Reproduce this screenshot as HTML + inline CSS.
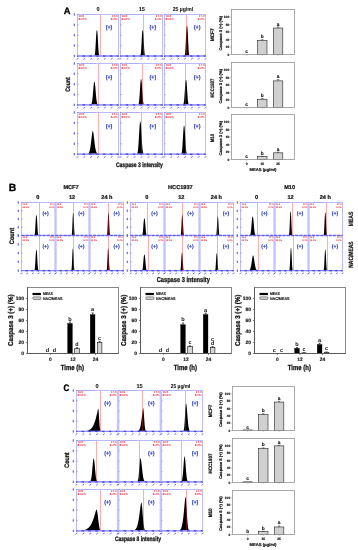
<!DOCTYPE html>
<html><head><meta charset="utf-8"><title>Figure</title>
<style>html,body{margin:0;padding:0;background:#fff;}body{width:358px;height:550px;overflow:hidden;}svg{display:block;}text{font-family:"Liberation Sans",Arial,sans-serif;text-rendering:geometricPrecision;}</style>
</head><body>
<svg width="358" height="550" viewBox="0 0 358 550" font-family="Liberation Sans, Arial, sans-serif">
<rect x="0.00" y="0.00" width="358.00" height="550.00" fill="#fff" stroke="none" stroke-width="1"/>
<text x="67.00" y="14.20" font-size="9.3" text-anchor="middle" font-weight="bold" fill="#000" stroke="#000" stroke-width="0.3">A</text>
<rect x="77.50" y="14.50" width="41.00" height="41.50" fill="#fff" stroke="none" stroke-width="1"/>
<path d="M93.96,56.00 L93.96,55.98 L94.04,55.96 L94.11,55.94 L94.18,55.92 L94.26,55.88 L94.33,55.83 L94.40,55.75 L94.48,55.66 L94.55,55.53 L94.62,55.36 L94.70,55.14 L94.77,54.87 L94.84,54.53 L94.92,54.11 L94.99,53.61 L95.06,53.02 L95.14,52.32 L95.21,51.53 L95.28,50.62 L95.36,49.61 L95.43,48.50 L95.50,47.30 L95.58,46.01 L95.65,44.67 L95.72,43.28 L95.80,41.87 L95.87,40.45 L95.95,39.06 L96.02,37.72 L96.09,36.44 L96.17,35.26 L96.24,34.19 L96.31,33.23 L96.39,32.41 L96.46,31.72 L96.53,31.18 L96.61,30.76 L96.68,30.48 L96.75,30.30 L96.83,30.22 L96.90,30.20 L96.90,30.20 L96.97,30.22 L97.05,30.30 L97.12,30.48 L97.19,30.76 L97.27,31.18 L97.34,31.72 L97.41,32.41 L97.49,33.23 L97.56,34.19 L97.63,35.26 L97.71,36.44 L97.78,37.72 L97.85,39.06 L97.93,40.45 L98.00,41.87 L98.08,43.28 L98.15,44.67 L98.22,46.01 L98.30,47.30 L98.37,48.50 L98.44,49.61 L98.52,50.62 L98.59,51.53 L98.66,52.32 L98.74,53.02 L98.81,53.61 L98.88,54.11 L98.96,54.53 L99.03,54.87 L99.10,55.14 L99.18,55.36 L99.25,55.53 L99.32,55.66 L99.40,55.75 L99.47,55.83 L99.54,55.88 L99.62,55.92 L99.69,55.94 L99.76,55.96 L99.84,55.98 L99.84,56.00 Z" fill="#000"/>
<line x1="100.50" y1="14.50" x2="100.50" y2="56.00" stroke="#ff2020" stroke-width="0.9" opacity="0.42"/>
<rect x="77.50" y="14.50" width="41.00" height="41.50" fill="none" stroke="#b4b4ff" stroke-width="0.9"/>
<line x1="77.50" y1="56.00" x2="118.50" y2="56.00" stroke="#8c8cff" stroke-width="1.3"/>
<line x1="77.50" y1="56.00" x2="78.10" y2="56.00" stroke="#4444ec" stroke-width="1.3"/>
<line x1="82.53" y1="56.00" x2="84.93" y2="56.00" stroke="#4444ec" stroke-width="1.3"/>
<line x1="89.37" y1="56.00" x2="91.77" y2="56.00" stroke="#4444ec" stroke-width="1.3"/>
<line x1="96.20" y1="56.00" x2="98.60" y2="56.00" stroke="#4444ec" stroke-width="1.3"/>
<line x1="103.03" y1="56.00" x2="105.43" y2="56.00" stroke="#4444ec" stroke-width="1.3"/>
<line x1="109.87" y1="56.00" x2="112.27" y2="56.00" stroke="#4444ec" stroke-width="1.3"/>
<line x1="116.70" y1="56.00" x2="118.50" y2="56.00" stroke="#4444ec" stroke-width="1.3"/>
<line x1="81.60" y1="14.50" x2="95.95" y2="14.50" stroke="#8080c0" stroke-width="0.5" opacity="0.5"/>
<line x1="77.50" y1="14.50" x2="78.50" y2="14.50" stroke="#4848f2" stroke-width="0.6"/>
<rect x="73.70" y="13.30" width="1.30" height="2.40" fill="#5c5cf6" stroke="none" stroke-width="1" opacity="0.85"/>
<line x1="77.50" y1="24.88" x2="78.50" y2="24.88" stroke="#4848f2" stroke-width="0.6"/>
<rect x="73.70" y="23.68" width="1.30" height="2.40" fill="#5c5cf6" stroke="none" stroke-width="1" opacity="0.85"/>
<line x1="77.50" y1="35.25" x2="78.50" y2="35.25" stroke="#4848f2" stroke-width="0.6"/>
<rect x="73.70" y="34.05" width="1.30" height="2.40" fill="#5c5cf6" stroke="none" stroke-width="1" opacity="0.85"/>
<line x1="77.50" y1="45.62" x2="78.50" y2="45.62" stroke="#4848f2" stroke-width="0.6"/>
<rect x="73.70" y="44.42" width="1.30" height="2.40" fill="#5c5cf6" stroke="none" stroke-width="1" opacity="0.85"/>
<line x1="77.50" y1="56.00" x2="78.50" y2="56.00" stroke="#4848f2" stroke-width="0.6"/>
<rect x="73.70" y="54.80" width="1.30" height="2.40" fill="#5c5cf6" stroke="none" stroke-width="1" opacity="0.85"/>
<line x1="77.50" y1="56.00" x2="77.50" y2="57.00" stroke="#4848f2" stroke-width="0.5"/>
<line x1="76.60" y1="59.40" x2="78.40" y2="58.20" stroke="#5c5cf6" stroke-width="0.9"/>
<line x1="84.33" y1="56.00" x2="84.33" y2="57.00" stroke="#4848f2" stroke-width="0.5"/>
<line x1="83.43" y1="59.40" x2="85.23" y2="58.20" stroke="#5c5cf6" stroke-width="0.9"/>
<line x1="91.17" y1="56.00" x2="91.17" y2="57.00" stroke="#4848f2" stroke-width="0.5"/>
<line x1="90.27" y1="59.40" x2="92.07" y2="58.20" stroke="#5c5cf6" stroke-width="0.9"/>
<line x1="98.00" y1="56.00" x2="98.00" y2="57.00" stroke="#4848f2" stroke-width="0.5"/>
<line x1="97.10" y1="59.40" x2="98.90" y2="58.20" stroke="#5c5cf6" stroke-width="0.9"/>
<line x1="104.83" y1="56.00" x2="104.83" y2="57.00" stroke="#4848f2" stroke-width="0.5"/>
<line x1="103.93" y1="59.40" x2="105.73" y2="58.20" stroke="#5c5cf6" stroke-width="0.9"/>
<line x1="111.67" y1="56.00" x2="111.67" y2="57.00" stroke="#4848f2" stroke-width="0.5"/>
<line x1="110.77" y1="59.40" x2="112.57" y2="58.20" stroke="#5c5cf6" stroke-width="0.9"/>
<line x1="118.50" y1="56.00" x2="118.50" y2="57.00" stroke="#4848f2" stroke-width="0.5"/>
<line x1="117.60" y1="59.40" x2="119.40" y2="58.20" stroke="#5c5cf6" stroke-width="0.9"/>
<text x="78.40" y="17.30" font-size="3.00" text-anchor="start" font-weight="bold" fill="#ee2a36" text-rendering="geometricPrecision">13.5</text>
<text x="78.40" y="19.80" font-size="3.00" text-anchor="start" font-weight="bold" fill="#ee2a36" text-rendering="geometricPrecision">84.0%</text>
<text x="117.70" y="17.30" font-size="3.00" text-anchor="end" font-weight="bold" fill="#ee2a36" text-rendering="geometricPrecision">17.0</text>
<text x="117.70" y="19.80" font-size="3.00" text-anchor="end" font-weight="bold" fill="#ee2a36" text-rendering="geometricPrecision">8.2%</text>
<text x="109.00" y="28.70" font-size="5.4" text-anchor="middle" font-weight="bold" fill="#2a3ec8" stroke="#2a3ec8" stroke-width="0.15">(+)</text>
<rect x="120.50" y="14.50" width="42.00" height="41.50" fill="#fff" stroke="none" stroke-width="1"/>
<path d="M139.76,56.00 L139.76,55.98 L139.84,55.96 L139.91,55.94 L139.98,55.92 L140.06,55.88 L140.13,55.83 L140.20,55.75 L140.28,55.66 L140.35,55.53 L140.42,55.36 L140.50,55.14 L140.57,54.87 L140.64,54.53 L140.72,54.11 L140.79,53.61 L140.86,53.02 L140.94,52.32 L141.01,51.53 L141.08,50.62 L141.16,49.61 L141.23,48.50 L141.30,47.30 L141.38,46.01 L141.45,44.67 L141.52,43.28 L141.60,41.87 L141.67,40.45 L141.75,39.06 L141.82,37.72 L141.89,36.44 L141.97,35.26 L142.04,34.19 L142.11,33.23 L142.19,32.41 L142.26,31.72 L142.33,31.18 L142.41,30.76 L142.48,30.48 L142.55,30.30 L142.63,30.22 L142.70,30.20 L142.70,30.20 L142.77,30.22 L142.85,30.30 L142.92,30.48 L142.99,30.76 L143.07,31.18 L143.14,31.72 L143.21,32.41 L143.29,33.23 L143.36,34.19 L143.43,35.26 L143.51,36.44 L143.58,37.72 L143.65,39.06 L143.73,40.45 L143.80,41.87 L143.88,43.28 L143.95,44.67 L144.02,46.01 L144.10,47.30 L144.17,48.50 L144.24,49.61 L144.32,50.62 L144.39,51.53 L144.46,52.32 L144.54,53.02 L144.61,53.61 L144.68,54.11 L144.76,54.53 L144.83,54.87 L144.90,55.14 L144.98,55.36 L145.05,55.53 L145.12,55.66 L145.20,55.75 L145.27,55.83 L145.34,55.88 L145.42,55.92 L145.49,55.94 L145.56,55.96 L145.64,55.98 L145.64,56.00 Z" fill="#000"/>
<line x1="143.50" y1="14.50" x2="143.50" y2="56.00" stroke="#ff2020" stroke-width="0.9" opacity="0.42"/>
<rect x="120.50" y="14.50" width="42.00" height="41.50" fill="none" stroke="#b4b4ff" stroke-width="0.9"/>
<line x1="120.50" y1="56.00" x2="162.50" y2="56.00" stroke="#8c8cff" stroke-width="1.3"/>
<line x1="120.50" y1="56.00" x2="121.10" y2="56.00" stroke="#4444ec" stroke-width="1.3"/>
<line x1="125.70" y1="56.00" x2="128.10" y2="56.00" stroke="#4444ec" stroke-width="1.3"/>
<line x1="132.70" y1="56.00" x2="135.10" y2="56.00" stroke="#4444ec" stroke-width="1.3"/>
<line x1="139.70" y1="56.00" x2="142.10" y2="56.00" stroke="#4444ec" stroke-width="1.3"/>
<line x1="146.70" y1="56.00" x2="149.10" y2="56.00" stroke="#4444ec" stroke-width="1.3"/>
<line x1="153.70" y1="56.00" x2="156.10" y2="56.00" stroke="#4444ec" stroke-width="1.3"/>
<line x1="160.70" y1="56.00" x2="162.50" y2="56.00" stroke="#4444ec" stroke-width="1.3"/>
<line x1="124.70" y1="14.50" x2="139.40" y2="14.50" stroke="#8080c0" stroke-width="0.5" opacity="0.5"/>
<line x1="120.50" y1="14.50" x2="121.50" y2="14.50" stroke="#4848f2" stroke-width="0.6"/>
<line x1="120.50" y1="24.88" x2="121.50" y2="24.88" stroke="#4848f2" stroke-width="0.6"/>
<line x1="120.50" y1="35.25" x2="121.50" y2="35.25" stroke="#4848f2" stroke-width="0.6"/>
<line x1="120.50" y1="45.62" x2="121.50" y2="45.62" stroke="#4848f2" stroke-width="0.6"/>
<line x1="120.50" y1="56.00" x2="121.50" y2="56.00" stroke="#4848f2" stroke-width="0.6"/>
<line x1="120.50" y1="56.00" x2="120.50" y2="57.00" stroke="#4848f2" stroke-width="0.5"/>
<line x1="119.60" y1="59.40" x2="121.40" y2="58.20" stroke="#5c5cf6" stroke-width="0.9"/>
<line x1="127.50" y1="56.00" x2="127.50" y2="57.00" stroke="#4848f2" stroke-width="0.5"/>
<line x1="126.60" y1="59.40" x2="128.40" y2="58.20" stroke="#5c5cf6" stroke-width="0.9"/>
<line x1="134.50" y1="56.00" x2="134.50" y2="57.00" stroke="#4848f2" stroke-width="0.5"/>
<line x1="133.60" y1="59.40" x2="135.40" y2="58.20" stroke="#5c5cf6" stroke-width="0.9"/>
<line x1="141.50" y1="56.00" x2="141.50" y2="57.00" stroke="#4848f2" stroke-width="0.5"/>
<line x1="140.60" y1="59.40" x2="142.40" y2="58.20" stroke="#5c5cf6" stroke-width="0.9"/>
<line x1="148.50" y1="56.00" x2="148.50" y2="57.00" stroke="#4848f2" stroke-width="0.5"/>
<line x1="147.60" y1="59.40" x2="149.40" y2="58.20" stroke="#5c5cf6" stroke-width="0.9"/>
<line x1="155.50" y1="56.00" x2="155.50" y2="57.00" stroke="#4848f2" stroke-width="0.5"/>
<line x1="154.60" y1="59.40" x2="156.40" y2="58.20" stroke="#5c5cf6" stroke-width="0.9"/>
<line x1="162.50" y1="56.00" x2="162.50" y2="57.00" stroke="#4848f2" stroke-width="0.5"/>
<line x1="161.60" y1="59.40" x2="163.40" y2="58.20" stroke="#5c5cf6" stroke-width="0.9"/>
<text x="121.40" y="17.30" font-size="3.00" text-anchor="start" font-weight="bold" fill="#ee2a36" text-rendering="geometricPrecision">13.5</text>
<text x="121.40" y="19.80" font-size="3.00" text-anchor="start" font-weight="bold" fill="#ee2a36" text-rendering="geometricPrecision">84.0%</text>
<text x="161.70" y="17.30" font-size="3.00" text-anchor="end" font-weight="bold" fill="#ee2a36" text-rendering="geometricPrecision">17.0</text>
<text x="161.70" y="19.80" font-size="3.00" text-anchor="end" font-weight="bold" fill="#ee2a36" text-rendering="geometricPrecision">8.2%</text>
<text x="152.90" y="28.70" font-size="5.4" text-anchor="middle" font-weight="bold" fill="#2a3ec8" stroke="#2a3ec8" stroke-width="0.15">(+)</text>
<rect x="164.50" y="14.50" width="41.00" height="41.50" fill="#fff" stroke="none" stroke-width="1"/>
<path d="M184.06,56.00 L184.06,55.97 L184.14,55.96 L184.21,55.94 L184.28,55.90 L184.36,55.86 L184.43,55.80 L184.50,55.71 L184.58,55.60 L184.65,55.45 L184.72,55.25 L184.80,55.00 L184.87,54.68 L184.94,54.28 L185.02,53.80 L185.09,53.21 L185.16,52.52 L185.24,51.71 L185.31,50.78 L185.38,49.72 L185.46,48.54 L185.53,47.25 L185.60,45.85 L185.68,44.35 L185.75,42.78 L185.82,41.16 L185.90,39.51 L185.97,37.86 L186.05,36.24 L186.12,34.67 L186.19,33.19 L186.27,31.80 L186.34,30.55 L186.41,29.44 L186.49,28.48 L186.56,27.68 L186.63,27.04 L186.71,26.56 L186.78,26.22 L186.85,26.02 L186.93,25.92 L187.00,25.90 L187.00,25.90 L187.07,25.92 L187.15,26.02 L187.22,26.22 L187.29,26.56 L187.37,27.04 L187.44,27.68 L187.51,28.48 L187.59,29.44 L187.66,30.55 L187.73,31.80 L187.81,33.19 L187.88,34.67 L187.95,36.24 L188.03,37.86 L188.10,39.51 L188.18,41.16 L188.25,42.78 L188.32,44.35 L188.40,45.85 L188.47,47.25 L188.54,48.54 L188.62,49.72 L188.69,50.78 L188.76,51.71 L188.84,52.52 L188.91,53.21 L188.98,53.80 L189.06,54.28 L189.13,54.68 L189.20,55.00 L189.28,55.25 L189.35,55.45 L189.42,55.60 L189.50,55.71 L189.57,55.80 L189.64,55.86 L189.72,55.90 L189.79,55.94 L189.86,55.96 L189.94,55.97 L189.94,56.00 Z" fill="#000"/>
<line x1="186.50" y1="14.50" x2="186.50" y2="56.00" stroke="#ff2020" stroke-width="0.9" opacity="0.42"/>
<rect x="164.50" y="14.50" width="41.00" height="41.50" fill="none" stroke="#b4b4ff" stroke-width="0.9"/>
<line x1="164.50" y1="56.00" x2="205.50" y2="56.00" stroke="#8c8cff" stroke-width="1.3"/>
<line x1="164.50" y1="56.00" x2="165.10" y2="56.00" stroke="#4444ec" stroke-width="1.3"/>
<line x1="169.53" y1="56.00" x2="171.93" y2="56.00" stroke="#4444ec" stroke-width="1.3"/>
<line x1="176.37" y1="56.00" x2="178.77" y2="56.00" stroke="#4444ec" stroke-width="1.3"/>
<line x1="183.20" y1="56.00" x2="185.60" y2="56.00" stroke="#4444ec" stroke-width="1.3"/>
<line x1="190.03" y1="56.00" x2="192.43" y2="56.00" stroke="#4444ec" stroke-width="1.3"/>
<line x1="196.87" y1="56.00" x2="199.27" y2="56.00" stroke="#4444ec" stroke-width="1.3"/>
<line x1="203.70" y1="56.00" x2="205.50" y2="56.00" stroke="#4444ec" stroke-width="1.3"/>
<line x1="168.60" y1="14.50" x2="182.95" y2="14.50" stroke="#8080c0" stroke-width="0.5" opacity="0.5"/>
<line x1="164.50" y1="14.50" x2="165.50" y2="14.50" stroke="#4848f2" stroke-width="0.6"/>
<line x1="164.50" y1="24.88" x2="165.50" y2="24.88" stroke="#4848f2" stroke-width="0.6"/>
<line x1="164.50" y1="35.25" x2="165.50" y2="35.25" stroke="#4848f2" stroke-width="0.6"/>
<line x1="164.50" y1="45.62" x2="165.50" y2="45.62" stroke="#4848f2" stroke-width="0.6"/>
<line x1="164.50" y1="56.00" x2="165.50" y2="56.00" stroke="#4848f2" stroke-width="0.6"/>
<line x1="164.50" y1="56.00" x2="164.50" y2="57.00" stroke="#4848f2" stroke-width="0.5"/>
<line x1="163.60" y1="59.40" x2="165.40" y2="58.20" stroke="#5c5cf6" stroke-width="0.9"/>
<line x1="171.33" y1="56.00" x2="171.33" y2="57.00" stroke="#4848f2" stroke-width="0.5"/>
<line x1="170.43" y1="59.40" x2="172.23" y2="58.20" stroke="#5c5cf6" stroke-width="0.9"/>
<line x1="178.17" y1="56.00" x2="178.17" y2="57.00" stroke="#4848f2" stroke-width="0.5"/>
<line x1="177.27" y1="59.40" x2="179.07" y2="58.20" stroke="#5c5cf6" stroke-width="0.9"/>
<line x1="185.00" y1="56.00" x2="185.00" y2="57.00" stroke="#4848f2" stroke-width="0.5"/>
<line x1="184.10" y1="59.40" x2="185.90" y2="58.20" stroke="#5c5cf6" stroke-width="0.9"/>
<line x1="191.83" y1="56.00" x2="191.83" y2="57.00" stroke="#4848f2" stroke-width="0.5"/>
<line x1="190.93" y1="59.40" x2="192.73" y2="58.20" stroke="#5c5cf6" stroke-width="0.9"/>
<line x1="198.67" y1="56.00" x2="198.67" y2="57.00" stroke="#4848f2" stroke-width="0.5"/>
<line x1="197.77" y1="59.40" x2="199.57" y2="58.20" stroke="#5c5cf6" stroke-width="0.9"/>
<line x1="205.50" y1="56.00" x2="205.50" y2="57.00" stroke="#4848f2" stroke-width="0.5"/>
<line x1="204.60" y1="59.40" x2="206.40" y2="58.20" stroke="#5c5cf6" stroke-width="0.9"/>
<text x="165.40" y="17.30" font-size="3.00" text-anchor="start" font-weight="bold" fill="#ee2a36" text-rendering="geometricPrecision">13.5</text>
<text x="165.40" y="19.80" font-size="3.00" text-anchor="start" font-weight="bold" fill="#ee2a36" text-rendering="geometricPrecision">84.0%</text>
<text x="204.70" y="17.30" font-size="3.00" text-anchor="end" font-weight="bold" fill="#ee2a36" text-rendering="geometricPrecision">17.0</text>
<text x="204.70" y="19.80" font-size="3.00" text-anchor="end" font-weight="bold" fill="#ee2a36" text-rendering="geometricPrecision">8.2%</text>
<text x="197.10" y="28.70" font-size="5.4" text-anchor="middle" font-weight="bold" fill="#2a3ec8" stroke="#2a3ec8" stroke-width="0.15">(+)</text>
<rect x="77.50" y="63.50" width="41.00" height="41.40" fill="#fff" stroke="none" stroke-width="1"/>
<path d="M90.22,104.90 L90.22,104.86 L90.32,104.85 L90.42,104.83 L90.53,104.80 L90.63,104.76 L90.74,104.71 L90.84,104.65 L90.95,104.57 L91.05,104.48 L91.16,104.35 L91.26,104.20 L91.37,104.00 L91.47,103.77 L91.58,103.49 L91.68,103.16 L91.78,102.76 L91.89,102.30 L91.99,101.77 L92.10,101.15 L92.20,100.46 L92.31,99.69 L92.41,98.83 L92.52,97.89 L92.62,96.88 L92.73,95.80 L92.83,94.65 L92.94,93.46 L93.04,92.24 L93.14,90.99 L93.25,89.76 L93.35,88.54 L93.46,87.37 L93.56,86.26 L93.67,85.24 L93.77,84.32 L93.88,83.52 L93.98,82.86 L94.09,82.34 L94.19,81.98 L94.30,81.76 L94.40,81.70 L94.40,81.70 L94.50,81.76 L94.61,81.98 L94.71,82.34 L94.82,82.86 L94.92,83.52 L95.03,84.32 L95.13,85.24 L95.24,86.26 L95.34,87.37 L95.45,88.54 L95.55,89.76 L95.66,90.99 L95.76,92.24 L95.86,93.46 L95.97,94.65 L96.07,95.80 L96.18,96.88 L96.28,97.89 L96.39,98.83 L96.49,99.69 L96.60,100.46 L96.70,101.15 L96.81,101.77 L96.91,102.30 L97.02,102.76 L97.12,103.16 L97.22,103.49 L97.33,103.77 L97.43,104.00 L97.54,104.20 L97.64,104.35 L97.75,104.48 L97.85,104.57 L97.96,104.65 L98.06,104.71 L98.17,104.76 L98.27,104.80 L98.38,104.83 L98.48,104.85 L98.58,104.86 L98.58,104.90 Z" fill="#000"/>
<line x1="98.50" y1="63.50" x2="98.50" y2="104.90" stroke="#ff2020" stroke-width="0.9" opacity="0.42"/>
<rect x="77.50" y="63.50" width="41.00" height="41.40" fill="none" stroke="#b4b4ff" stroke-width="0.9"/>
<line x1="77.50" y1="104.90" x2="118.50" y2="104.90" stroke="#8c8cff" stroke-width="1.3"/>
<line x1="77.50" y1="104.90" x2="78.10" y2="104.90" stroke="#4444ec" stroke-width="1.3"/>
<line x1="82.53" y1="104.90" x2="84.93" y2="104.90" stroke="#4444ec" stroke-width="1.3"/>
<line x1="89.37" y1="104.90" x2="91.77" y2="104.90" stroke="#4444ec" stroke-width="1.3"/>
<line x1="96.20" y1="104.90" x2="98.60" y2="104.90" stroke="#4444ec" stroke-width="1.3"/>
<line x1="103.03" y1="104.90" x2="105.43" y2="104.90" stroke="#4444ec" stroke-width="1.3"/>
<line x1="109.87" y1="104.90" x2="112.27" y2="104.90" stroke="#4444ec" stroke-width="1.3"/>
<line x1="116.70" y1="104.90" x2="118.50" y2="104.90" stroke="#4444ec" stroke-width="1.3"/>
<line x1="81.60" y1="63.50" x2="95.95" y2="63.50" stroke="#8080c0" stroke-width="0.5" opacity="0.5"/>
<line x1="77.50" y1="63.50" x2="78.50" y2="63.50" stroke="#4848f2" stroke-width="0.6"/>
<rect x="73.70" y="62.30" width="1.30" height="2.40" fill="#5c5cf6" stroke="none" stroke-width="1" opacity="0.85"/>
<line x1="77.50" y1="73.85" x2="78.50" y2="73.85" stroke="#4848f2" stroke-width="0.6"/>
<rect x="73.70" y="72.65" width="1.30" height="2.40" fill="#5c5cf6" stroke="none" stroke-width="1" opacity="0.85"/>
<line x1="77.50" y1="84.20" x2="78.50" y2="84.20" stroke="#4848f2" stroke-width="0.6"/>
<rect x="73.70" y="83.00" width="1.30" height="2.40" fill="#5c5cf6" stroke="none" stroke-width="1" opacity="0.85"/>
<line x1="77.50" y1="94.55" x2="78.50" y2="94.55" stroke="#4848f2" stroke-width="0.6"/>
<rect x="73.70" y="93.35" width="1.30" height="2.40" fill="#5c5cf6" stroke="none" stroke-width="1" opacity="0.85"/>
<line x1="77.50" y1="104.90" x2="78.50" y2="104.90" stroke="#4848f2" stroke-width="0.6"/>
<rect x="73.70" y="103.70" width="1.30" height="2.40" fill="#5c5cf6" stroke="none" stroke-width="1" opacity="0.85"/>
<line x1="77.50" y1="104.90" x2="77.50" y2="105.90" stroke="#4848f2" stroke-width="0.5"/>
<line x1="76.60" y1="108.30" x2="78.40" y2="107.10" stroke="#5c5cf6" stroke-width="0.9"/>
<line x1="84.33" y1="104.90" x2="84.33" y2="105.90" stroke="#4848f2" stroke-width="0.5"/>
<line x1="83.43" y1="108.30" x2="85.23" y2="107.10" stroke="#5c5cf6" stroke-width="0.9"/>
<line x1="91.17" y1="104.90" x2="91.17" y2="105.90" stroke="#4848f2" stroke-width="0.5"/>
<line x1="90.27" y1="108.30" x2="92.07" y2="107.10" stroke="#5c5cf6" stroke-width="0.9"/>
<line x1="98.00" y1="104.90" x2="98.00" y2="105.90" stroke="#4848f2" stroke-width="0.5"/>
<line x1="97.10" y1="108.30" x2="98.90" y2="107.10" stroke="#5c5cf6" stroke-width="0.9"/>
<line x1="104.83" y1="104.90" x2="104.83" y2="105.90" stroke="#4848f2" stroke-width="0.5"/>
<line x1="103.93" y1="108.30" x2="105.73" y2="107.10" stroke="#5c5cf6" stroke-width="0.9"/>
<line x1="111.67" y1="104.90" x2="111.67" y2="105.90" stroke="#4848f2" stroke-width="0.5"/>
<line x1="110.77" y1="108.30" x2="112.57" y2="107.10" stroke="#5c5cf6" stroke-width="0.9"/>
<line x1="118.50" y1="104.90" x2="118.50" y2="105.90" stroke="#4848f2" stroke-width="0.5"/>
<line x1="117.60" y1="108.30" x2="119.40" y2="107.10" stroke="#5c5cf6" stroke-width="0.9"/>
<text x="78.40" y="66.30" font-size="3.00" text-anchor="start" font-weight="bold" fill="#ee2a36" text-rendering="geometricPrecision">13.5</text>
<text x="78.40" y="68.80" font-size="3.00" text-anchor="start" font-weight="bold" fill="#ee2a36" text-rendering="geometricPrecision">84.0%</text>
<text x="117.70" y="66.30" font-size="3.00" text-anchor="end" font-weight="bold" fill="#ee2a36" text-rendering="geometricPrecision">17.0</text>
<text x="117.70" y="68.80" font-size="3.00" text-anchor="end" font-weight="bold" fill="#ee2a36" text-rendering="geometricPrecision">8.2%</text>
<text x="109.00" y="79.30" font-size="5.4" text-anchor="middle" font-weight="bold" fill="#2a3ec8" stroke="#2a3ec8" stroke-width="0.15">(+)</text>
<rect x="120.50" y="63.50" width="42.00" height="41.40" fill="#fff" stroke="none" stroke-width="1"/>
<path d="M137.67,104.90 L137.67,104.87 L137.76,104.85 L137.84,104.83 L137.93,104.81 L138.01,104.77 L138.10,104.71 L138.19,104.64 L138.27,104.55 L138.36,104.43 L138.44,104.27 L138.53,104.08 L138.61,103.83 L138.70,103.53 L138.79,103.16 L138.87,102.72 L138.96,102.20 L139.04,101.59 L139.13,100.88 L139.21,100.07 L139.30,99.17 L139.39,98.17 L139.47,97.08 L139.56,95.89 L139.64,94.64 L139.73,93.32 L139.81,91.96 L139.90,90.57 L139.99,89.18 L140.07,87.81 L140.16,86.49 L140.24,85.22 L140.33,84.05 L140.41,82.98 L140.50,82.03 L140.59,81.21 L140.67,80.53 L140.76,80.00 L140.84,79.61 L140.93,79.36 L141.01,79.23 L141.10,79.20 L141.10,79.20 L141.19,79.23 L141.27,79.36 L141.36,79.61 L141.44,80.00 L141.53,80.53 L141.61,81.21 L141.70,82.03 L141.79,82.98 L141.87,84.05 L141.96,85.22 L142.04,86.49 L142.13,87.81 L142.21,89.18 L142.30,90.57 L142.39,91.96 L142.47,93.32 L142.56,94.64 L142.64,95.89 L142.73,97.08 L142.81,98.17 L142.90,99.17 L142.99,100.07 L143.07,100.88 L143.16,101.59 L143.24,102.20 L143.33,102.72 L143.41,103.16 L143.50,103.53 L143.59,103.83 L143.67,104.08 L143.76,104.27 L143.84,104.43 L143.93,104.55 L144.01,104.64 L144.10,104.71 L144.19,104.77 L144.27,104.81 L144.36,104.83 L144.44,104.85 L144.53,104.87 L144.53,104.90 Z" fill="#000"/>
<line x1="142.50" y1="63.50" x2="142.50" y2="104.90" stroke="#ff2020" stroke-width="0.9" opacity="0.42"/>
<rect x="120.50" y="63.50" width="42.00" height="41.40" fill="none" stroke="#b4b4ff" stroke-width="0.9"/>
<line x1="120.50" y1="104.90" x2="162.50" y2="104.90" stroke="#8c8cff" stroke-width="1.3"/>
<line x1="120.50" y1="104.90" x2="121.10" y2="104.90" stroke="#4444ec" stroke-width="1.3"/>
<line x1="125.70" y1="104.90" x2="128.10" y2="104.90" stroke="#4444ec" stroke-width="1.3"/>
<line x1="132.70" y1="104.90" x2="135.10" y2="104.90" stroke="#4444ec" stroke-width="1.3"/>
<line x1="139.70" y1="104.90" x2="142.10" y2="104.90" stroke="#4444ec" stroke-width="1.3"/>
<line x1="146.70" y1="104.90" x2="149.10" y2="104.90" stroke="#4444ec" stroke-width="1.3"/>
<line x1="153.70" y1="104.90" x2="156.10" y2="104.90" stroke="#4444ec" stroke-width="1.3"/>
<line x1="160.70" y1="104.90" x2="162.50" y2="104.90" stroke="#4444ec" stroke-width="1.3"/>
<line x1="124.70" y1="63.50" x2="139.40" y2="63.50" stroke="#8080c0" stroke-width="0.5" opacity="0.5"/>
<line x1="120.50" y1="63.50" x2="121.50" y2="63.50" stroke="#4848f2" stroke-width="0.6"/>
<line x1="120.50" y1="73.85" x2="121.50" y2="73.85" stroke="#4848f2" stroke-width="0.6"/>
<line x1="120.50" y1="84.20" x2="121.50" y2="84.20" stroke="#4848f2" stroke-width="0.6"/>
<line x1="120.50" y1="94.55" x2="121.50" y2="94.55" stroke="#4848f2" stroke-width="0.6"/>
<line x1="120.50" y1="104.90" x2="121.50" y2="104.90" stroke="#4848f2" stroke-width="0.6"/>
<line x1="120.50" y1="104.90" x2="120.50" y2="105.90" stroke="#4848f2" stroke-width="0.5"/>
<line x1="119.60" y1="108.30" x2="121.40" y2="107.10" stroke="#5c5cf6" stroke-width="0.9"/>
<line x1="127.50" y1="104.90" x2="127.50" y2="105.90" stroke="#4848f2" stroke-width="0.5"/>
<line x1="126.60" y1="108.30" x2="128.40" y2="107.10" stroke="#5c5cf6" stroke-width="0.9"/>
<line x1="134.50" y1="104.90" x2="134.50" y2="105.90" stroke="#4848f2" stroke-width="0.5"/>
<line x1="133.60" y1="108.30" x2="135.40" y2="107.10" stroke="#5c5cf6" stroke-width="0.9"/>
<line x1="141.50" y1="104.90" x2="141.50" y2="105.90" stroke="#4848f2" stroke-width="0.5"/>
<line x1="140.60" y1="108.30" x2="142.40" y2="107.10" stroke="#5c5cf6" stroke-width="0.9"/>
<line x1="148.50" y1="104.90" x2="148.50" y2="105.90" stroke="#4848f2" stroke-width="0.5"/>
<line x1="147.60" y1="108.30" x2="149.40" y2="107.10" stroke="#5c5cf6" stroke-width="0.9"/>
<line x1="155.50" y1="104.90" x2="155.50" y2="105.90" stroke="#4848f2" stroke-width="0.5"/>
<line x1="154.60" y1="108.30" x2="156.40" y2="107.10" stroke="#5c5cf6" stroke-width="0.9"/>
<line x1="162.50" y1="104.90" x2="162.50" y2="105.90" stroke="#4848f2" stroke-width="0.5"/>
<line x1="161.60" y1="108.30" x2="163.40" y2="107.10" stroke="#5c5cf6" stroke-width="0.9"/>
<text x="121.40" y="66.30" font-size="3.00" text-anchor="start" font-weight="bold" fill="#ee2a36" text-rendering="geometricPrecision">13.5</text>
<text x="121.40" y="68.80" font-size="3.00" text-anchor="start" font-weight="bold" fill="#ee2a36" text-rendering="geometricPrecision">84.0%</text>
<text x="161.70" y="66.30" font-size="3.00" text-anchor="end" font-weight="bold" fill="#ee2a36" text-rendering="geometricPrecision">17.0</text>
<text x="161.70" y="68.80" font-size="3.00" text-anchor="end" font-weight="bold" fill="#ee2a36" text-rendering="geometricPrecision">8.2%</text>
<text x="152.90" y="79.30" font-size="5.4" text-anchor="middle" font-weight="bold" fill="#2a3ec8" stroke="#2a3ec8" stroke-width="0.15">(+)</text>
<rect x="164.50" y="63.50" width="41.00" height="41.40" fill="#fff" stroke="none" stroke-width="1"/>
<path d="M182.57,104.90 L182.57,104.87 L182.66,104.86 L182.74,104.84 L182.83,104.81 L182.91,104.77 L183.00,104.72 L183.09,104.65 L183.17,104.56 L183.26,104.44 L183.34,104.29 L183.43,104.10 L183.51,103.86 L183.60,103.56 L183.69,103.20 L183.77,102.77 L183.86,102.26 L183.94,101.66 L184.03,100.97 L184.11,100.19 L184.20,99.31 L184.29,98.33 L184.37,97.26 L184.46,96.10 L184.54,94.88 L184.63,93.59 L184.71,92.26 L184.80,90.91 L184.89,89.55 L184.97,88.21 L185.06,86.92 L185.14,85.68 L185.23,84.53 L185.31,83.49 L185.40,82.56 L185.49,81.76 L185.57,81.10 L185.66,80.58 L185.74,80.20 L185.83,79.96 L185.91,79.83 L186.00,79.80 L186.00,79.80 L186.09,79.83 L186.17,79.96 L186.26,80.20 L186.34,80.58 L186.43,81.10 L186.51,81.76 L186.60,82.56 L186.69,83.49 L186.77,84.53 L186.86,85.68 L186.94,86.92 L187.03,88.21 L187.11,89.55 L187.20,90.91 L187.29,92.26 L187.37,93.59 L187.46,94.88 L187.54,96.10 L187.63,97.26 L187.71,98.33 L187.80,99.31 L187.89,100.19 L187.97,100.97 L188.06,101.66 L188.14,102.26 L188.23,102.77 L188.31,103.20 L188.40,103.56 L188.49,103.86 L188.57,104.10 L188.66,104.29 L188.74,104.44 L188.83,104.56 L188.91,104.65 L189.00,104.72 L189.09,104.77 L189.17,104.81 L189.26,104.84 L189.34,104.86 L189.43,104.87 L189.43,104.90 Z" fill="#000"/>
<line x1="185.50" y1="63.50" x2="185.50" y2="104.90" stroke="#ff2020" stroke-width="0.9" opacity="0.42"/>
<rect x="164.50" y="63.50" width="41.00" height="41.40" fill="none" stroke="#b4b4ff" stroke-width="0.9"/>
<line x1="164.50" y1="104.90" x2="205.50" y2="104.90" stroke="#8c8cff" stroke-width="1.3"/>
<line x1="164.50" y1="104.90" x2="165.10" y2="104.90" stroke="#4444ec" stroke-width="1.3"/>
<line x1="169.53" y1="104.90" x2="171.93" y2="104.90" stroke="#4444ec" stroke-width="1.3"/>
<line x1="176.37" y1="104.90" x2="178.77" y2="104.90" stroke="#4444ec" stroke-width="1.3"/>
<line x1="183.20" y1="104.90" x2="185.60" y2="104.90" stroke="#4444ec" stroke-width="1.3"/>
<line x1="190.03" y1="104.90" x2="192.43" y2="104.90" stroke="#4444ec" stroke-width="1.3"/>
<line x1="196.87" y1="104.90" x2="199.27" y2="104.90" stroke="#4444ec" stroke-width="1.3"/>
<line x1="203.70" y1="104.90" x2="205.50" y2="104.90" stroke="#4444ec" stroke-width="1.3"/>
<line x1="168.60" y1="63.50" x2="182.95" y2="63.50" stroke="#8080c0" stroke-width="0.5" opacity="0.5"/>
<line x1="164.50" y1="63.50" x2="165.50" y2="63.50" stroke="#4848f2" stroke-width="0.6"/>
<line x1="164.50" y1="73.85" x2="165.50" y2="73.85" stroke="#4848f2" stroke-width="0.6"/>
<line x1="164.50" y1="84.20" x2="165.50" y2="84.20" stroke="#4848f2" stroke-width="0.6"/>
<line x1="164.50" y1="94.55" x2="165.50" y2="94.55" stroke="#4848f2" stroke-width="0.6"/>
<line x1="164.50" y1="104.90" x2="165.50" y2="104.90" stroke="#4848f2" stroke-width="0.6"/>
<line x1="164.50" y1="104.90" x2="164.50" y2="105.90" stroke="#4848f2" stroke-width="0.5"/>
<line x1="163.60" y1="108.30" x2="165.40" y2="107.10" stroke="#5c5cf6" stroke-width="0.9"/>
<line x1="171.33" y1="104.90" x2="171.33" y2="105.90" stroke="#4848f2" stroke-width="0.5"/>
<line x1="170.43" y1="108.30" x2="172.23" y2="107.10" stroke="#5c5cf6" stroke-width="0.9"/>
<line x1="178.17" y1="104.90" x2="178.17" y2="105.90" stroke="#4848f2" stroke-width="0.5"/>
<line x1="177.27" y1="108.30" x2="179.07" y2="107.10" stroke="#5c5cf6" stroke-width="0.9"/>
<line x1="185.00" y1="104.90" x2="185.00" y2="105.90" stroke="#4848f2" stroke-width="0.5"/>
<line x1="184.10" y1="108.30" x2="185.90" y2="107.10" stroke="#5c5cf6" stroke-width="0.9"/>
<line x1="191.83" y1="104.90" x2="191.83" y2="105.90" stroke="#4848f2" stroke-width="0.5"/>
<line x1="190.93" y1="108.30" x2="192.73" y2="107.10" stroke="#5c5cf6" stroke-width="0.9"/>
<line x1="198.67" y1="104.90" x2="198.67" y2="105.90" stroke="#4848f2" stroke-width="0.5"/>
<line x1="197.77" y1="108.30" x2="199.57" y2="107.10" stroke="#5c5cf6" stroke-width="0.9"/>
<line x1="205.50" y1="104.90" x2="205.50" y2="105.90" stroke="#4848f2" stroke-width="0.5"/>
<line x1="204.60" y1="108.30" x2="206.40" y2="107.10" stroke="#5c5cf6" stroke-width="0.9"/>
<text x="165.40" y="66.30" font-size="3.00" text-anchor="start" font-weight="bold" fill="#ee2a36" text-rendering="geometricPrecision">13.5</text>
<text x="165.40" y="68.80" font-size="3.00" text-anchor="start" font-weight="bold" fill="#ee2a36" text-rendering="geometricPrecision">84.0%</text>
<text x="204.70" y="66.30" font-size="3.00" text-anchor="end" font-weight="bold" fill="#ee2a36" text-rendering="geometricPrecision">17.0</text>
<text x="204.70" y="68.80" font-size="3.00" text-anchor="end" font-weight="bold" fill="#ee2a36" text-rendering="geometricPrecision">8.2%</text>
<text x="197.10" y="79.30" font-size="5.4" text-anchor="middle" font-weight="bold" fill="#2a3ec8" stroke="#2a3ec8" stroke-width="0.15">(+)</text>
<rect x="77.50" y="112.50" width="41.00" height="41.70" fill="#fff" stroke="none" stroke-width="1"/>
<path d="M86.84,154.20 L86.84,154.14 L86.99,154.12 L87.14,154.09 L87.29,154.06 L87.43,154.03 L87.58,153.98 L87.73,153.92 L87.88,153.86 L88.03,153.77 L88.18,153.67 L88.33,153.54 L88.48,153.39 L88.63,153.21 L88.78,153.00 L88.92,152.74 L89.07,152.45 L89.22,152.11 L89.37,151.71 L89.52,151.25 L89.67,150.73 L89.82,150.15 L89.97,149.49 L90.12,148.75 L90.27,147.94 L90.42,147.05 L90.56,146.08 L90.71,145.03 L90.86,143.92 L91.01,142.75 L91.16,141.52 L91.31,140.26 L91.46,138.98 L91.61,137.70 L91.76,136.44 L91.91,135.22 L92.05,134.08 L92.20,133.04 L92.35,132.15 L92.50,131.42 L92.65,130.92 L92.80,130.70 L92.80,130.70 L92.95,130.92 L93.10,131.42 L93.25,132.15 L93.40,133.04 L93.55,134.08 L93.69,135.22 L93.84,136.44 L93.99,137.70 L94.14,138.98 L94.29,140.26 L94.44,141.52 L94.59,142.75 L94.74,143.92 L94.89,145.03 L95.04,146.08 L95.18,147.05 L95.33,147.94 L95.48,148.75 L95.63,149.49 L95.78,150.15 L95.93,150.73 L96.08,151.25 L96.23,151.71 L96.38,152.11 L96.53,152.45 L96.68,152.74 L96.82,153.00 L96.97,153.21 L97.12,153.39 L97.27,153.54 L97.42,153.67 L97.57,153.77 L97.72,153.86 L97.87,153.92 L98.02,153.98 L98.17,154.03 L98.31,154.06 L98.46,154.09 L98.61,154.12 L98.76,154.14 L98.76,154.20 Z" fill="#000"/>
<line x1="98.50" y1="112.50" x2="98.50" y2="154.20" stroke="#ff2020" stroke-width="0.9" opacity="0.42"/>
<rect x="77.50" y="112.50" width="41.00" height="41.70" fill="none" stroke="#b4b4ff" stroke-width="0.9"/>
<line x1="77.50" y1="154.20" x2="118.50" y2="154.20" stroke="#8c8cff" stroke-width="1.3"/>
<line x1="77.50" y1="154.20" x2="78.10" y2="154.20" stroke="#4444ec" stroke-width="1.3"/>
<line x1="82.53" y1="154.20" x2="84.93" y2="154.20" stroke="#4444ec" stroke-width="1.3"/>
<line x1="89.37" y1="154.20" x2="91.77" y2="154.20" stroke="#4444ec" stroke-width="1.3"/>
<line x1="96.20" y1="154.20" x2="98.60" y2="154.20" stroke="#4444ec" stroke-width="1.3"/>
<line x1="103.03" y1="154.20" x2="105.43" y2="154.20" stroke="#4444ec" stroke-width="1.3"/>
<line x1="109.87" y1="154.20" x2="112.27" y2="154.20" stroke="#4444ec" stroke-width="1.3"/>
<line x1="116.70" y1="154.20" x2="118.50" y2="154.20" stroke="#4444ec" stroke-width="1.3"/>
<line x1="81.60" y1="112.50" x2="95.95" y2="112.50" stroke="#8080c0" stroke-width="0.5" opacity="0.5"/>
<line x1="77.50" y1="112.50" x2="78.50" y2="112.50" stroke="#4848f2" stroke-width="0.6"/>
<rect x="73.70" y="111.30" width="1.30" height="2.40" fill="#5c5cf6" stroke="none" stroke-width="1" opacity="0.85"/>
<line x1="77.50" y1="122.92" x2="78.50" y2="122.92" stroke="#4848f2" stroke-width="0.6"/>
<rect x="73.70" y="121.72" width="1.30" height="2.40" fill="#5c5cf6" stroke="none" stroke-width="1" opacity="0.85"/>
<line x1="77.50" y1="133.35" x2="78.50" y2="133.35" stroke="#4848f2" stroke-width="0.6"/>
<rect x="73.70" y="132.15" width="1.30" height="2.40" fill="#5c5cf6" stroke="none" stroke-width="1" opacity="0.85"/>
<line x1="77.50" y1="143.77" x2="78.50" y2="143.77" stroke="#4848f2" stroke-width="0.6"/>
<rect x="73.70" y="142.57" width="1.30" height="2.40" fill="#5c5cf6" stroke="none" stroke-width="1" opacity="0.85"/>
<line x1="77.50" y1="154.20" x2="78.50" y2="154.20" stroke="#4848f2" stroke-width="0.6"/>
<rect x="73.70" y="153.00" width="1.30" height="2.40" fill="#5c5cf6" stroke="none" stroke-width="1" opacity="0.85"/>
<line x1="77.50" y1="154.20" x2="77.50" y2="155.20" stroke="#4848f2" stroke-width="0.5"/>
<line x1="76.60" y1="157.60" x2="78.40" y2="156.40" stroke="#5c5cf6" stroke-width="0.9"/>
<line x1="84.33" y1="154.20" x2="84.33" y2="155.20" stroke="#4848f2" stroke-width="0.5"/>
<line x1="83.43" y1="157.60" x2="85.23" y2="156.40" stroke="#5c5cf6" stroke-width="0.9"/>
<line x1="91.17" y1="154.20" x2="91.17" y2="155.20" stroke="#4848f2" stroke-width="0.5"/>
<line x1="90.27" y1="157.60" x2="92.07" y2="156.40" stroke="#5c5cf6" stroke-width="0.9"/>
<line x1="98.00" y1="154.20" x2="98.00" y2="155.20" stroke="#4848f2" stroke-width="0.5"/>
<line x1="97.10" y1="157.60" x2="98.90" y2="156.40" stroke="#5c5cf6" stroke-width="0.9"/>
<line x1="104.83" y1="154.20" x2="104.83" y2="155.20" stroke="#4848f2" stroke-width="0.5"/>
<line x1="103.93" y1="157.60" x2="105.73" y2="156.40" stroke="#5c5cf6" stroke-width="0.9"/>
<line x1="111.67" y1="154.20" x2="111.67" y2="155.20" stroke="#4848f2" stroke-width="0.5"/>
<line x1="110.77" y1="157.60" x2="112.57" y2="156.40" stroke="#5c5cf6" stroke-width="0.9"/>
<line x1="118.50" y1="154.20" x2="118.50" y2="155.20" stroke="#4848f2" stroke-width="0.5"/>
<line x1="117.60" y1="157.60" x2="119.40" y2="156.40" stroke="#5c5cf6" stroke-width="0.9"/>
<text x="78.40" y="115.30" font-size="3.00" text-anchor="start" font-weight="bold" fill="#ee2a36" text-rendering="geometricPrecision">13.5</text>
<text x="78.40" y="117.80" font-size="3.00" text-anchor="start" font-weight="bold" fill="#ee2a36" text-rendering="geometricPrecision">84.0%</text>
<text x="117.70" y="115.30" font-size="3.00" text-anchor="end" font-weight="bold" fill="#ee2a36" text-rendering="geometricPrecision">17.0</text>
<text x="117.70" y="117.80" font-size="3.00" text-anchor="end" font-weight="bold" fill="#ee2a36" text-rendering="geometricPrecision">8.2%</text>
<text x="109.00" y="128.30" font-size="5.4" text-anchor="middle" font-weight="bold" fill="#2a3ec8" stroke="#2a3ec8" stroke-width="0.15">(+)</text>
<rect x="120.50" y="112.50" width="42.00" height="41.70" fill="#fff" stroke="none" stroke-width="1"/>
<path d="M136.32,154.20 L136.32,154.15 L136.42,154.13 L136.52,154.10 L136.62,154.06 L136.72,154.01 L136.82,153.94 L136.91,153.86 L137.01,153.74 L137.11,153.60 L137.21,153.42 L137.31,153.19 L137.41,152.91 L137.51,152.57 L137.61,152.15 L137.71,151.66 L137.81,151.07 L137.91,150.39 L138.01,149.60 L138.11,148.69 L138.21,147.67 L138.31,146.53 L138.41,145.27 L138.51,143.90 L138.61,142.42 L138.71,140.85 L138.81,139.20 L138.91,137.49 L139.01,135.74 L139.11,133.98 L139.20,132.24 L139.30,130.54 L139.40,128.92 L139.50,127.40 L139.60,126.01 L139.70,124.78 L139.80,123.72 L139.90,122.86 L140.00,122.19 L140.10,121.73 L140.20,121.48 L140.30,121.40 L140.30,121.40 L140.40,121.48 L140.50,121.73 L140.60,122.19 L140.70,122.86 L140.80,123.72 L140.90,124.78 L141.00,126.01 L141.10,127.40 L141.20,128.92 L141.30,130.54 L141.40,132.24 L141.49,133.98 L141.59,135.74 L141.69,137.49 L141.79,139.20 L141.89,140.85 L141.99,142.42 L142.09,143.90 L142.19,145.27 L142.29,146.53 L142.39,147.67 L142.49,148.69 L142.59,149.60 L142.69,150.39 L142.79,151.07 L142.89,151.66 L142.99,152.15 L143.09,152.57 L143.19,152.91 L143.29,153.19 L143.39,153.42 L143.49,153.60 L143.59,153.74 L143.69,153.86 L143.78,153.94 L143.88,154.01 L143.98,154.06 L144.08,154.10 L144.18,154.13 L144.28,154.15 L144.28,154.20 Z" fill="#000"/>
<line x1="141.50" y1="112.50" x2="141.50" y2="154.20" stroke="#ff2020" stroke-width="0.9" opacity="0.42"/>
<rect x="120.50" y="112.50" width="42.00" height="41.70" fill="none" stroke="#b4b4ff" stroke-width="0.9"/>
<line x1="120.50" y1="154.20" x2="162.50" y2="154.20" stroke="#8c8cff" stroke-width="1.3"/>
<line x1="120.50" y1="154.20" x2="121.10" y2="154.20" stroke="#4444ec" stroke-width="1.3"/>
<line x1="125.70" y1="154.20" x2="128.10" y2="154.20" stroke="#4444ec" stroke-width="1.3"/>
<line x1="132.70" y1="154.20" x2="135.10" y2="154.20" stroke="#4444ec" stroke-width="1.3"/>
<line x1="139.70" y1="154.20" x2="142.10" y2="154.20" stroke="#4444ec" stroke-width="1.3"/>
<line x1="146.70" y1="154.20" x2="149.10" y2="154.20" stroke="#4444ec" stroke-width="1.3"/>
<line x1="153.70" y1="154.20" x2="156.10" y2="154.20" stroke="#4444ec" stroke-width="1.3"/>
<line x1="160.70" y1="154.20" x2="162.50" y2="154.20" stroke="#4444ec" stroke-width="1.3"/>
<line x1="124.70" y1="112.50" x2="139.40" y2="112.50" stroke="#8080c0" stroke-width="0.5" opacity="0.5"/>
<line x1="120.50" y1="112.50" x2="121.50" y2="112.50" stroke="#4848f2" stroke-width="0.6"/>
<line x1="120.50" y1="122.92" x2="121.50" y2="122.92" stroke="#4848f2" stroke-width="0.6"/>
<line x1="120.50" y1="133.35" x2="121.50" y2="133.35" stroke="#4848f2" stroke-width="0.6"/>
<line x1="120.50" y1="143.77" x2="121.50" y2="143.77" stroke="#4848f2" stroke-width="0.6"/>
<line x1="120.50" y1="154.20" x2="121.50" y2="154.20" stroke="#4848f2" stroke-width="0.6"/>
<line x1="120.50" y1="154.20" x2="120.50" y2="155.20" stroke="#4848f2" stroke-width="0.5"/>
<line x1="119.60" y1="157.60" x2="121.40" y2="156.40" stroke="#5c5cf6" stroke-width="0.9"/>
<line x1="127.50" y1="154.20" x2="127.50" y2="155.20" stroke="#4848f2" stroke-width="0.5"/>
<line x1="126.60" y1="157.60" x2="128.40" y2="156.40" stroke="#5c5cf6" stroke-width="0.9"/>
<line x1="134.50" y1="154.20" x2="134.50" y2="155.20" stroke="#4848f2" stroke-width="0.5"/>
<line x1="133.60" y1="157.60" x2="135.40" y2="156.40" stroke="#5c5cf6" stroke-width="0.9"/>
<line x1="141.50" y1="154.20" x2="141.50" y2="155.20" stroke="#4848f2" stroke-width="0.5"/>
<line x1="140.60" y1="157.60" x2="142.40" y2="156.40" stroke="#5c5cf6" stroke-width="0.9"/>
<line x1="148.50" y1="154.20" x2="148.50" y2="155.20" stroke="#4848f2" stroke-width="0.5"/>
<line x1="147.60" y1="157.60" x2="149.40" y2="156.40" stroke="#5c5cf6" stroke-width="0.9"/>
<line x1="155.50" y1="154.20" x2="155.50" y2="155.20" stroke="#4848f2" stroke-width="0.5"/>
<line x1="154.60" y1="157.60" x2="156.40" y2="156.40" stroke="#5c5cf6" stroke-width="0.9"/>
<line x1="162.50" y1="154.20" x2="162.50" y2="155.20" stroke="#4848f2" stroke-width="0.5"/>
<line x1="161.60" y1="157.60" x2="163.40" y2="156.40" stroke="#5c5cf6" stroke-width="0.9"/>
<text x="121.40" y="115.30" font-size="3.00" text-anchor="start" font-weight="bold" fill="#ee2a36" text-rendering="geometricPrecision">13.5</text>
<text x="121.40" y="117.80" font-size="3.00" text-anchor="start" font-weight="bold" fill="#ee2a36" text-rendering="geometricPrecision">84.0%</text>
<text x="161.70" y="115.30" font-size="3.00" text-anchor="end" font-weight="bold" fill="#ee2a36" text-rendering="geometricPrecision">17.0</text>
<text x="161.70" y="117.80" font-size="3.00" text-anchor="end" font-weight="bold" fill="#ee2a36" text-rendering="geometricPrecision">8.2%</text>
<text x="152.90" y="128.30" font-size="5.4" text-anchor="middle" font-weight="bold" fill="#2a3ec8" stroke="#2a3ec8" stroke-width="0.15">(+)</text>
<rect x="164.50" y="112.50" width="41.00" height="41.70" fill="#fff" stroke="none" stroke-width="1"/>
<path d="M180.67,154.20 L180.67,154.17 L180.76,154.15 L180.84,154.13 L180.93,154.09 L181.01,154.05 L181.10,153.99 L181.19,153.91 L181.27,153.81 L181.36,153.67 L181.44,153.50 L181.53,153.28 L181.61,153.01 L181.70,152.67 L181.79,152.26 L181.87,151.77 L181.96,151.18 L182.04,150.50 L182.13,149.71 L182.21,148.81 L182.30,147.80 L182.39,146.68 L182.47,145.46 L182.56,144.14 L182.64,142.74 L182.73,141.27 L182.81,139.75 L182.90,138.20 L182.99,136.65 L183.07,135.12 L183.16,133.64 L183.24,132.23 L183.33,130.91 L183.41,129.72 L183.50,128.66 L183.59,127.74 L183.67,126.99 L183.76,126.39 L183.84,125.96 L183.93,125.68 L184.01,125.54 L184.10,125.50 L184.10,125.50 L184.19,125.54 L184.27,125.68 L184.36,125.96 L184.44,126.39 L184.53,126.99 L184.61,127.74 L184.70,128.66 L184.79,129.72 L184.87,130.91 L184.96,132.23 L185.04,133.64 L185.13,135.12 L185.21,136.65 L185.30,138.20 L185.39,139.75 L185.47,141.27 L185.56,142.74 L185.64,144.14 L185.73,145.46 L185.81,146.68 L185.90,147.80 L185.99,148.81 L186.07,149.71 L186.16,150.50 L186.24,151.18 L186.33,151.77 L186.41,152.26 L186.50,152.67 L186.59,153.01 L186.67,153.28 L186.76,153.50 L186.84,153.67 L186.93,153.81 L187.01,153.91 L187.10,153.99 L187.19,154.05 L187.27,154.09 L187.36,154.13 L187.44,154.15 L187.53,154.17 L187.53,154.20 Z" fill="#000"/>
<line x1="185.50" y1="112.50" x2="185.50" y2="154.20" stroke="#ff2020" stroke-width="0.9" opacity="0.42"/>
<rect x="164.50" y="112.50" width="41.00" height="41.70" fill="none" stroke="#b4b4ff" stroke-width="0.9"/>
<line x1="164.50" y1="154.20" x2="205.50" y2="154.20" stroke="#8c8cff" stroke-width="1.3"/>
<line x1="164.50" y1="154.20" x2="165.10" y2="154.20" stroke="#4444ec" stroke-width="1.3"/>
<line x1="169.53" y1="154.20" x2="171.93" y2="154.20" stroke="#4444ec" stroke-width="1.3"/>
<line x1="176.37" y1="154.20" x2="178.77" y2="154.20" stroke="#4444ec" stroke-width="1.3"/>
<line x1="183.20" y1="154.20" x2="185.60" y2="154.20" stroke="#4444ec" stroke-width="1.3"/>
<line x1="190.03" y1="154.20" x2="192.43" y2="154.20" stroke="#4444ec" stroke-width="1.3"/>
<line x1="196.87" y1="154.20" x2="199.27" y2="154.20" stroke="#4444ec" stroke-width="1.3"/>
<line x1="203.70" y1="154.20" x2="205.50" y2="154.20" stroke="#4444ec" stroke-width="1.3"/>
<line x1="168.60" y1="112.50" x2="182.95" y2="112.50" stroke="#8080c0" stroke-width="0.5" opacity="0.5"/>
<line x1="164.50" y1="112.50" x2="165.50" y2="112.50" stroke="#4848f2" stroke-width="0.6"/>
<line x1="164.50" y1="122.92" x2="165.50" y2="122.92" stroke="#4848f2" stroke-width="0.6"/>
<line x1="164.50" y1="133.35" x2="165.50" y2="133.35" stroke="#4848f2" stroke-width="0.6"/>
<line x1="164.50" y1="143.77" x2="165.50" y2="143.77" stroke="#4848f2" stroke-width="0.6"/>
<line x1="164.50" y1="154.20" x2="165.50" y2="154.20" stroke="#4848f2" stroke-width="0.6"/>
<line x1="164.50" y1="154.20" x2="164.50" y2="155.20" stroke="#4848f2" stroke-width="0.5"/>
<line x1="163.60" y1="157.60" x2="165.40" y2="156.40" stroke="#5c5cf6" stroke-width="0.9"/>
<line x1="171.33" y1="154.20" x2="171.33" y2="155.20" stroke="#4848f2" stroke-width="0.5"/>
<line x1="170.43" y1="157.60" x2="172.23" y2="156.40" stroke="#5c5cf6" stroke-width="0.9"/>
<line x1="178.17" y1="154.20" x2="178.17" y2="155.20" stroke="#4848f2" stroke-width="0.5"/>
<line x1="177.27" y1="157.60" x2="179.07" y2="156.40" stroke="#5c5cf6" stroke-width="0.9"/>
<line x1="185.00" y1="154.20" x2="185.00" y2="155.20" stroke="#4848f2" stroke-width="0.5"/>
<line x1="184.10" y1="157.60" x2="185.90" y2="156.40" stroke="#5c5cf6" stroke-width="0.9"/>
<line x1="191.83" y1="154.20" x2="191.83" y2="155.20" stroke="#4848f2" stroke-width="0.5"/>
<line x1="190.93" y1="157.60" x2="192.73" y2="156.40" stroke="#5c5cf6" stroke-width="0.9"/>
<line x1="198.67" y1="154.20" x2="198.67" y2="155.20" stroke="#4848f2" stroke-width="0.5"/>
<line x1="197.77" y1="157.60" x2="199.57" y2="156.40" stroke="#5c5cf6" stroke-width="0.9"/>
<line x1="205.50" y1="154.20" x2="205.50" y2="155.20" stroke="#4848f2" stroke-width="0.5"/>
<line x1="204.60" y1="157.60" x2="206.40" y2="156.40" stroke="#5c5cf6" stroke-width="0.9"/>
<text x="165.40" y="115.30" font-size="3.00" text-anchor="start" font-weight="bold" fill="#ee2a36" text-rendering="geometricPrecision">13.5</text>
<text x="165.40" y="117.80" font-size="3.00" text-anchor="start" font-weight="bold" fill="#ee2a36" text-rendering="geometricPrecision">84.0%</text>
<text x="204.70" y="115.30" font-size="3.00" text-anchor="end" font-weight="bold" fill="#ee2a36" text-rendering="geometricPrecision">17.0</text>
<text x="204.70" y="117.80" font-size="3.00" text-anchor="end" font-weight="bold" fill="#ee2a36" text-rendering="geometricPrecision">8.2%</text>
<text x="197.10" y="128.30" font-size="5.4" text-anchor="middle" font-weight="bold" fill="#2a3ec8" stroke="#2a3ec8" stroke-width="0.15">(+)</text>
<text x="98.00" y="11.00" font-size="5.6" text-anchor="middle" font-weight="bold" fill="#111" stroke="#111" stroke-width="0.08">0</text>
<text x="141.80" y="11.00" font-size="5.6" text-anchor="middle" font-weight="bold" fill="#111" stroke="#111" stroke-width="0.08">15</text>
<text x="183.00" y="11.00" font-size="5.6" text-anchor="middle" font-weight="bold" fill="#111" stroke="#111" stroke-width="0.08" textLength="20.40" lengthAdjust="spacingAndGlyphs">25 µg/ml</text>
<text x="69.70" y="84.60" font-size="6.6" text-anchor="middle" font-weight="bold" fill="#111" stroke="#111" stroke-width="0.28" textLength="14.40" lengthAdjust="spacingAndGlyphs" transform="rotate(-90 69.70 84.60)">Count</text>
<text x="139.40" y="166.70" font-size="6.6" text-anchor="middle" font-weight="bold" fill="#111" stroke="#111" stroke-width="0.28" textLength="46.90" lengthAdjust="spacingAndGlyphs">Caspase 3 intensity</text>
<text x="214.20" y="34.80" font-size="5.1" text-anchor="middle" font-weight="bold" fill="#111" stroke="#111" stroke-width="0.22" textLength="12.90" lengthAdjust="spacingAndGlyphs" transform="rotate(-90 214.20 34.80)">MCF7</text>
<text x="214.20" y="88.10" font-size="5.1" text-anchor="middle" font-weight="bold" fill="#111" stroke="#111" stroke-width="0.22" textLength="19.00" lengthAdjust="spacingAndGlyphs" transform="rotate(-90 214.20 88.10)">HCC1937</text>
<text x="214.20" y="138.00" font-size="5.1" text-anchor="middle" font-weight="bold" fill="#111" stroke="#111" stroke-width="0.22" textLength="8.50" lengthAdjust="spacingAndGlyphs" transform="rotate(-90 214.20 138.00)">M10</text>
<text x="246.70" y="53.10" font-size="4.8" text-anchor="middle" font-weight="bold" fill="#111" stroke="#111" stroke-width="0.1">c</text>
<rect x="257.60" y="40.62" width="9.40" height="13.88" fill="#d0d0d0" stroke="#222" stroke-width="0.6"/>
<line x1="262.30" y1="40.62" x2="262.30" y2="39.69" stroke="#222" stroke-width="0.5"/>
<line x1="261.10" y1="39.69" x2="263.50" y2="39.69" stroke="#222" stroke-width="0.5"/>
<text x="262.30" y="38.29" font-size="4.8" text-anchor="middle" font-weight="bold" fill="#111" stroke="#111" stroke-width="0.1">b</text>
<rect x="273.40" y="28.03" width="9.40" height="26.47" fill="#d0d0d0" stroke="#222" stroke-width="0.6"/>
<line x1="278.10" y1="28.03" x2="278.10" y2="26.90" stroke="#222" stroke-width="0.5"/>
<line x1="276.90" y1="26.90" x2="279.30" y2="26.90" stroke="#222" stroke-width="0.5"/>
<text x="278.10" y="25.50" font-size="4.8" text-anchor="middle" font-weight="bold" fill="#111" stroke="#111" stroke-width="0.1">a</text>
<rect x="231.50" y="9.50" width="63.00" height="45.00" fill="none" stroke="#959595" stroke-width="0.8"/>
<line x1="230.30" y1="54.50" x2="231.50" y2="54.50" stroke="#959595" stroke-width="0.6"/>
<text x="229.30" y="55.70" font-size="3.3" text-anchor="end" font-weight="bold" fill="#111" stroke="#111" stroke-width="0.14">0</text>
<line x1="230.30" y1="47.00" x2="231.50" y2="47.00" stroke="#959595" stroke-width="0.6"/>
<text x="229.30" y="48.20" font-size="3.3" text-anchor="end" font-weight="bold" fill="#111" stroke="#111" stroke-width="0.14">20</text>
<line x1="230.30" y1="39.50" x2="231.50" y2="39.50" stroke="#959595" stroke-width="0.6"/>
<text x="229.30" y="40.70" font-size="3.3" text-anchor="end" font-weight="bold" fill="#111" stroke="#111" stroke-width="0.14">40</text>
<line x1="230.30" y1="32.00" x2="231.50" y2="32.00" stroke="#959595" stroke-width="0.6"/>
<text x="229.30" y="33.20" font-size="3.3" text-anchor="end" font-weight="bold" fill="#111" stroke="#111" stroke-width="0.14">60</text>
<line x1="230.30" y1="24.50" x2="231.50" y2="24.50" stroke="#959595" stroke-width="0.6"/>
<text x="229.30" y="25.70" font-size="3.3" text-anchor="end" font-weight="bold" fill="#111" stroke="#111" stroke-width="0.14">80</text>
<line x1="230.30" y1="17.00" x2="231.50" y2="17.00" stroke="#959595" stroke-width="0.6"/>
<text x="229.30" y="18.20" font-size="3.3" text-anchor="end" font-weight="bold" fill="#111" stroke="#111" stroke-width="0.14">100</text>
<line x1="246.70" y1="54.50" x2="246.70" y2="55.70" stroke="#959595" stroke-width="0.6"/>
<line x1="262.30" y1="54.50" x2="262.30" y2="55.70" stroke="#959595" stroke-width="0.6"/>
<line x1="278.10" y1="54.50" x2="278.10" y2="55.70" stroke="#959595" stroke-width="0.6"/>
<text x="222.00" y="33.20" font-size="3.9" text-anchor="middle" font-weight="bold" fill="#111" stroke="#111" stroke-width="0.2" textLength="34.50" lengthAdjust="spacingAndGlyphs" transform="rotate(-90 222.00 33.20)">Caspase 3 (+) (%)</text>
<text x="246.70" y="106.10" font-size="4.8" text-anchor="middle" font-weight="bold" fill="#111" stroke="#111" stroke-width="0.1">c</text>
<rect x="257.60" y="99.25" width="9.40" height="8.25" fill="#d0d0d0" stroke="#222" stroke-width="0.6"/>
<line x1="262.30" y1="99.25" x2="262.30" y2="98.50" stroke="#222" stroke-width="0.5"/>
<line x1="261.10" y1="98.50" x2="263.50" y2="98.50" stroke="#222" stroke-width="0.5"/>
<text x="262.30" y="97.10" font-size="4.8" text-anchor="middle" font-weight="bold" fill="#111" stroke="#111" stroke-width="0.1">b</text>
<rect x="273.40" y="80.88" width="9.40" height="26.62" fill="#d0d0d0" stroke="#222" stroke-width="0.6"/>
<line x1="278.10" y1="80.88" x2="278.10" y2="79.38" stroke="#222" stroke-width="0.5"/>
<line x1="276.90" y1="79.38" x2="279.30" y2="79.38" stroke="#222" stroke-width="0.5"/>
<text x="278.10" y="77.97" font-size="4.8" text-anchor="middle" font-weight="bold" fill="#111" stroke="#111" stroke-width="0.1">a</text>
<rect x="231.50" y="62.50" width="63.00" height="45.00" fill="none" stroke="#959595" stroke-width="0.8"/>
<line x1="230.30" y1="107.50" x2="231.50" y2="107.50" stroke="#959595" stroke-width="0.6"/>
<text x="229.30" y="108.70" font-size="3.3" text-anchor="end" font-weight="bold" fill="#111" stroke="#111" stroke-width="0.14">0</text>
<line x1="230.30" y1="100.00" x2="231.50" y2="100.00" stroke="#959595" stroke-width="0.6"/>
<text x="229.30" y="101.20" font-size="3.3" text-anchor="end" font-weight="bold" fill="#111" stroke="#111" stroke-width="0.14">20</text>
<line x1="230.30" y1="92.50" x2="231.50" y2="92.50" stroke="#959595" stroke-width="0.6"/>
<text x="229.30" y="93.70" font-size="3.3" text-anchor="end" font-weight="bold" fill="#111" stroke="#111" stroke-width="0.14">40</text>
<line x1="230.30" y1="85.00" x2="231.50" y2="85.00" stroke="#959595" stroke-width="0.6"/>
<text x="229.30" y="86.20" font-size="3.3" text-anchor="end" font-weight="bold" fill="#111" stroke="#111" stroke-width="0.14">60</text>
<line x1="230.30" y1="77.50" x2="231.50" y2="77.50" stroke="#959595" stroke-width="0.6"/>
<text x="229.30" y="78.70" font-size="3.3" text-anchor="end" font-weight="bold" fill="#111" stroke="#111" stroke-width="0.14">80</text>
<line x1="230.30" y1="70.00" x2="231.50" y2="70.00" stroke="#959595" stroke-width="0.6"/>
<text x="229.30" y="71.20" font-size="3.3" text-anchor="end" font-weight="bold" fill="#111" stroke="#111" stroke-width="0.14">100</text>
<line x1="246.70" y1="107.50" x2="246.70" y2="108.70" stroke="#959595" stroke-width="0.6"/>
<line x1="262.30" y1="107.50" x2="262.30" y2="108.70" stroke="#959595" stroke-width="0.6"/>
<line x1="278.10" y1="107.50" x2="278.10" y2="108.70" stroke="#959595" stroke-width="0.6"/>
<text x="222.00" y="86.20" font-size="3.9" text-anchor="middle" font-weight="bold" fill="#111" stroke="#111" stroke-width="0.2" textLength="34.50" lengthAdjust="spacingAndGlyphs" transform="rotate(-90 222.00 86.20)">Caspase 3 (+) (%)</text>
<text x="246.70" y="158.10" font-size="4.8" text-anchor="middle" font-weight="bold" fill="#111" stroke="#111" stroke-width="0.1">c</text>
<rect x="257.60" y="156.65" width="9.40" height="2.85" fill="#d0d0d0" stroke="#222" stroke-width="0.6"/>
<line x1="262.30" y1="156.65" x2="262.30" y2="156.28" stroke="#222" stroke-width="0.5"/>
<line x1="261.10" y1="156.28" x2="263.50" y2="156.28" stroke="#222" stroke-width="0.5"/>
<text x="262.30" y="154.88" font-size="4.8" text-anchor="middle" font-weight="bold" fill="#111" stroke="#111" stroke-width="0.1">b</text>
<rect x="273.40" y="152.82" width="9.40" height="6.68" fill="#d0d0d0" stroke="#222" stroke-width="0.6"/>
<line x1="278.10" y1="152.82" x2="278.10" y2="152.07" stroke="#222" stroke-width="0.5"/>
<line x1="276.90" y1="152.07" x2="279.30" y2="152.07" stroke="#222" stroke-width="0.5"/>
<text x="278.10" y="150.67" font-size="4.8" text-anchor="middle" font-weight="bold" fill="#111" stroke="#111" stroke-width="0.1">a</text>
<rect x="231.50" y="114.50" width="63.00" height="45.00" fill="none" stroke="#959595" stroke-width="0.8"/>
<line x1="230.30" y1="159.50" x2="231.50" y2="159.50" stroke="#959595" stroke-width="0.6"/>
<text x="229.30" y="160.70" font-size="3.3" text-anchor="end" font-weight="bold" fill="#111" stroke="#111" stroke-width="0.14">0</text>
<line x1="230.30" y1="152.00" x2="231.50" y2="152.00" stroke="#959595" stroke-width="0.6"/>
<text x="229.30" y="153.20" font-size="3.3" text-anchor="end" font-weight="bold" fill="#111" stroke="#111" stroke-width="0.14">20</text>
<line x1="230.30" y1="144.50" x2="231.50" y2="144.50" stroke="#959595" stroke-width="0.6"/>
<text x="229.30" y="145.70" font-size="3.3" text-anchor="end" font-weight="bold" fill="#111" stroke="#111" stroke-width="0.14">40</text>
<line x1="230.30" y1="137.00" x2="231.50" y2="137.00" stroke="#959595" stroke-width="0.6"/>
<text x="229.30" y="138.20" font-size="3.3" text-anchor="end" font-weight="bold" fill="#111" stroke="#111" stroke-width="0.14">60</text>
<line x1="230.30" y1="129.50" x2="231.50" y2="129.50" stroke="#959595" stroke-width="0.6"/>
<text x="229.30" y="130.70" font-size="3.3" text-anchor="end" font-weight="bold" fill="#111" stroke="#111" stroke-width="0.14">80</text>
<line x1="230.30" y1="122.00" x2="231.50" y2="122.00" stroke="#959595" stroke-width="0.6"/>
<text x="229.30" y="123.20" font-size="3.3" text-anchor="end" font-weight="bold" fill="#111" stroke="#111" stroke-width="0.14">100</text>
<line x1="246.70" y1="159.50" x2="246.70" y2="160.70" stroke="#959595" stroke-width="0.6"/>
<line x1="262.30" y1="159.50" x2="262.30" y2="160.70" stroke="#959595" stroke-width="0.6"/>
<line x1="278.10" y1="159.50" x2="278.10" y2="160.70" stroke="#959595" stroke-width="0.6"/>
<text x="246.70" y="164.50" font-size="3.4" text-anchor="middle" font-weight="bold" fill="#111" stroke="#111" stroke-width="0.15">0</text>
<text x="262.30" y="164.50" font-size="3.4" text-anchor="middle" font-weight="bold" fill="#111" stroke="#111" stroke-width="0.15">15</text>
<text x="278.10" y="164.50" font-size="3.4" text-anchor="middle" font-weight="bold" fill="#111" stroke="#111" stroke-width="0.15">25</text>
<text x="222.00" y="138.20" font-size="3.9" text-anchor="middle" font-weight="bold" fill="#111" stroke="#111" stroke-width="0.2" textLength="34.50" lengthAdjust="spacingAndGlyphs" transform="rotate(-90 222.00 138.20)">Caspase 3 (+) (%)</text>
<text x="263.00" y="171.20" font-size="4.2" text-anchor="middle" font-weight="bold" fill="#111" stroke="#111" stroke-width="0.18" textLength="27.00" lengthAdjust="spacingAndGlyphs">MEAS (µg/ml)</text>
<text x="12.40" y="191.30" font-size="10.4" text-anchor="middle" font-weight="bold" fill="#000" stroke="#000" stroke-width="0.3">B</text>
<rect x="21.50" y="202.50" width="34.00" height="33.10" fill="#fff" stroke="none" stroke-width="1"/>
<path d="M33.93,235.60 L33.93,235.58 L33.99,235.57 L34.06,235.56 L34.12,235.53 L34.18,235.50 L34.24,235.46 L34.30,235.40 L34.36,235.33 L34.43,235.22 L34.49,235.09 L34.55,234.92 L34.61,234.70 L34.67,234.43 L34.73,234.10 L34.80,233.70 L34.86,233.23 L34.92,232.68 L34.98,232.04 L35.04,231.32 L35.10,230.52 L35.17,229.64 L35.23,228.68 L35.29,227.67 L35.35,226.60 L35.41,225.49 L35.47,224.37 L35.54,223.25 L35.60,222.14 L35.66,221.07 L35.72,220.06 L35.78,219.12 L35.84,218.27 L35.91,217.51 L35.97,216.86 L36.03,216.31 L36.09,215.88 L36.15,215.55 L36.21,215.32 L36.28,215.18 L36.34,215.11 L36.40,215.10 L36.40,215.10 L36.46,215.11 L36.52,215.18 L36.59,215.32 L36.65,215.55 L36.71,215.88 L36.77,216.31 L36.83,216.86 L36.89,217.51 L36.96,218.27 L37.02,219.12 L37.08,220.06 L37.14,221.07 L37.20,222.14 L37.26,223.25 L37.33,224.37 L37.39,225.49 L37.45,226.60 L37.51,227.67 L37.57,228.68 L37.63,229.64 L37.70,230.52 L37.76,231.32 L37.82,232.04 L37.88,232.68 L37.94,233.23 L38.00,233.70 L38.07,234.10 L38.13,234.43 L38.19,234.70 L38.25,234.92 L38.31,235.09 L38.37,235.22 L38.44,235.33 L38.50,235.40 L38.56,235.46 L38.62,235.50 L38.68,235.53 L38.74,235.56 L38.81,235.57 L38.87,235.58 L38.87,235.60 Z" fill="#000"/>
<line x1="39.50" y1="202.50" x2="39.50" y2="235.60" stroke="#ff2020" stroke-width="0.9" opacity="0.42"/>
<rect x="21.50" y="202.50" width="34.00" height="33.10" fill="none" stroke="#b4b4ff" stroke-width="0.9"/>
<line x1="21.50" y1="235.60" x2="55.50" y2="235.60" stroke="#8c8cff" stroke-width="1.3"/>
<line x1="21.50" y1="235.60" x2="22.10" y2="235.60" stroke="#4444ec" stroke-width="1.3"/>
<line x1="25.37" y1="235.60" x2="27.77" y2="235.60" stroke="#4444ec" stroke-width="1.3"/>
<line x1="31.03" y1="235.60" x2="33.43" y2="235.60" stroke="#4444ec" stroke-width="1.3"/>
<line x1="36.70" y1="235.60" x2="39.10" y2="235.60" stroke="#4444ec" stroke-width="1.3"/>
<line x1="42.37" y1="235.60" x2="44.77" y2="235.60" stroke="#4444ec" stroke-width="1.3"/>
<line x1="48.03" y1="235.60" x2="50.43" y2="235.60" stroke="#4444ec" stroke-width="1.3"/>
<line x1="53.70" y1="235.60" x2="55.50" y2="235.60" stroke="#4444ec" stroke-width="1.3"/>
<line x1="24.90" y1="202.50" x2="36.80" y2="202.50" stroke="#8080c0" stroke-width="0.5" opacity="0.5"/>
<line x1="21.50" y1="202.50" x2="22.50" y2="202.50" stroke="#4848f2" stroke-width="0.6"/>
<rect x="17.70" y="201.30" width="1.30" height="2.40" fill="#5c5cf6" stroke="none" stroke-width="1" opacity="0.85"/>
<line x1="21.50" y1="210.78" x2="22.50" y2="210.78" stroke="#4848f2" stroke-width="0.6"/>
<rect x="17.70" y="209.58" width="1.30" height="2.40" fill="#5c5cf6" stroke="none" stroke-width="1" opacity="0.85"/>
<line x1="21.50" y1="219.05" x2="22.50" y2="219.05" stroke="#4848f2" stroke-width="0.6"/>
<rect x="17.70" y="217.85" width="1.30" height="2.40" fill="#5c5cf6" stroke="none" stroke-width="1" opacity="0.85"/>
<line x1="21.50" y1="227.32" x2="22.50" y2="227.32" stroke="#4848f2" stroke-width="0.6"/>
<rect x="17.70" y="226.12" width="1.30" height="2.40" fill="#5c5cf6" stroke="none" stroke-width="1" opacity="0.85"/>
<line x1="21.50" y1="235.60" x2="22.50" y2="235.60" stroke="#4848f2" stroke-width="0.6"/>
<rect x="17.70" y="234.40" width="1.30" height="2.40" fill="#5c5cf6" stroke="none" stroke-width="1" opacity="0.85"/>
<line x1="21.50" y1="235.60" x2="21.50" y2="236.60" stroke="#4848f2" stroke-width="0.5"/>
<line x1="27.17" y1="235.60" x2="27.17" y2="236.60" stroke="#4848f2" stroke-width="0.5"/>
<line x1="32.83" y1="235.60" x2="32.83" y2="236.60" stroke="#4848f2" stroke-width="0.5"/>
<line x1="38.50" y1="235.60" x2="38.50" y2="236.60" stroke="#4848f2" stroke-width="0.5"/>
<line x1="44.17" y1="235.60" x2="44.17" y2="236.60" stroke="#4848f2" stroke-width="0.5"/>
<line x1="49.83" y1="235.60" x2="49.83" y2="236.60" stroke="#4848f2" stroke-width="0.5"/>
<line x1="55.50" y1="235.60" x2="55.50" y2="236.60" stroke="#4848f2" stroke-width="0.5"/>
<text x="22.40" y="205.30" font-size="2.40" text-anchor="start" font-weight="bold" fill="#ee2a36" text-rendering="geometricPrecision">13.5</text>
<text x="22.40" y="207.80" font-size="2.40" text-anchor="start" font-weight="bold" fill="#ee2a36" text-rendering="geometricPrecision">84.0%</text>
<text x="54.70" y="205.30" font-size="2.40" text-anchor="end" font-weight="bold" fill="#ee2a36" text-rendering="geometricPrecision">17.0</text>
<text x="54.70" y="207.80" font-size="2.40" text-anchor="end" font-weight="bold" fill="#ee2a36" text-rendering="geometricPrecision">8.2%</text>
<text x="45.60" y="215.00" font-size="5.1" text-anchor="middle" font-weight="bold" fill="#2a3ec8" stroke="#2a3ec8" stroke-width="0.15">(+)</text>
<rect x="55.50" y="202.50" width="34.00" height="33.10" fill="#fff" stroke="none" stroke-width="1"/>
<path d="M71.20,235.60 L71.20,235.58 L71.25,235.57 L71.30,235.55 L71.35,235.53 L71.40,235.49 L71.45,235.45 L71.50,235.38 L71.55,235.30 L71.60,235.18 L71.65,235.04 L71.70,234.85 L71.75,234.60 L71.80,234.31 L71.85,233.94 L71.90,233.50 L71.95,232.98 L72.00,232.37 L72.05,231.66 L72.10,230.87 L72.15,229.98 L72.20,229.00 L72.25,227.94 L72.30,226.81 L72.35,225.63 L72.40,224.41 L72.45,223.16 L72.50,221.92 L72.55,220.70 L72.60,219.51 L72.65,218.39 L72.70,217.35 L72.75,216.41 L72.80,215.57 L72.85,214.84 L72.90,214.24 L72.95,213.76 L73.00,213.40 L73.05,213.14 L73.10,212.99 L73.15,212.92 L73.20,212.90 L73.20,212.90 L73.25,212.92 L73.30,212.99 L73.35,213.14 L73.40,213.40 L73.45,213.76 L73.50,214.24 L73.55,214.84 L73.60,215.57 L73.65,216.41 L73.70,217.35 L73.75,218.39 L73.80,219.51 L73.85,220.70 L73.90,221.92 L73.95,223.16 L74.00,224.41 L74.05,225.63 L74.10,226.81 L74.15,227.94 L74.20,229.00 L74.25,229.98 L74.30,230.87 L74.35,231.66 L74.40,232.37 L74.45,232.98 L74.50,233.50 L74.55,233.94 L74.60,234.31 L74.65,234.60 L74.70,234.85 L74.75,235.04 L74.80,235.18 L74.85,235.30 L74.90,235.38 L74.95,235.45 L75.00,235.49 L75.05,235.53 L75.10,235.55 L75.15,235.57 L75.20,235.58 L75.20,235.60 Z" fill="#000"/>
<line x1="73.50" y1="202.50" x2="73.50" y2="235.60" stroke="#ff2020" stroke-width="0.9" opacity="0.42"/>
<rect x="55.50" y="202.50" width="34.00" height="33.10" fill="none" stroke="#b4b4ff" stroke-width="0.9"/>
<line x1="55.50" y1="235.60" x2="89.50" y2="235.60" stroke="#8c8cff" stroke-width="1.3"/>
<line x1="55.50" y1="235.60" x2="56.10" y2="235.60" stroke="#4444ec" stroke-width="1.3"/>
<line x1="59.37" y1="235.60" x2="61.77" y2="235.60" stroke="#4444ec" stroke-width="1.3"/>
<line x1="65.03" y1="235.60" x2="67.43" y2="235.60" stroke="#4444ec" stroke-width="1.3"/>
<line x1="70.70" y1="235.60" x2="73.10" y2="235.60" stroke="#4444ec" stroke-width="1.3"/>
<line x1="76.37" y1="235.60" x2="78.77" y2="235.60" stroke="#4444ec" stroke-width="1.3"/>
<line x1="82.03" y1="235.60" x2="84.43" y2="235.60" stroke="#4444ec" stroke-width="1.3"/>
<line x1="87.70" y1="235.60" x2="89.50" y2="235.60" stroke="#4444ec" stroke-width="1.3"/>
<line x1="58.90" y1="202.50" x2="70.80" y2="202.50" stroke="#8080c0" stroke-width="0.5" opacity="0.5"/>
<line x1="55.50" y1="202.50" x2="56.50" y2="202.50" stroke="#4848f2" stroke-width="0.6"/>
<line x1="55.50" y1="210.78" x2="56.50" y2="210.78" stroke="#4848f2" stroke-width="0.6"/>
<line x1="55.50" y1="219.05" x2="56.50" y2="219.05" stroke="#4848f2" stroke-width="0.6"/>
<line x1="55.50" y1="227.32" x2="56.50" y2="227.32" stroke="#4848f2" stroke-width="0.6"/>
<line x1="55.50" y1="235.60" x2="56.50" y2="235.60" stroke="#4848f2" stroke-width="0.6"/>
<line x1="55.50" y1="235.60" x2="55.50" y2="236.60" stroke="#4848f2" stroke-width="0.5"/>
<line x1="61.17" y1="235.60" x2="61.17" y2="236.60" stroke="#4848f2" stroke-width="0.5"/>
<line x1="66.83" y1="235.60" x2="66.83" y2="236.60" stroke="#4848f2" stroke-width="0.5"/>
<line x1="72.50" y1="235.60" x2="72.50" y2="236.60" stroke="#4848f2" stroke-width="0.5"/>
<line x1="78.17" y1="235.60" x2="78.17" y2="236.60" stroke="#4848f2" stroke-width="0.5"/>
<line x1="83.83" y1="235.60" x2="83.83" y2="236.60" stroke="#4848f2" stroke-width="0.5"/>
<line x1="89.50" y1="235.60" x2="89.50" y2="236.60" stroke="#4848f2" stroke-width="0.5"/>
<text x="56.40" y="205.30" font-size="2.40" text-anchor="start" font-weight="bold" fill="#ee2a36" text-rendering="geometricPrecision">13.5</text>
<text x="56.40" y="207.80" font-size="2.40" text-anchor="start" font-weight="bold" fill="#ee2a36" text-rendering="geometricPrecision">84.0%</text>
<text x="88.70" y="205.30" font-size="2.40" text-anchor="end" font-weight="bold" fill="#ee2a36" text-rendering="geometricPrecision">17.0</text>
<text x="88.70" y="207.80" font-size="2.40" text-anchor="end" font-weight="bold" fill="#ee2a36" text-rendering="geometricPrecision">8.2%</text>
<text x="81.33" y="215.00" font-size="5.1" text-anchor="middle" font-weight="bold" fill="#2a3ec8" stroke="#2a3ec8" stroke-width="0.15">(+)</text>
<rect x="89.50" y="202.50" width="34.00" height="33.10" fill="#fff" stroke="none" stroke-width="1"/>
<path d="M106.50,235.60 L106.50,235.58 L106.55,235.57 L106.60,235.55 L106.65,235.53 L106.70,235.49 L106.75,235.45 L106.80,235.38 L106.85,235.30 L106.90,235.18 L106.95,235.04 L107.00,234.85 L107.05,234.60 L107.10,234.31 L107.15,233.94 L107.20,233.50 L107.25,232.98 L107.30,232.37 L107.35,231.66 L107.40,230.87 L107.45,229.98 L107.50,229.00 L107.55,227.94 L107.60,226.81 L107.65,225.63 L107.70,224.41 L107.75,223.16 L107.80,221.92 L107.85,220.70 L107.90,219.51 L107.95,218.39 L108.00,217.35 L108.05,216.41 L108.10,215.57 L108.15,214.84 L108.20,214.24 L108.25,213.76 L108.30,213.40 L108.35,213.14 L108.40,212.99 L108.45,212.92 L108.50,212.90 L108.50,212.90 L108.55,212.92 L108.60,212.99 L108.65,213.14 L108.70,213.40 L108.75,213.76 L108.80,214.24 L108.85,214.84 L108.90,215.57 L108.95,216.41 L109.00,217.35 L109.05,218.39 L109.10,219.51 L109.15,220.70 L109.20,221.92 L109.25,223.16 L109.30,224.41 L109.35,225.63 L109.40,226.81 L109.45,227.94 L109.50,229.00 L109.55,229.98 L109.60,230.87 L109.65,231.66 L109.70,232.37 L109.75,232.98 L109.80,233.50 L109.85,233.94 L109.90,234.31 L109.95,234.60 L110.00,234.85 L110.05,235.04 L110.10,235.18 L110.15,235.30 L110.20,235.38 L110.25,235.45 L110.30,235.49 L110.35,235.53 L110.40,235.55 L110.45,235.57 L110.50,235.58 L110.50,235.60 Z" fill="#000"/>
<line x1="108.50" y1="202.50" x2="108.50" y2="235.60" stroke="#ff2020" stroke-width="0.9" opacity="0.42"/>
<rect x="89.50" y="202.50" width="34.00" height="33.10" fill="none" stroke="#b4b4ff" stroke-width="0.9"/>
<line x1="89.50" y1="235.60" x2="123.50" y2="235.60" stroke="#8c8cff" stroke-width="1.3"/>
<line x1="89.50" y1="235.60" x2="90.10" y2="235.60" stroke="#4444ec" stroke-width="1.3"/>
<line x1="93.37" y1="235.60" x2="95.77" y2="235.60" stroke="#4444ec" stroke-width="1.3"/>
<line x1="99.03" y1="235.60" x2="101.43" y2="235.60" stroke="#4444ec" stroke-width="1.3"/>
<line x1="104.70" y1="235.60" x2="107.10" y2="235.60" stroke="#4444ec" stroke-width="1.3"/>
<line x1="110.37" y1="235.60" x2="112.77" y2="235.60" stroke="#4444ec" stroke-width="1.3"/>
<line x1="116.03" y1="235.60" x2="118.43" y2="235.60" stroke="#4444ec" stroke-width="1.3"/>
<line x1="121.70" y1="235.60" x2="123.50" y2="235.60" stroke="#4444ec" stroke-width="1.3"/>
<line x1="92.90" y1="202.50" x2="104.80" y2="202.50" stroke="#8080c0" stroke-width="0.5" opacity="0.5"/>
<line x1="89.50" y1="202.50" x2="90.50" y2="202.50" stroke="#4848f2" stroke-width="0.6"/>
<line x1="89.50" y1="210.78" x2="90.50" y2="210.78" stroke="#4848f2" stroke-width="0.6"/>
<line x1="89.50" y1="219.05" x2="90.50" y2="219.05" stroke="#4848f2" stroke-width="0.6"/>
<line x1="89.50" y1="227.32" x2="90.50" y2="227.32" stroke="#4848f2" stroke-width="0.6"/>
<line x1="89.50" y1="235.60" x2="90.50" y2="235.60" stroke="#4848f2" stroke-width="0.6"/>
<line x1="89.50" y1="235.60" x2="89.50" y2="236.60" stroke="#4848f2" stroke-width="0.5"/>
<line x1="95.17" y1="235.60" x2="95.17" y2="236.60" stroke="#4848f2" stroke-width="0.5"/>
<line x1="100.83" y1="235.60" x2="100.83" y2="236.60" stroke="#4848f2" stroke-width="0.5"/>
<line x1="106.50" y1="235.60" x2="106.50" y2="236.60" stroke="#4848f2" stroke-width="0.5"/>
<line x1="112.17" y1="235.60" x2="112.17" y2="236.60" stroke="#4848f2" stroke-width="0.5"/>
<line x1="117.83" y1="235.60" x2="117.83" y2="236.60" stroke="#4848f2" stroke-width="0.5"/>
<line x1="123.50" y1="235.60" x2="123.50" y2="236.60" stroke="#4848f2" stroke-width="0.5"/>
<text x="90.40" y="205.30" font-size="2.40" text-anchor="start" font-weight="bold" fill="#ee2a36" text-rendering="geometricPrecision">13.5</text>
<text x="90.40" y="207.80" font-size="2.40" text-anchor="start" font-weight="bold" fill="#ee2a36" text-rendering="geometricPrecision">84.0%</text>
<text x="122.70" y="205.30" font-size="2.40" text-anchor="end" font-weight="bold" fill="#ee2a36" text-rendering="geometricPrecision">17.0</text>
<text x="122.70" y="207.80" font-size="2.40" text-anchor="end" font-weight="bold" fill="#ee2a36" text-rendering="geometricPrecision">8.2%</text>
<text x="116.57" y="215.00" font-size="5.1" text-anchor="middle" font-weight="bold" fill="#2a3ec8" stroke="#2a3ec8" stroke-width="0.15">(+)</text>
<rect x="21.50" y="235.50" width="34.00" height="35.10" fill="#fff" stroke="none" stroke-width="1"/>
<path d="M33.93,270.60 L33.93,270.58 L33.99,270.57 L34.06,270.56 L34.12,270.53 L34.18,270.50 L34.24,270.46 L34.30,270.40 L34.36,270.32 L34.43,270.22 L34.49,270.08 L34.55,269.91 L34.61,269.69 L34.67,269.41 L34.73,269.08 L34.80,268.68 L34.86,268.20 L34.92,267.64 L34.98,266.99 L35.04,266.26 L35.10,265.45 L35.17,264.55 L35.23,263.58 L35.29,262.55 L35.35,261.46 L35.41,260.34 L35.47,259.20 L35.54,258.06 L35.60,256.94 L35.66,255.86 L35.72,254.83 L35.78,253.88 L35.84,253.01 L35.91,252.24 L35.97,251.58 L36.03,251.03 L36.09,250.59 L36.15,250.25 L36.21,250.02 L36.28,249.88 L36.34,249.81 L36.40,249.80 L36.40,249.80 L36.46,249.81 L36.52,249.88 L36.59,250.02 L36.65,250.25 L36.71,250.59 L36.77,251.03 L36.83,251.58 L36.89,252.24 L36.96,253.01 L37.02,253.88 L37.08,254.83 L37.14,255.86 L37.20,256.94 L37.26,258.06 L37.33,259.20 L37.39,260.34 L37.45,261.46 L37.51,262.55 L37.57,263.58 L37.63,264.55 L37.70,265.45 L37.76,266.26 L37.82,266.99 L37.88,267.64 L37.94,268.20 L38.00,268.68 L38.07,269.08 L38.13,269.41 L38.19,269.69 L38.25,269.91 L38.31,270.08 L38.37,270.22 L38.44,270.32 L38.50,270.40 L38.56,270.46 L38.62,270.50 L38.68,270.53 L38.74,270.56 L38.81,270.57 L38.87,270.58 L38.87,270.60 Z" fill="#000"/>
<line x1="39.50" y1="235.50" x2="39.50" y2="270.60" stroke="#ff2020" stroke-width="0.9" opacity="0.42"/>
<rect x="21.50" y="235.50" width="34.00" height="35.10" fill="none" stroke="#b4b4ff" stroke-width="0.9"/>
<line x1="21.50" y1="270.60" x2="55.50" y2="270.60" stroke="#8c8cff" stroke-width="1.3"/>
<line x1="21.50" y1="270.60" x2="22.10" y2="270.60" stroke="#4444ec" stroke-width="1.3"/>
<line x1="25.37" y1="270.60" x2="27.77" y2="270.60" stroke="#4444ec" stroke-width="1.3"/>
<line x1="31.03" y1="270.60" x2="33.43" y2="270.60" stroke="#4444ec" stroke-width="1.3"/>
<line x1="36.70" y1="270.60" x2="39.10" y2="270.60" stroke="#4444ec" stroke-width="1.3"/>
<line x1="42.37" y1="270.60" x2="44.77" y2="270.60" stroke="#4444ec" stroke-width="1.3"/>
<line x1="48.03" y1="270.60" x2="50.43" y2="270.60" stroke="#4444ec" stroke-width="1.3"/>
<line x1="53.70" y1="270.60" x2="55.50" y2="270.60" stroke="#4444ec" stroke-width="1.3"/>
<line x1="24.90" y1="235.50" x2="36.80" y2="235.50" stroke="#8080c0" stroke-width="0.5" opacity="0.5"/>
<line x1="21.50" y1="235.50" x2="22.50" y2="235.50" stroke="#4848f2" stroke-width="0.6"/>
<rect x="17.70" y="234.30" width="1.30" height="2.40" fill="#5c5cf6" stroke="none" stroke-width="1" opacity="0.85"/>
<line x1="21.50" y1="244.28" x2="22.50" y2="244.28" stroke="#4848f2" stroke-width="0.6"/>
<rect x="17.70" y="243.08" width="1.30" height="2.40" fill="#5c5cf6" stroke="none" stroke-width="1" opacity="0.85"/>
<line x1="21.50" y1="253.05" x2="22.50" y2="253.05" stroke="#4848f2" stroke-width="0.6"/>
<rect x="17.70" y="251.85" width="1.30" height="2.40" fill="#5c5cf6" stroke="none" stroke-width="1" opacity="0.85"/>
<line x1="21.50" y1="261.83" x2="22.50" y2="261.83" stroke="#4848f2" stroke-width="0.6"/>
<rect x="17.70" y="260.63" width="1.30" height="2.40" fill="#5c5cf6" stroke="none" stroke-width="1" opacity="0.85"/>
<line x1="21.50" y1="270.60" x2="22.50" y2="270.60" stroke="#4848f2" stroke-width="0.6"/>
<rect x="17.70" y="269.40" width="1.30" height="2.40" fill="#5c5cf6" stroke="none" stroke-width="1" opacity="0.85"/>
<line x1="21.50" y1="270.60" x2="21.50" y2="271.60" stroke="#4848f2" stroke-width="0.5"/>
<line x1="20.60" y1="274.00" x2="22.40" y2="272.80" stroke="#5c5cf6" stroke-width="0.9"/>
<line x1="27.17" y1="270.60" x2="27.17" y2="271.60" stroke="#4848f2" stroke-width="0.5"/>
<line x1="26.27" y1="274.00" x2="28.07" y2="272.80" stroke="#5c5cf6" stroke-width="0.9"/>
<line x1="32.83" y1="270.60" x2="32.83" y2="271.60" stroke="#4848f2" stroke-width="0.5"/>
<line x1="31.93" y1="274.00" x2="33.73" y2="272.80" stroke="#5c5cf6" stroke-width="0.9"/>
<line x1="38.50" y1="270.60" x2="38.50" y2="271.60" stroke="#4848f2" stroke-width="0.5"/>
<line x1="37.60" y1="274.00" x2="39.40" y2="272.80" stroke="#5c5cf6" stroke-width="0.9"/>
<line x1="44.17" y1="270.60" x2="44.17" y2="271.60" stroke="#4848f2" stroke-width="0.5"/>
<line x1="43.27" y1="274.00" x2="45.07" y2="272.80" stroke="#5c5cf6" stroke-width="0.9"/>
<line x1="49.83" y1="270.60" x2="49.83" y2="271.60" stroke="#4848f2" stroke-width="0.5"/>
<line x1="48.93" y1="274.00" x2="50.73" y2="272.80" stroke="#5c5cf6" stroke-width="0.9"/>
<line x1="55.50" y1="270.60" x2="55.50" y2="271.60" stroke="#4848f2" stroke-width="0.5"/>
<line x1="54.60" y1="274.00" x2="56.40" y2="272.80" stroke="#5c5cf6" stroke-width="0.9"/>
<text x="22.40" y="238.30" font-size="2.40" text-anchor="start" font-weight="bold" fill="#ee2a36" text-rendering="geometricPrecision">13.5</text>
<text x="22.40" y="240.80" font-size="2.40" text-anchor="start" font-weight="bold" fill="#ee2a36" text-rendering="geometricPrecision">84.0%</text>
<text x="54.70" y="238.30" font-size="2.40" text-anchor="end" font-weight="bold" fill="#ee2a36" text-rendering="geometricPrecision">17.0</text>
<text x="54.70" y="240.80" font-size="2.40" text-anchor="end" font-weight="bold" fill="#ee2a36" text-rendering="geometricPrecision">8.2%</text>
<text x="45.60" y="248.20" font-size="5.1" text-anchor="middle" font-weight="bold" fill="#2a3ec8" stroke="#2a3ec8" stroke-width="0.15">(+)</text>
<rect x="55.50" y="235.50" width="34.00" height="35.10" fill="#fff" stroke="none" stroke-width="1"/>
<path d="M70.90,270.60 L70.90,270.58 L70.95,270.57 L71.00,270.55 L71.05,270.53 L71.10,270.50 L71.15,270.45 L71.20,270.39 L71.25,270.31 L71.30,270.20 L71.35,270.05 L71.40,269.87 L71.45,269.64 L71.50,269.35 L71.55,268.99 L71.60,268.56 L71.65,268.06 L71.70,267.47 L71.75,266.78 L71.80,266.01 L71.85,265.15 L71.90,264.20 L71.95,263.18 L72.00,262.09 L72.05,260.94 L72.10,259.75 L72.15,258.55 L72.20,257.34 L72.25,256.16 L72.30,255.01 L72.35,253.92 L72.40,252.92 L72.45,252.00 L72.50,251.19 L72.55,250.48 L72.60,249.90 L72.65,249.43 L72.70,249.08 L72.75,248.84 L72.80,248.69 L72.85,248.62 L72.90,248.60 L72.90,248.60 L72.95,248.62 L73.00,248.69 L73.05,248.84 L73.10,249.08 L73.15,249.43 L73.20,249.90 L73.25,250.48 L73.30,251.19 L73.35,252.00 L73.40,252.92 L73.45,253.92 L73.50,255.01 L73.55,256.16 L73.60,257.34 L73.65,258.55 L73.70,259.75 L73.75,260.94 L73.80,262.09 L73.85,263.18 L73.90,264.20 L73.95,265.15 L74.00,266.01 L74.05,266.78 L74.10,267.47 L74.15,268.06 L74.20,268.56 L74.25,268.99 L74.30,269.35 L74.35,269.64 L74.40,269.87 L74.45,270.05 L74.50,270.20 L74.55,270.31 L74.60,270.39 L74.65,270.45 L74.70,270.50 L74.75,270.53 L74.80,270.55 L74.85,270.57 L74.90,270.58 L74.90,270.60 Z" fill="#000"/>
<line x1="73.50" y1="235.50" x2="73.50" y2="270.60" stroke="#ff2020" stroke-width="0.9" opacity="0.42"/>
<rect x="55.50" y="235.50" width="34.00" height="35.10" fill="none" stroke="#b4b4ff" stroke-width="0.9"/>
<line x1="55.50" y1="270.60" x2="89.50" y2="270.60" stroke="#8c8cff" stroke-width="1.3"/>
<line x1="55.50" y1="270.60" x2="56.10" y2="270.60" stroke="#4444ec" stroke-width="1.3"/>
<line x1="59.37" y1="270.60" x2="61.77" y2="270.60" stroke="#4444ec" stroke-width="1.3"/>
<line x1="65.03" y1="270.60" x2="67.43" y2="270.60" stroke="#4444ec" stroke-width="1.3"/>
<line x1="70.70" y1="270.60" x2="73.10" y2="270.60" stroke="#4444ec" stroke-width="1.3"/>
<line x1="76.37" y1="270.60" x2="78.77" y2="270.60" stroke="#4444ec" stroke-width="1.3"/>
<line x1="82.03" y1="270.60" x2="84.43" y2="270.60" stroke="#4444ec" stroke-width="1.3"/>
<line x1="87.70" y1="270.60" x2="89.50" y2="270.60" stroke="#4444ec" stroke-width="1.3"/>
<line x1="58.90" y1="235.50" x2="70.80" y2="235.50" stroke="#8080c0" stroke-width="0.5" opacity="0.5"/>
<line x1="55.50" y1="235.50" x2="56.50" y2="235.50" stroke="#4848f2" stroke-width="0.6"/>
<line x1="55.50" y1="244.28" x2="56.50" y2="244.28" stroke="#4848f2" stroke-width="0.6"/>
<line x1="55.50" y1="253.05" x2="56.50" y2="253.05" stroke="#4848f2" stroke-width="0.6"/>
<line x1="55.50" y1="261.83" x2="56.50" y2="261.83" stroke="#4848f2" stroke-width="0.6"/>
<line x1="55.50" y1="270.60" x2="56.50" y2="270.60" stroke="#4848f2" stroke-width="0.6"/>
<line x1="55.50" y1="270.60" x2="55.50" y2="271.60" stroke="#4848f2" stroke-width="0.5"/>
<line x1="54.60" y1="274.00" x2="56.40" y2="272.80" stroke="#5c5cf6" stroke-width="0.9"/>
<line x1="61.17" y1="270.60" x2="61.17" y2="271.60" stroke="#4848f2" stroke-width="0.5"/>
<line x1="60.27" y1="274.00" x2="62.07" y2="272.80" stroke="#5c5cf6" stroke-width="0.9"/>
<line x1="66.83" y1="270.60" x2="66.83" y2="271.60" stroke="#4848f2" stroke-width="0.5"/>
<line x1="65.93" y1="274.00" x2="67.73" y2="272.80" stroke="#5c5cf6" stroke-width="0.9"/>
<line x1="72.50" y1="270.60" x2="72.50" y2="271.60" stroke="#4848f2" stroke-width="0.5"/>
<line x1="71.60" y1="274.00" x2="73.40" y2="272.80" stroke="#5c5cf6" stroke-width="0.9"/>
<line x1="78.17" y1="270.60" x2="78.17" y2="271.60" stroke="#4848f2" stroke-width="0.5"/>
<line x1="77.27" y1="274.00" x2="79.07" y2="272.80" stroke="#5c5cf6" stroke-width="0.9"/>
<line x1="83.83" y1="270.60" x2="83.83" y2="271.60" stroke="#4848f2" stroke-width="0.5"/>
<line x1="82.93" y1="274.00" x2="84.73" y2="272.80" stroke="#5c5cf6" stroke-width="0.9"/>
<line x1="89.50" y1="270.60" x2="89.50" y2="271.60" stroke="#4848f2" stroke-width="0.5"/>
<line x1="88.60" y1="274.00" x2="90.40" y2="272.80" stroke="#5c5cf6" stroke-width="0.9"/>
<text x="56.40" y="238.30" font-size="2.40" text-anchor="start" font-weight="bold" fill="#ee2a36" text-rendering="geometricPrecision">13.5</text>
<text x="56.40" y="240.80" font-size="2.40" text-anchor="start" font-weight="bold" fill="#ee2a36" text-rendering="geometricPrecision">84.0%</text>
<text x="88.70" y="238.30" font-size="2.40" text-anchor="end" font-weight="bold" fill="#ee2a36" text-rendering="geometricPrecision">17.0</text>
<text x="88.70" y="240.80" font-size="2.40" text-anchor="end" font-weight="bold" fill="#ee2a36" text-rendering="geometricPrecision">8.2%</text>
<text x="81.33" y="248.20" font-size="5.1" text-anchor="middle" font-weight="bold" fill="#2a3ec8" stroke="#2a3ec8" stroke-width="0.15">(+)</text>
<rect x="89.50" y="235.50" width="34.00" height="35.10" fill="#fff" stroke="none" stroke-width="1"/>
<path d="M106.20,270.60 L106.20,270.58 L106.25,270.57 L106.30,270.55 L106.35,270.53 L106.40,270.50 L106.45,270.45 L106.50,270.39 L106.55,270.31 L106.60,270.20 L106.65,270.05 L106.70,269.87 L106.75,269.64 L106.80,269.35 L106.85,268.99 L106.90,268.56 L106.95,268.06 L107.00,267.47 L107.05,266.78 L107.10,266.01 L107.15,265.15 L107.20,264.20 L107.25,263.18 L107.30,262.09 L107.35,260.94 L107.40,259.75 L107.45,258.55 L107.50,257.34 L107.55,256.16 L107.60,255.01 L107.65,253.92 L107.70,252.92 L107.75,252.00 L107.80,251.19 L107.85,250.48 L107.90,249.90 L107.95,249.43 L108.00,249.08 L108.05,248.84 L108.10,248.69 L108.15,248.62 L108.20,248.60 L108.20,248.60 L108.25,248.62 L108.30,248.69 L108.35,248.84 L108.40,249.08 L108.45,249.43 L108.50,249.90 L108.55,250.48 L108.60,251.19 L108.65,252.00 L108.70,252.92 L108.75,253.92 L108.80,255.01 L108.85,256.16 L108.90,257.34 L108.95,258.55 L109.00,259.75 L109.05,260.94 L109.10,262.09 L109.15,263.18 L109.20,264.20 L109.25,265.15 L109.30,266.01 L109.35,266.78 L109.40,267.47 L109.45,268.06 L109.50,268.56 L109.55,268.99 L109.60,269.35 L109.65,269.64 L109.70,269.87 L109.75,270.05 L109.80,270.20 L109.85,270.31 L109.90,270.39 L109.95,270.45 L110.00,270.50 L110.05,270.53 L110.10,270.55 L110.15,270.57 L110.20,270.58 L110.20,270.60 Z" fill="#000"/>
<line x1="108.50" y1="235.50" x2="108.50" y2="270.60" stroke="#ff2020" stroke-width="0.9" opacity="0.42"/>
<rect x="89.50" y="235.50" width="34.00" height="35.10" fill="none" stroke="#b4b4ff" stroke-width="0.9"/>
<line x1="89.50" y1="270.60" x2="123.50" y2="270.60" stroke="#8c8cff" stroke-width="1.3"/>
<line x1="89.50" y1="270.60" x2="90.10" y2="270.60" stroke="#4444ec" stroke-width="1.3"/>
<line x1="93.37" y1="270.60" x2="95.77" y2="270.60" stroke="#4444ec" stroke-width="1.3"/>
<line x1="99.03" y1="270.60" x2="101.43" y2="270.60" stroke="#4444ec" stroke-width="1.3"/>
<line x1="104.70" y1="270.60" x2="107.10" y2="270.60" stroke="#4444ec" stroke-width="1.3"/>
<line x1="110.37" y1="270.60" x2="112.77" y2="270.60" stroke="#4444ec" stroke-width="1.3"/>
<line x1="116.03" y1="270.60" x2="118.43" y2="270.60" stroke="#4444ec" stroke-width="1.3"/>
<line x1="121.70" y1="270.60" x2="123.50" y2="270.60" stroke="#4444ec" stroke-width="1.3"/>
<line x1="92.90" y1="235.50" x2="104.80" y2="235.50" stroke="#8080c0" stroke-width="0.5" opacity="0.5"/>
<line x1="89.50" y1="235.50" x2="90.50" y2="235.50" stroke="#4848f2" stroke-width="0.6"/>
<line x1="89.50" y1="244.28" x2="90.50" y2="244.28" stroke="#4848f2" stroke-width="0.6"/>
<line x1="89.50" y1="253.05" x2="90.50" y2="253.05" stroke="#4848f2" stroke-width="0.6"/>
<line x1="89.50" y1="261.83" x2="90.50" y2="261.83" stroke="#4848f2" stroke-width="0.6"/>
<line x1="89.50" y1="270.60" x2="90.50" y2="270.60" stroke="#4848f2" stroke-width="0.6"/>
<line x1="89.50" y1="270.60" x2="89.50" y2="271.60" stroke="#4848f2" stroke-width="0.5"/>
<line x1="88.60" y1="274.00" x2="90.40" y2="272.80" stroke="#5c5cf6" stroke-width="0.9"/>
<line x1="95.17" y1="270.60" x2="95.17" y2="271.60" stroke="#4848f2" stroke-width="0.5"/>
<line x1="94.27" y1="274.00" x2="96.07" y2="272.80" stroke="#5c5cf6" stroke-width="0.9"/>
<line x1="100.83" y1="270.60" x2="100.83" y2="271.60" stroke="#4848f2" stroke-width="0.5"/>
<line x1="99.93" y1="274.00" x2="101.73" y2="272.80" stroke="#5c5cf6" stroke-width="0.9"/>
<line x1="106.50" y1="270.60" x2="106.50" y2="271.60" stroke="#4848f2" stroke-width="0.5"/>
<line x1="105.60" y1="274.00" x2="107.40" y2="272.80" stroke="#5c5cf6" stroke-width="0.9"/>
<line x1="112.17" y1="270.60" x2="112.17" y2="271.60" stroke="#4848f2" stroke-width="0.5"/>
<line x1="111.27" y1="274.00" x2="113.07" y2="272.80" stroke="#5c5cf6" stroke-width="0.9"/>
<line x1="117.83" y1="270.60" x2="117.83" y2="271.60" stroke="#4848f2" stroke-width="0.5"/>
<line x1="116.93" y1="274.00" x2="118.73" y2="272.80" stroke="#5c5cf6" stroke-width="0.9"/>
<line x1="123.50" y1="270.60" x2="123.50" y2="271.60" stroke="#4848f2" stroke-width="0.5"/>
<line x1="122.60" y1="274.00" x2="124.40" y2="272.80" stroke="#5c5cf6" stroke-width="0.9"/>
<text x="90.40" y="238.30" font-size="2.40" text-anchor="start" font-weight="bold" fill="#ee2a36" text-rendering="geometricPrecision">13.5</text>
<text x="90.40" y="240.80" font-size="2.40" text-anchor="start" font-weight="bold" fill="#ee2a36" text-rendering="geometricPrecision">84.0%</text>
<text x="122.70" y="238.30" font-size="2.40" text-anchor="end" font-weight="bold" fill="#ee2a36" text-rendering="geometricPrecision">17.0</text>
<text x="122.70" y="240.80" font-size="2.40" text-anchor="end" font-weight="bold" fill="#ee2a36" text-rendering="geometricPrecision">8.2%</text>
<text x="116.57" y="248.20" font-size="5.1" text-anchor="middle" font-weight="bold" fill="#2a3ec8" stroke="#2a3ec8" stroke-width="0.15">(+)</text>
<rect x="54.00" y="202.50" width="3.00" height="68.00" fill="#c8c8ff" stroke="none" stroke-width="1" opacity="0.7"/>
<rect x="88.00" y="202.50" width="3.00" height="68.00" fill="#c8c8ff" stroke="none" stroke-width="1" opacity="0.7"/>
<line x1="21.50" y1="235.60" x2="123.50" y2="235.60" stroke="#6262f4" stroke-width="1.5" stroke-dasharray="3.2 1.0"/>
<text x="71.05" y="188.90" font-size="5.6" text-anchor="middle" font-weight="bold" fill="#111" stroke="#111" stroke-width="0.22">MCF7</text>
<text x="37.82" y="198.60" font-size="5.6" text-anchor="middle" font-weight="bold" fill="#111" stroke="#111" stroke-width="0.22">0</text>
<text x="72.05" y="198.60" font-size="5.6" text-anchor="middle" font-weight="bold" fill="#111" stroke="#111" stroke-width="0.22">12</text>
<text x="106.88" y="198.60" font-size="5.6" text-anchor="middle" font-weight="bold" fill="#111" stroke="#111" stroke-width="0.22">24 h</text>
<rect x="130.50" y="202.50" width="34.00" height="33.10" fill="#fff" stroke="none" stroke-width="1"/>
<path d="M141.58,235.60 L141.58,235.58 L141.65,235.58 L141.72,235.56 L141.79,235.55 L141.86,235.52 L141.93,235.48 L142.00,235.44 L142.07,235.37 L142.14,235.28 L142.21,235.17 L142.28,235.03 L142.36,234.85 L142.43,234.62 L142.50,234.34 L142.57,234.01 L142.64,233.61 L142.71,233.15 L142.78,232.62 L142.85,232.01 L142.92,231.34 L142.99,230.60 L143.06,229.80 L143.13,228.94 L143.20,228.05 L143.27,227.12 L143.34,226.18 L143.41,225.23 L143.48,224.31 L143.55,223.41 L143.62,222.56 L143.69,221.77 L143.77,221.06 L143.84,220.42 L143.91,219.87 L143.98,219.42 L144.05,219.05 L144.12,218.78 L144.19,218.58 L144.26,218.47 L144.33,218.41 L144.40,218.40 L144.40,218.40 L144.47,218.41 L144.54,218.47 L144.61,218.58 L144.68,218.78 L144.75,219.05 L144.82,219.42 L144.89,219.87 L144.96,220.42 L145.03,221.06 L145.11,221.77 L145.18,222.56 L145.25,223.41 L145.32,224.31 L145.39,225.23 L145.46,226.18 L145.53,227.12 L145.60,228.05 L145.67,228.94 L145.74,229.80 L145.81,230.60 L145.88,231.34 L145.95,232.01 L146.02,232.62 L146.09,233.15 L146.16,233.61 L146.23,234.01 L146.30,234.34 L146.37,234.62 L146.44,234.85 L146.52,235.03 L146.59,235.17 L146.66,235.28 L146.73,235.37 L146.80,235.44 L146.87,235.48 L146.94,235.52 L147.01,235.55 L147.08,235.56 L147.15,235.58 L147.22,235.58 L147.22,235.60 Z" fill="#000"/>
<line x1="147.50" y1="202.50" x2="147.50" y2="235.60" stroke="#ff2020" stroke-width="0.9" opacity="0.42"/>
<rect x="130.50" y="202.50" width="34.00" height="33.10" fill="none" stroke="#b4b4ff" stroke-width="0.9"/>
<line x1="130.50" y1="235.60" x2="164.50" y2="235.60" stroke="#8c8cff" stroke-width="1.3"/>
<line x1="130.50" y1="235.60" x2="131.10" y2="235.60" stroke="#4444ec" stroke-width="1.3"/>
<line x1="134.37" y1="235.60" x2="136.77" y2="235.60" stroke="#4444ec" stroke-width="1.3"/>
<line x1="140.03" y1="235.60" x2="142.43" y2="235.60" stroke="#4444ec" stroke-width="1.3"/>
<line x1="145.70" y1="235.60" x2="148.10" y2="235.60" stroke="#4444ec" stroke-width="1.3"/>
<line x1="151.37" y1="235.60" x2="153.77" y2="235.60" stroke="#4444ec" stroke-width="1.3"/>
<line x1="157.03" y1="235.60" x2="159.43" y2="235.60" stroke="#4444ec" stroke-width="1.3"/>
<line x1="162.70" y1="235.60" x2="164.50" y2="235.60" stroke="#4444ec" stroke-width="1.3"/>
<line x1="133.90" y1="202.50" x2="145.80" y2="202.50" stroke="#8080c0" stroke-width="0.5" opacity="0.5"/>
<line x1="130.50" y1="202.50" x2="131.50" y2="202.50" stroke="#4848f2" stroke-width="0.6"/>
<rect x="126.70" y="201.30" width="1.30" height="2.40" fill="#5c5cf6" stroke="none" stroke-width="1" opacity="0.85"/>
<line x1="130.50" y1="210.78" x2="131.50" y2="210.78" stroke="#4848f2" stroke-width="0.6"/>
<rect x="126.70" y="209.58" width="1.30" height="2.40" fill="#5c5cf6" stroke="none" stroke-width="1" opacity="0.85"/>
<line x1="130.50" y1="219.05" x2="131.50" y2="219.05" stroke="#4848f2" stroke-width="0.6"/>
<rect x="126.70" y="217.85" width="1.30" height="2.40" fill="#5c5cf6" stroke="none" stroke-width="1" opacity="0.85"/>
<line x1="130.50" y1="227.32" x2="131.50" y2="227.32" stroke="#4848f2" stroke-width="0.6"/>
<rect x="126.70" y="226.12" width="1.30" height="2.40" fill="#5c5cf6" stroke="none" stroke-width="1" opacity="0.85"/>
<line x1="130.50" y1="235.60" x2="131.50" y2="235.60" stroke="#4848f2" stroke-width="0.6"/>
<rect x="126.70" y="234.40" width="1.30" height="2.40" fill="#5c5cf6" stroke="none" stroke-width="1" opacity="0.85"/>
<line x1="130.50" y1="235.60" x2="130.50" y2="236.60" stroke="#4848f2" stroke-width="0.5"/>
<line x1="136.17" y1="235.60" x2="136.17" y2="236.60" stroke="#4848f2" stroke-width="0.5"/>
<line x1="141.83" y1="235.60" x2="141.83" y2="236.60" stroke="#4848f2" stroke-width="0.5"/>
<line x1="147.50" y1="235.60" x2="147.50" y2="236.60" stroke="#4848f2" stroke-width="0.5"/>
<line x1="153.17" y1="235.60" x2="153.17" y2="236.60" stroke="#4848f2" stroke-width="0.5"/>
<line x1="158.83" y1="235.60" x2="158.83" y2="236.60" stroke="#4848f2" stroke-width="0.5"/>
<line x1="164.50" y1="235.60" x2="164.50" y2="236.60" stroke="#4848f2" stroke-width="0.5"/>
<text x="131.40" y="205.30" font-size="2.40" text-anchor="start" font-weight="bold" fill="#ee2a36" text-rendering="geometricPrecision">13.5</text>
<text x="131.40" y="207.80" font-size="2.40" text-anchor="start" font-weight="bold" fill="#ee2a36" text-rendering="geometricPrecision">84.0%</text>
<text x="163.70" y="205.30" font-size="2.40" text-anchor="end" font-weight="bold" fill="#ee2a36" text-rendering="geometricPrecision">17.0</text>
<text x="163.70" y="207.80" font-size="2.40" text-anchor="end" font-weight="bold" fill="#ee2a36" text-rendering="geometricPrecision">8.2%</text>
<text x="154.50" y="215.00" font-size="5.1" text-anchor="middle" font-weight="bold" fill="#2a3ec8" stroke="#2a3ec8" stroke-width="0.15">(+)</text>
<rect x="164.50" y="202.50" width="35.00" height="33.10" fill="#fff" stroke="none" stroke-width="1"/>
<path d="M180.18,235.60 L180.18,235.58 L180.24,235.57 L180.29,235.56 L180.34,235.53 L180.40,235.50 L180.45,235.46 L180.50,235.40 L180.55,235.32 L180.61,235.22 L180.66,235.09 L180.71,234.91 L180.77,234.69 L180.82,234.42 L180.87,234.09 L180.92,233.68 L180.98,233.21 L181.03,232.65 L181.08,232.01 L181.14,231.28 L181.19,230.47 L181.24,229.58 L181.30,228.62 L181.35,227.59 L181.40,226.51 L181.45,225.39 L181.51,224.26 L181.56,223.13 L181.61,222.01 L181.67,220.93 L181.72,219.91 L181.77,218.96 L181.82,218.10 L181.88,217.33 L181.93,216.67 L181.98,216.12 L182.04,215.68 L182.09,215.35 L182.14,215.12 L182.19,214.98 L182.25,214.91 L182.30,214.90 L182.30,214.90 L182.35,214.91 L182.41,214.98 L182.46,215.12 L182.51,215.35 L182.56,215.68 L182.62,216.12 L182.67,216.67 L182.72,217.33 L182.78,218.10 L182.83,218.96 L182.88,219.91 L182.93,220.93 L182.99,222.01 L183.04,223.13 L183.09,224.26 L183.15,225.39 L183.20,226.51 L183.25,227.59 L183.30,228.62 L183.36,229.58 L183.41,230.47 L183.46,231.28 L183.52,232.01 L183.57,232.65 L183.62,233.21 L183.68,233.68 L183.73,234.09 L183.78,234.42 L183.83,234.69 L183.89,234.91 L183.94,235.09 L183.99,235.22 L184.05,235.32 L184.10,235.40 L184.15,235.46 L184.20,235.50 L184.26,235.53 L184.31,235.56 L184.36,235.57 L184.42,235.58 L184.42,235.60 Z" fill="#000"/>
<line x1="182.50" y1="202.50" x2="182.50" y2="235.60" stroke="#ff2020" stroke-width="0.9" opacity="0.42"/>
<rect x="164.50" y="202.50" width="35.00" height="33.10" fill="none" stroke="#b4b4ff" stroke-width="0.9"/>
<line x1="164.50" y1="235.60" x2="199.50" y2="235.60" stroke="#8c8cff" stroke-width="1.3"/>
<line x1="164.50" y1="235.60" x2="165.10" y2="235.60" stroke="#4444ec" stroke-width="1.3"/>
<line x1="168.53" y1="235.60" x2="170.93" y2="235.60" stroke="#4444ec" stroke-width="1.3"/>
<line x1="174.37" y1="235.60" x2="176.77" y2="235.60" stroke="#4444ec" stroke-width="1.3"/>
<line x1="180.20" y1="235.60" x2="182.60" y2="235.60" stroke="#4444ec" stroke-width="1.3"/>
<line x1="186.03" y1="235.60" x2="188.43" y2="235.60" stroke="#4444ec" stroke-width="1.3"/>
<line x1="191.87" y1="235.60" x2="194.27" y2="235.60" stroke="#4444ec" stroke-width="1.3"/>
<line x1="197.70" y1="235.60" x2="199.50" y2="235.60" stroke="#4444ec" stroke-width="1.3"/>
<line x1="168.00" y1="202.50" x2="180.25" y2="202.50" stroke="#8080c0" stroke-width="0.5" opacity="0.5"/>
<line x1="164.50" y1="202.50" x2="165.50" y2="202.50" stroke="#4848f2" stroke-width="0.6"/>
<line x1="164.50" y1="210.78" x2="165.50" y2="210.78" stroke="#4848f2" stroke-width="0.6"/>
<line x1="164.50" y1="219.05" x2="165.50" y2="219.05" stroke="#4848f2" stroke-width="0.6"/>
<line x1="164.50" y1="227.32" x2="165.50" y2="227.32" stroke="#4848f2" stroke-width="0.6"/>
<line x1="164.50" y1="235.60" x2="165.50" y2="235.60" stroke="#4848f2" stroke-width="0.6"/>
<line x1="164.50" y1="235.60" x2="164.50" y2="236.60" stroke="#4848f2" stroke-width="0.5"/>
<line x1="170.33" y1="235.60" x2="170.33" y2="236.60" stroke="#4848f2" stroke-width="0.5"/>
<line x1="176.17" y1="235.60" x2="176.17" y2="236.60" stroke="#4848f2" stroke-width="0.5"/>
<line x1="182.00" y1="235.60" x2="182.00" y2="236.60" stroke="#4848f2" stroke-width="0.5"/>
<line x1="187.83" y1="235.60" x2="187.83" y2="236.60" stroke="#4848f2" stroke-width="0.5"/>
<line x1="193.67" y1="235.60" x2="193.67" y2="236.60" stroke="#4848f2" stroke-width="0.5"/>
<line x1="199.50" y1="235.60" x2="199.50" y2="236.60" stroke="#4848f2" stroke-width="0.5"/>
<text x="165.40" y="205.30" font-size="2.40" text-anchor="start" font-weight="bold" fill="#ee2a36" text-rendering="geometricPrecision">13.5</text>
<text x="165.40" y="207.80" font-size="2.40" text-anchor="start" font-weight="bold" fill="#ee2a36" text-rendering="geometricPrecision">84.0%</text>
<text x="198.70" y="205.30" font-size="2.40" text-anchor="end" font-weight="bold" fill="#ee2a36" text-rendering="geometricPrecision">17.0</text>
<text x="198.70" y="207.80" font-size="2.40" text-anchor="end" font-weight="bold" fill="#ee2a36" text-rendering="geometricPrecision">8.2%</text>
<text x="190.50" y="215.00" font-size="5.1" text-anchor="middle" font-weight="bold" fill="#2a3ec8" stroke="#2a3ec8" stroke-width="0.15">(+)</text>
<rect x="199.50" y="202.50" width="34.00" height="33.10" fill="#fff" stroke="none" stroke-width="1"/>
<path d="M215.68,235.60 L215.68,235.58 L215.74,235.57 L215.79,235.56 L215.84,235.54 L215.90,235.51 L215.95,235.47 L216.00,235.42 L216.05,235.35 L216.11,235.25 L216.16,235.13 L216.21,234.97 L216.27,234.76 L216.32,234.51 L216.37,234.20 L216.42,233.83 L216.48,233.39 L216.53,232.88 L216.58,232.29 L216.64,231.62 L216.69,230.87 L216.74,230.05 L216.80,229.16 L216.85,228.21 L216.90,227.21 L216.95,226.18 L217.01,225.14 L217.06,224.09 L217.11,223.06 L217.17,222.07 L217.22,221.12 L217.27,220.25 L217.32,219.45 L217.38,218.74 L217.43,218.14 L217.48,217.63 L217.54,217.22 L217.59,216.92 L217.64,216.70 L217.69,216.57 L217.75,216.51 L217.80,216.50 L217.80,216.50 L217.85,216.51 L217.91,216.57 L217.96,216.70 L218.01,216.92 L218.06,217.22 L218.12,217.63 L218.17,218.14 L218.22,218.74 L218.28,219.45 L218.33,220.25 L218.38,221.12 L218.43,222.07 L218.49,223.06 L218.54,224.09 L218.59,225.14 L218.65,226.18 L218.70,227.21 L218.75,228.21 L218.80,229.16 L218.86,230.05 L218.91,230.87 L218.96,231.62 L219.02,232.29 L219.07,232.88 L219.12,233.39 L219.18,233.83 L219.23,234.20 L219.28,234.51 L219.33,234.76 L219.39,234.97 L219.44,235.13 L219.49,235.25 L219.55,235.35 L219.60,235.42 L219.65,235.47 L219.70,235.51 L219.76,235.54 L219.81,235.56 L219.86,235.57 L219.92,235.58 L219.92,235.60 Z" fill="#000"/>
<line x1="217.50" y1="202.50" x2="217.50" y2="235.60" stroke="#ff2020" stroke-width="0.9" opacity="0.42"/>
<rect x="199.50" y="202.50" width="34.00" height="33.10" fill="none" stroke="#b4b4ff" stroke-width="0.9"/>
<line x1="199.50" y1="235.60" x2="233.50" y2="235.60" stroke="#8c8cff" stroke-width="1.3"/>
<line x1="199.50" y1="235.60" x2="200.10" y2="235.60" stroke="#4444ec" stroke-width="1.3"/>
<line x1="203.37" y1="235.60" x2="205.77" y2="235.60" stroke="#4444ec" stroke-width="1.3"/>
<line x1="209.03" y1="235.60" x2="211.43" y2="235.60" stroke="#4444ec" stroke-width="1.3"/>
<line x1="214.70" y1="235.60" x2="217.10" y2="235.60" stroke="#4444ec" stroke-width="1.3"/>
<line x1="220.37" y1="235.60" x2="222.77" y2="235.60" stroke="#4444ec" stroke-width="1.3"/>
<line x1="226.03" y1="235.60" x2="228.43" y2="235.60" stroke="#4444ec" stroke-width="1.3"/>
<line x1="231.70" y1="235.60" x2="233.50" y2="235.60" stroke="#4444ec" stroke-width="1.3"/>
<line x1="202.90" y1="202.50" x2="214.80" y2="202.50" stroke="#8080c0" stroke-width="0.5" opacity="0.5"/>
<line x1="199.50" y1="202.50" x2="200.50" y2="202.50" stroke="#4848f2" stroke-width="0.6"/>
<line x1="199.50" y1="210.78" x2="200.50" y2="210.78" stroke="#4848f2" stroke-width="0.6"/>
<line x1="199.50" y1="219.05" x2="200.50" y2="219.05" stroke="#4848f2" stroke-width="0.6"/>
<line x1="199.50" y1="227.32" x2="200.50" y2="227.32" stroke="#4848f2" stroke-width="0.6"/>
<line x1="199.50" y1="235.60" x2="200.50" y2="235.60" stroke="#4848f2" stroke-width="0.6"/>
<line x1="199.50" y1="235.60" x2="199.50" y2="236.60" stroke="#4848f2" stroke-width="0.5"/>
<line x1="205.17" y1="235.60" x2="205.17" y2="236.60" stroke="#4848f2" stroke-width="0.5"/>
<line x1="210.83" y1="235.60" x2="210.83" y2="236.60" stroke="#4848f2" stroke-width="0.5"/>
<line x1="216.50" y1="235.60" x2="216.50" y2="236.60" stroke="#4848f2" stroke-width="0.5"/>
<line x1="222.17" y1="235.60" x2="222.17" y2="236.60" stroke="#4848f2" stroke-width="0.5"/>
<line x1="227.83" y1="235.60" x2="227.83" y2="236.60" stroke="#4848f2" stroke-width="0.5"/>
<line x1="233.50" y1="235.60" x2="233.50" y2="236.60" stroke="#4848f2" stroke-width="0.5"/>
<text x="200.40" y="205.30" font-size="2.40" text-anchor="start" font-weight="bold" fill="#ee2a36" text-rendering="geometricPrecision">13.5</text>
<text x="200.40" y="207.80" font-size="2.40" text-anchor="start" font-weight="bold" fill="#ee2a36" text-rendering="geometricPrecision">84.0%</text>
<text x="232.70" y="205.30" font-size="2.40" text-anchor="end" font-weight="bold" fill="#ee2a36" text-rendering="geometricPrecision">17.0</text>
<text x="232.70" y="207.80" font-size="2.40" text-anchor="end" font-weight="bold" fill="#ee2a36" text-rendering="geometricPrecision">8.2%</text>
<text x="226.00" y="215.00" font-size="5.1" text-anchor="middle" font-weight="bold" fill="#2a3ec8" stroke="#2a3ec8" stroke-width="0.15">(+)</text>
<rect x="130.50" y="235.50" width="34.00" height="35.10" fill="#fff" stroke="none" stroke-width="1"/>
<path d="M141.58,270.60 L141.58,270.59 L141.65,270.58 L141.72,270.57 L141.79,270.55 L141.86,270.53 L141.93,270.49 L142.00,270.45 L142.07,270.39 L142.14,270.31 L142.21,270.20 L142.28,270.06 L142.36,269.89 L142.43,269.68 L142.50,269.42 L142.57,269.11 L142.64,268.74 L142.71,268.31 L142.78,267.81 L142.85,267.24 L142.92,266.61 L142.99,265.92 L143.06,265.17 L143.13,264.37 L143.20,263.53 L143.27,262.66 L143.34,261.78 L143.41,260.90 L143.48,260.03 L143.55,259.19 L143.62,258.40 L143.69,257.66 L143.77,256.99 L143.84,256.39 L143.91,255.88 L143.98,255.45 L144.05,255.11 L144.12,254.85 L144.19,254.67 L144.26,254.56 L144.33,254.51 L144.40,254.50 L144.40,254.50 L144.47,254.51 L144.54,254.56 L144.61,254.67 L144.68,254.85 L144.75,255.11 L144.82,255.45 L144.89,255.88 L144.96,256.39 L145.03,256.99 L145.11,257.66 L145.18,258.40 L145.25,259.19 L145.32,260.03 L145.39,260.90 L145.46,261.78 L145.53,262.66 L145.60,263.53 L145.67,264.37 L145.74,265.17 L145.81,265.92 L145.88,266.61 L145.95,267.24 L146.02,267.81 L146.09,268.31 L146.16,268.74 L146.23,269.11 L146.30,269.42 L146.37,269.68 L146.44,269.89 L146.52,270.06 L146.59,270.20 L146.66,270.31 L146.73,270.39 L146.80,270.45 L146.87,270.49 L146.94,270.53 L147.01,270.55 L147.08,270.57 L147.15,270.58 L147.22,270.59 L147.22,270.60 Z" fill="#000"/>
<line x1="148.50" y1="235.50" x2="148.50" y2="270.60" stroke="#ff2020" stroke-width="0.9" opacity="0.42"/>
<rect x="130.50" y="235.50" width="34.00" height="35.10" fill="none" stroke="#b4b4ff" stroke-width="0.9"/>
<line x1="130.50" y1="270.60" x2="164.50" y2="270.60" stroke="#8c8cff" stroke-width="1.3"/>
<line x1="130.50" y1="270.60" x2="131.10" y2="270.60" stroke="#4444ec" stroke-width="1.3"/>
<line x1="134.37" y1="270.60" x2="136.77" y2="270.60" stroke="#4444ec" stroke-width="1.3"/>
<line x1="140.03" y1="270.60" x2="142.43" y2="270.60" stroke="#4444ec" stroke-width="1.3"/>
<line x1="145.70" y1="270.60" x2="148.10" y2="270.60" stroke="#4444ec" stroke-width="1.3"/>
<line x1="151.37" y1="270.60" x2="153.77" y2="270.60" stroke="#4444ec" stroke-width="1.3"/>
<line x1="157.03" y1="270.60" x2="159.43" y2="270.60" stroke="#4444ec" stroke-width="1.3"/>
<line x1="162.70" y1="270.60" x2="164.50" y2="270.60" stroke="#4444ec" stroke-width="1.3"/>
<line x1="133.90" y1="235.50" x2="145.80" y2="235.50" stroke="#8080c0" stroke-width="0.5" opacity="0.5"/>
<line x1="130.50" y1="235.50" x2="131.50" y2="235.50" stroke="#4848f2" stroke-width="0.6"/>
<rect x="126.70" y="234.30" width="1.30" height="2.40" fill="#5c5cf6" stroke="none" stroke-width="1" opacity="0.85"/>
<line x1="130.50" y1="244.28" x2="131.50" y2="244.28" stroke="#4848f2" stroke-width="0.6"/>
<rect x="126.70" y="243.08" width="1.30" height="2.40" fill="#5c5cf6" stroke="none" stroke-width="1" opacity="0.85"/>
<line x1="130.50" y1="253.05" x2="131.50" y2="253.05" stroke="#4848f2" stroke-width="0.6"/>
<rect x="126.70" y="251.85" width="1.30" height="2.40" fill="#5c5cf6" stroke="none" stroke-width="1" opacity="0.85"/>
<line x1="130.50" y1="261.83" x2="131.50" y2="261.83" stroke="#4848f2" stroke-width="0.6"/>
<rect x="126.70" y="260.63" width="1.30" height="2.40" fill="#5c5cf6" stroke="none" stroke-width="1" opacity="0.85"/>
<line x1="130.50" y1="270.60" x2="131.50" y2="270.60" stroke="#4848f2" stroke-width="0.6"/>
<rect x="126.70" y="269.40" width="1.30" height="2.40" fill="#5c5cf6" stroke="none" stroke-width="1" opacity="0.85"/>
<line x1="130.50" y1="270.60" x2="130.50" y2="271.60" stroke="#4848f2" stroke-width="0.5"/>
<line x1="129.60" y1="274.00" x2="131.40" y2="272.80" stroke="#5c5cf6" stroke-width="0.9"/>
<line x1="136.17" y1="270.60" x2="136.17" y2="271.60" stroke="#4848f2" stroke-width="0.5"/>
<line x1="135.27" y1="274.00" x2="137.07" y2="272.80" stroke="#5c5cf6" stroke-width="0.9"/>
<line x1="141.83" y1="270.60" x2="141.83" y2="271.60" stroke="#4848f2" stroke-width="0.5"/>
<line x1="140.93" y1="274.00" x2="142.73" y2="272.80" stroke="#5c5cf6" stroke-width="0.9"/>
<line x1="147.50" y1="270.60" x2="147.50" y2="271.60" stroke="#4848f2" stroke-width="0.5"/>
<line x1="146.60" y1="274.00" x2="148.40" y2="272.80" stroke="#5c5cf6" stroke-width="0.9"/>
<line x1="153.17" y1="270.60" x2="153.17" y2="271.60" stroke="#4848f2" stroke-width="0.5"/>
<line x1="152.27" y1="274.00" x2="154.07" y2="272.80" stroke="#5c5cf6" stroke-width="0.9"/>
<line x1="158.83" y1="270.60" x2="158.83" y2="271.60" stroke="#4848f2" stroke-width="0.5"/>
<line x1="157.93" y1="274.00" x2="159.73" y2="272.80" stroke="#5c5cf6" stroke-width="0.9"/>
<line x1="164.50" y1="270.60" x2="164.50" y2="271.60" stroke="#4848f2" stroke-width="0.5"/>
<line x1="163.60" y1="274.00" x2="165.40" y2="272.80" stroke="#5c5cf6" stroke-width="0.9"/>
<text x="131.40" y="238.30" font-size="2.40" text-anchor="start" font-weight="bold" fill="#ee2a36" text-rendering="geometricPrecision">13.5</text>
<text x="131.40" y="240.80" font-size="2.40" text-anchor="start" font-weight="bold" fill="#ee2a36" text-rendering="geometricPrecision">84.0%</text>
<text x="163.70" y="238.30" font-size="2.40" text-anchor="end" font-weight="bold" fill="#ee2a36" text-rendering="geometricPrecision">17.0</text>
<text x="163.70" y="240.80" font-size="2.40" text-anchor="end" font-weight="bold" fill="#ee2a36" text-rendering="geometricPrecision">8.2%</text>
<text x="154.50" y="248.20" font-size="5.1" text-anchor="middle" font-weight="bold" fill="#2a3ec8" stroke="#2a3ec8" stroke-width="0.15">(+)</text>
<rect x="164.50" y="235.50" width="35.00" height="35.10" fill="#fff" stroke="none" stroke-width="1"/>
<path d="M179.88,270.60 L179.88,270.58 L179.94,270.57 L179.99,270.56 L180.04,270.54 L180.10,270.52 L180.15,270.48 L180.20,270.43 L180.25,270.36 L180.31,270.27 L180.36,270.16 L180.41,270.00 L180.47,269.82 L180.52,269.58 L180.57,269.29 L180.62,268.94 L180.68,268.53 L180.73,268.05 L180.78,267.50 L180.84,266.87 L180.89,266.17 L180.94,265.40 L181.00,264.56 L181.05,263.67 L181.10,262.74 L181.15,261.77 L181.21,260.79 L181.26,259.81 L181.31,258.85 L181.37,257.92 L181.42,257.03 L181.47,256.21 L181.52,255.47 L181.58,254.80 L181.63,254.23 L181.68,253.76 L181.74,253.38 L181.79,253.09 L181.84,252.89 L181.89,252.77 L181.95,252.71 L182.00,252.70 L182.00,252.70 L182.05,252.71 L182.11,252.77 L182.16,252.89 L182.21,253.09 L182.26,253.38 L182.32,253.76 L182.37,254.23 L182.42,254.80 L182.48,255.47 L182.53,256.21 L182.58,257.03 L182.63,257.92 L182.69,258.85 L182.74,259.81 L182.79,260.79 L182.85,261.77 L182.90,262.74 L182.95,263.67 L183.00,264.56 L183.06,265.40 L183.11,266.17 L183.16,266.87 L183.22,267.50 L183.27,268.05 L183.32,268.53 L183.38,268.94 L183.43,269.29 L183.48,269.58 L183.53,269.82 L183.59,270.00 L183.64,270.16 L183.69,270.27 L183.75,270.36 L183.80,270.43 L183.85,270.48 L183.90,270.52 L183.96,270.54 L184.01,270.56 L184.06,270.57 L184.12,270.58 L184.12,270.60 Z" fill="#000"/>
<line x1="182.50" y1="235.50" x2="182.50" y2="270.60" stroke="#ff2020" stroke-width="0.9" opacity="0.42"/>
<rect x="164.50" y="235.50" width="35.00" height="35.10" fill="none" stroke="#b4b4ff" stroke-width="0.9"/>
<line x1="164.50" y1="270.60" x2="199.50" y2="270.60" stroke="#8c8cff" stroke-width="1.3"/>
<line x1="164.50" y1="270.60" x2="165.10" y2="270.60" stroke="#4444ec" stroke-width="1.3"/>
<line x1="168.53" y1="270.60" x2="170.93" y2="270.60" stroke="#4444ec" stroke-width="1.3"/>
<line x1="174.37" y1="270.60" x2="176.77" y2="270.60" stroke="#4444ec" stroke-width="1.3"/>
<line x1="180.20" y1="270.60" x2="182.60" y2="270.60" stroke="#4444ec" stroke-width="1.3"/>
<line x1="186.03" y1="270.60" x2="188.43" y2="270.60" stroke="#4444ec" stroke-width="1.3"/>
<line x1="191.87" y1="270.60" x2="194.27" y2="270.60" stroke="#4444ec" stroke-width="1.3"/>
<line x1="197.70" y1="270.60" x2="199.50" y2="270.60" stroke="#4444ec" stroke-width="1.3"/>
<line x1="168.00" y1="235.50" x2="180.25" y2="235.50" stroke="#8080c0" stroke-width="0.5" opacity="0.5"/>
<line x1="164.50" y1="235.50" x2="165.50" y2="235.50" stroke="#4848f2" stroke-width="0.6"/>
<line x1="164.50" y1="244.28" x2="165.50" y2="244.28" stroke="#4848f2" stroke-width="0.6"/>
<line x1="164.50" y1="253.05" x2="165.50" y2="253.05" stroke="#4848f2" stroke-width="0.6"/>
<line x1="164.50" y1="261.83" x2="165.50" y2="261.83" stroke="#4848f2" stroke-width="0.6"/>
<line x1="164.50" y1="270.60" x2="165.50" y2="270.60" stroke="#4848f2" stroke-width="0.6"/>
<line x1="164.50" y1="270.60" x2="164.50" y2="271.60" stroke="#4848f2" stroke-width="0.5"/>
<line x1="163.60" y1="274.00" x2="165.40" y2="272.80" stroke="#5c5cf6" stroke-width="0.9"/>
<line x1="170.33" y1="270.60" x2="170.33" y2="271.60" stroke="#4848f2" stroke-width="0.5"/>
<line x1="169.43" y1="274.00" x2="171.23" y2="272.80" stroke="#5c5cf6" stroke-width="0.9"/>
<line x1="176.17" y1="270.60" x2="176.17" y2="271.60" stroke="#4848f2" stroke-width="0.5"/>
<line x1="175.27" y1="274.00" x2="177.07" y2="272.80" stroke="#5c5cf6" stroke-width="0.9"/>
<line x1="182.00" y1="270.60" x2="182.00" y2="271.60" stroke="#4848f2" stroke-width="0.5"/>
<line x1="181.10" y1="274.00" x2="182.90" y2="272.80" stroke="#5c5cf6" stroke-width="0.9"/>
<line x1="187.83" y1="270.60" x2="187.83" y2="271.60" stroke="#4848f2" stroke-width="0.5"/>
<line x1="186.93" y1="274.00" x2="188.73" y2="272.80" stroke="#5c5cf6" stroke-width="0.9"/>
<line x1="193.67" y1="270.60" x2="193.67" y2="271.60" stroke="#4848f2" stroke-width="0.5"/>
<line x1="192.77" y1="274.00" x2="194.57" y2="272.80" stroke="#5c5cf6" stroke-width="0.9"/>
<line x1="199.50" y1="270.60" x2="199.50" y2="271.60" stroke="#4848f2" stroke-width="0.5"/>
<line x1="198.60" y1="274.00" x2="200.40" y2="272.80" stroke="#5c5cf6" stroke-width="0.9"/>
<text x="165.40" y="238.30" font-size="2.40" text-anchor="start" font-weight="bold" fill="#ee2a36" text-rendering="geometricPrecision">13.5</text>
<text x="165.40" y="240.80" font-size="2.40" text-anchor="start" font-weight="bold" fill="#ee2a36" text-rendering="geometricPrecision">84.0%</text>
<text x="198.70" y="238.30" font-size="2.40" text-anchor="end" font-weight="bold" fill="#ee2a36" text-rendering="geometricPrecision">17.0</text>
<text x="198.70" y="240.80" font-size="2.40" text-anchor="end" font-weight="bold" fill="#ee2a36" text-rendering="geometricPrecision">8.2%</text>
<text x="190.50" y="248.20" font-size="5.1" text-anchor="middle" font-weight="bold" fill="#2a3ec8" stroke="#2a3ec8" stroke-width="0.15">(+)</text>
<rect x="199.50" y="235.50" width="34.00" height="35.10" fill="#fff" stroke="none" stroke-width="1"/>
<path d="M214.68,270.60 L214.68,270.58 L214.74,270.58 L214.79,270.56 L214.84,270.54 L214.90,270.52 L214.95,270.48 L215.00,270.44 L215.05,270.37 L215.11,270.28 L215.16,270.17 L215.21,270.02 L215.27,269.84 L215.32,269.61 L215.37,269.34 L215.42,269.00 L215.48,268.60 L215.53,268.14 L215.58,267.60 L215.64,266.99 L215.69,266.31 L215.74,265.57 L215.80,264.76 L215.85,263.90 L215.90,263.00 L215.95,262.07 L216.01,261.12 L216.06,260.17 L216.11,259.24 L216.17,258.34 L216.22,257.49 L216.27,256.69 L216.32,255.97 L216.38,255.33 L216.43,254.78 L216.48,254.32 L216.54,253.96 L216.59,253.68 L216.64,253.49 L216.69,253.37 L216.75,253.31 L216.80,253.30 L216.80,253.30 L216.85,253.31 L216.91,253.37 L216.96,253.49 L217.01,253.68 L217.06,253.96 L217.12,254.32 L217.17,254.78 L217.22,255.33 L217.28,255.97 L217.33,256.69 L217.38,257.49 L217.43,258.34 L217.49,259.24 L217.54,260.17 L217.59,261.12 L217.65,262.07 L217.70,263.00 L217.75,263.90 L217.80,264.76 L217.86,265.57 L217.91,266.31 L217.96,266.99 L218.02,267.60 L218.07,268.14 L218.12,268.60 L218.18,269.00 L218.23,269.34 L218.28,269.61 L218.33,269.84 L218.39,270.02 L218.44,270.17 L218.49,270.28 L218.55,270.37 L218.60,270.44 L218.65,270.48 L218.70,270.52 L218.76,270.54 L218.81,270.56 L218.86,270.58 L218.92,270.58 L218.92,270.60 Z" fill="#000"/>
<line x1="217.50" y1="235.50" x2="217.50" y2="270.60" stroke="#ff2020" stroke-width="0.9" opacity="0.42"/>
<rect x="199.50" y="235.50" width="34.00" height="35.10" fill="none" stroke="#b4b4ff" stroke-width="0.9"/>
<line x1="199.50" y1="270.60" x2="233.50" y2="270.60" stroke="#8c8cff" stroke-width="1.3"/>
<line x1="199.50" y1="270.60" x2="200.10" y2="270.60" stroke="#4444ec" stroke-width="1.3"/>
<line x1="203.37" y1="270.60" x2="205.77" y2="270.60" stroke="#4444ec" stroke-width="1.3"/>
<line x1="209.03" y1="270.60" x2="211.43" y2="270.60" stroke="#4444ec" stroke-width="1.3"/>
<line x1="214.70" y1="270.60" x2="217.10" y2="270.60" stroke="#4444ec" stroke-width="1.3"/>
<line x1="220.37" y1="270.60" x2="222.77" y2="270.60" stroke="#4444ec" stroke-width="1.3"/>
<line x1="226.03" y1="270.60" x2="228.43" y2="270.60" stroke="#4444ec" stroke-width="1.3"/>
<line x1="231.70" y1="270.60" x2="233.50" y2="270.60" stroke="#4444ec" stroke-width="1.3"/>
<line x1="202.90" y1="235.50" x2="214.80" y2="235.50" stroke="#8080c0" stroke-width="0.5" opacity="0.5"/>
<line x1="199.50" y1="235.50" x2="200.50" y2="235.50" stroke="#4848f2" stroke-width="0.6"/>
<line x1="199.50" y1="244.28" x2="200.50" y2="244.28" stroke="#4848f2" stroke-width="0.6"/>
<line x1="199.50" y1="253.05" x2="200.50" y2="253.05" stroke="#4848f2" stroke-width="0.6"/>
<line x1="199.50" y1="261.83" x2="200.50" y2="261.83" stroke="#4848f2" stroke-width="0.6"/>
<line x1="199.50" y1="270.60" x2="200.50" y2="270.60" stroke="#4848f2" stroke-width="0.6"/>
<line x1="199.50" y1="270.60" x2="199.50" y2="271.60" stroke="#4848f2" stroke-width="0.5"/>
<line x1="198.60" y1="274.00" x2="200.40" y2="272.80" stroke="#5c5cf6" stroke-width="0.9"/>
<line x1="205.17" y1="270.60" x2="205.17" y2="271.60" stroke="#4848f2" stroke-width="0.5"/>
<line x1="204.27" y1="274.00" x2="206.07" y2="272.80" stroke="#5c5cf6" stroke-width="0.9"/>
<line x1="210.83" y1="270.60" x2="210.83" y2="271.60" stroke="#4848f2" stroke-width="0.5"/>
<line x1="209.93" y1="274.00" x2="211.73" y2="272.80" stroke="#5c5cf6" stroke-width="0.9"/>
<line x1="216.50" y1="270.60" x2="216.50" y2="271.60" stroke="#4848f2" stroke-width="0.5"/>
<line x1="215.60" y1="274.00" x2="217.40" y2="272.80" stroke="#5c5cf6" stroke-width="0.9"/>
<line x1="222.17" y1="270.60" x2="222.17" y2="271.60" stroke="#4848f2" stroke-width="0.5"/>
<line x1="221.27" y1="274.00" x2="223.07" y2="272.80" stroke="#5c5cf6" stroke-width="0.9"/>
<line x1="227.83" y1="270.60" x2="227.83" y2="271.60" stroke="#4848f2" stroke-width="0.5"/>
<line x1="226.93" y1="274.00" x2="228.73" y2="272.80" stroke="#5c5cf6" stroke-width="0.9"/>
<line x1="233.50" y1="270.60" x2="233.50" y2="271.60" stroke="#4848f2" stroke-width="0.5"/>
<line x1="232.60" y1="274.00" x2="234.40" y2="272.80" stroke="#5c5cf6" stroke-width="0.9"/>
<text x="200.40" y="238.30" font-size="2.40" text-anchor="start" font-weight="bold" fill="#ee2a36" text-rendering="geometricPrecision">13.5</text>
<text x="200.40" y="240.80" font-size="2.40" text-anchor="start" font-weight="bold" fill="#ee2a36" text-rendering="geometricPrecision">84.0%</text>
<text x="232.70" y="238.30" font-size="2.40" text-anchor="end" font-weight="bold" fill="#ee2a36" text-rendering="geometricPrecision">17.0</text>
<text x="232.70" y="240.80" font-size="2.40" text-anchor="end" font-weight="bold" fill="#ee2a36" text-rendering="geometricPrecision">8.2%</text>
<text x="226.00" y="248.20" font-size="5.1" text-anchor="middle" font-weight="bold" fill="#2a3ec8" stroke="#2a3ec8" stroke-width="0.15">(+)</text>
<rect x="163.00" y="202.50" width="3.00" height="68.00" fill="#c8c8ff" stroke="none" stroke-width="1" opacity="0.7"/>
<rect x="198.00" y="202.50" width="3.00" height="68.00" fill="#c8c8ff" stroke="none" stroke-width="1" opacity="0.7"/>
<line x1="130.50" y1="235.60" x2="233.50" y2="235.60" stroke="#6262f4" stroke-width="1.5" stroke-dasharray="3.2 1.0"/>
<text x="180.35" y="188.90" font-size="5.6" text-anchor="middle" font-weight="bold" fill="#111" stroke="#111" stroke-width="0.22">HCC1937</text>
<text x="146.85" y="198.60" font-size="5.6" text-anchor="middle" font-weight="bold" fill="#111" stroke="#111" stroke-width="0.22">0</text>
<text x="181.35" y="198.60" font-size="5.6" text-anchor="middle" font-weight="bold" fill="#111" stroke="#111" stroke-width="0.22">12</text>
<text x="216.45" y="198.60" font-size="5.6" text-anchor="middle" font-weight="bold" fill="#111" stroke="#111" stroke-width="0.22">24 h</text>
<rect x="240.50" y="202.50" width="34.00" height="33.10" fill="#fff" stroke="none" stroke-width="1"/>
<path d="M249.27,235.60 L249.27,235.58 L249.36,235.57 L249.44,235.55 L249.53,235.53 L249.61,235.50 L249.70,235.46 L249.79,235.41 L249.87,235.34 L249.96,235.25 L250.04,235.14 L250.13,234.99 L250.21,234.81 L250.30,234.59 L250.39,234.32 L250.47,233.99 L250.56,233.60 L250.64,233.15 L250.73,232.63 L250.81,232.03 L250.90,231.36 L250.99,230.62 L251.07,229.82 L251.16,228.94 L251.24,228.01 L251.33,227.04 L251.41,226.03 L251.50,225.01 L251.59,223.98 L251.67,222.97 L251.76,221.99 L251.84,221.05 L251.93,220.18 L252.01,219.39 L252.10,218.69 L252.19,218.08 L252.27,217.58 L252.36,217.19 L252.44,216.91 L252.53,216.72 L252.61,216.62 L252.70,216.60 L252.70,216.60 L252.79,216.62 L252.87,216.72 L252.96,216.91 L253.04,217.19 L253.13,217.58 L253.21,218.08 L253.30,218.69 L253.39,219.39 L253.47,220.18 L253.56,221.05 L253.64,221.99 L253.73,222.97 L253.81,223.98 L253.90,225.01 L253.99,226.03 L254.07,227.04 L254.16,228.01 L254.24,228.94 L254.33,229.82 L254.41,230.62 L254.50,231.36 L254.59,232.03 L254.67,232.63 L254.76,233.15 L254.84,233.60 L254.93,233.99 L255.01,234.32 L255.10,234.59 L255.19,234.81 L255.27,234.99 L255.36,235.14 L255.44,235.25 L255.53,235.34 L255.61,235.41 L255.70,235.46 L255.79,235.50 L255.87,235.53 L255.96,235.55 L256.04,235.57 L256.13,235.58 L256.13,235.60 Z" fill="#000"/>
<line x1="257.50" y1="202.50" x2="257.50" y2="235.60" stroke="#ff2020" stroke-width="0.9" opacity="0.42"/>
<rect x="240.50" y="202.50" width="34.00" height="33.10" fill="none" stroke="#b4b4ff" stroke-width="0.9"/>
<line x1="240.50" y1="235.60" x2="274.50" y2="235.60" stroke="#8c8cff" stroke-width="1.3"/>
<line x1="240.50" y1="235.60" x2="241.10" y2="235.60" stroke="#4444ec" stroke-width="1.3"/>
<line x1="244.37" y1="235.60" x2="246.77" y2="235.60" stroke="#4444ec" stroke-width="1.3"/>
<line x1="250.03" y1="235.60" x2="252.43" y2="235.60" stroke="#4444ec" stroke-width="1.3"/>
<line x1="255.70" y1="235.60" x2="258.10" y2="235.60" stroke="#4444ec" stroke-width="1.3"/>
<line x1="261.37" y1="235.60" x2="263.77" y2="235.60" stroke="#4444ec" stroke-width="1.3"/>
<line x1="267.03" y1="235.60" x2="269.43" y2="235.60" stroke="#4444ec" stroke-width="1.3"/>
<line x1="272.70" y1="235.60" x2="274.50" y2="235.60" stroke="#4444ec" stroke-width="1.3"/>
<line x1="243.90" y1="202.50" x2="255.80" y2="202.50" stroke="#8080c0" stroke-width="0.5" opacity="0.5"/>
<line x1="240.50" y1="202.50" x2="241.50" y2="202.50" stroke="#4848f2" stroke-width="0.6"/>
<rect x="236.70" y="201.30" width="1.30" height="2.40" fill="#5c5cf6" stroke="none" stroke-width="1" opacity="0.85"/>
<line x1="240.50" y1="210.78" x2="241.50" y2="210.78" stroke="#4848f2" stroke-width="0.6"/>
<rect x="236.70" y="209.58" width="1.30" height="2.40" fill="#5c5cf6" stroke="none" stroke-width="1" opacity="0.85"/>
<line x1="240.50" y1="219.05" x2="241.50" y2="219.05" stroke="#4848f2" stroke-width="0.6"/>
<rect x="236.70" y="217.85" width="1.30" height="2.40" fill="#5c5cf6" stroke="none" stroke-width="1" opacity="0.85"/>
<line x1="240.50" y1="227.32" x2="241.50" y2="227.32" stroke="#4848f2" stroke-width="0.6"/>
<rect x="236.70" y="226.12" width="1.30" height="2.40" fill="#5c5cf6" stroke="none" stroke-width="1" opacity="0.85"/>
<line x1="240.50" y1="235.60" x2="241.50" y2="235.60" stroke="#4848f2" stroke-width="0.6"/>
<rect x="236.70" y="234.40" width="1.30" height="2.40" fill="#5c5cf6" stroke="none" stroke-width="1" opacity="0.85"/>
<line x1="240.50" y1="235.60" x2="240.50" y2="236.60" stroke="#4848f2" stroke-width="0.5"/>
<line x1="246.17" y1="235.60" x2="246.17" y2="236.60" stroke="#4848f2" stroke-width="0.5"/>
<line x1="251.83" y1="235.60" x2="251.83" y2="236.60" stroke="#4848f2" stroke-width="0.5"/>
<line x1="257.50" y1="235.60" x2="257.50" y2="236.60" stroke="#4848f2" stroke-width="0.5"/>
<line x1="263.17" y1="235.60" x2="263.17" y2="236.60" stroke="#4848f2" stroke-width="0.5"/>
<line x1="268.83" y1="235.60" x2="268.83" y2="236.60" stroke="#4848f2" stroke-width="0.5"/>
<line x1="274.50" y1="235.60" x2="274.50" y2="236.60" stroke="#4848f2" stroke-width="0.5"/>
<text x="241.40" y="205.30" font-size="2.40" text-anchor="start" font-weight="bold" fill="#ee2a36" text-rendering="geometricPrecision">13.5</text>
<text x="241.40" y="207.80" font-size="2.40" text-anchor="start" font-weight="bold" fill="#ee2a36" text-rendering="geometricPrecision">84.0%</text>
<text x="273.70" y="205.30" font-size="2.40" text-anchor="end" font-weight="bold" fill="#ee2a36" text-rendering="geometricPrecision">17.0</text>
<text x="273.70" y="207.80" font-size="2.40" text-anchor="end" font-weight="bold" fill="#ee2a36" text-rendering="geometricPrecision">8.2%</text>
<text x="264.40" y="215.00" font-size="5.1" text-anchor="middle" font-weight="bold" fill="#2a3ec8" stroke="#2a3ec8" stroke-width="0.15">(+)</text>
<rect x="274.50" y="202.50" width="34.00" height="33.10" fill="#fff" stroke="none" stroke-width="1"/>
<path d="M288.48,235.60 L288.48,235.58 L288.54,235.57 L288.59,235.55 L288.64,235.52 L288.70,235.49 L288.75,235.44 L288.80,235.37 L288.85,235.28 L288.91,235.16 L288.96,235.00 L289.01,234.80 L289.07,234.54 L289.12,234.22 L289.17,233.83 L289.22,233.36 L289.28,232.80 L289.33,232.15 L289.38,231.40 L289.44,230.55 L289.49,229.61 L289.54,228.56 L289.60,227.44 L289.65,226.23 L289.70,224.97 L289.75,223.67 L289.81,222.34 L289.86,221.02 L289.91,219.71 L289.97,218.45 L290.02,217.26 L290.07,216.15 L290.12,215.14 L290.18,214.24 L290.23,213.47 L290.28,212.83 L290.34,212.32 L290.39,211.93 L290.44,211.66 L290.49,211.49 L290.55,211.42 L290.60,211.40 L290.60,211.40 L290.65,211.42 L290.71,211.49 L290.76,211.66 L290.81,211.93 L290.86,212.32 L290.92,212.83 L290.97,213.47 L291.02,214.24 L291.08,215.14 L291.13,216.15 L291.18,217.26 L291.23,218.45 L291.29,219.71 L291.34,221.02 L291.39,222.34 L291.45,223.67 L291.50,224.97 L291.55,226.23 L291.60,227.44 L291.66,228.56 L291.71,229.61 L291.76,230.55 L291.82,231.40 L291.87,232.15 L291.92,232.80 L291.98,233.36 L292.03,233.83 L292.08,234.22 L292.13,234.54 L292.19,234.80 L292.24,235.00 L292.29,235.16 L292.35,235.28 L292.40,235.37 L292.45,235.44 L292.50,235.49 L292.56,235.52 L292.61,235.55 L292.66,235.57 L292.72,235.58 L292.72,235.60 Z" fill="#000"/>
<line x1="292.50" y1="202.50" x2="292.50" y2="235.60" stroke="#ff2020" stroke-width="0.9" opacity="0.42"/>
<rect x="274.50" y="202.50" width="34.00" height="33.10" fill="none" stroke="#b4b4ff" stroke-width="0.9"/>
<line x1="274.50" y1="235.60" x2="308.50" y2="235.60" stroke="#8c8cff" stroke-width="1.3"/>
<line x1="274.50" y1="235.60" x2="275.10" y2="235.60" stroke="#4444ec" stroke-width="1.3"/>
<line x1="278.37" y1="235.60" x2="280.77" y2="235.60" stroke="#4444ec" stroke-width="1.3"/>
<line x1="284.03" y1="235.60" x2="286.43" y2="235.60" stroke="#4444ec" stroke-width="1.3"/>
<line x1="289.70" y1="235.60" x2="292.10" y2="235.60" stroke="#4444ec" stroke-width="1.3"/>
<line x1="295.37" y1="235.60" x2="297.77" y2="235.60" stroke="#4444ec" stroke-width="1.3"/>
<line x1="301.03" y1="235.60" x2="303.43" y2="235.60" stroke="#4444ec" stroke-width="1.3"/>
<line x1="306.70" y1="235.60" x2="308.50" y2="235.60" stroke="#4444ec" stroke-width="1.3"/>
<line x1="277.90" y1="202.50" x2="289.80" y2="202.50" stroke="#8080c0" stroke-width="0.5" opacity="0.5"/>
<line x1="274.50" y1="202.50" x2="275.50" y2="202.50" stroke="#4848f2" stroke-width="0.6"/>
<line x1="274.50" y1="210.78" x2="275.50" y2="210.78" stroke="#4848f2" stroke-width="0.6"/>
<line x1="274.50" y1="219.05" x2="275.50" y2="219.05" stroke="#4848f2" stroke-width="0.6"/>
<line x1="274.50" y1="227.32" x2="275.50" y2="227.32" stroke="#4848f2" stroke-width="0.6"/>
<line x1="274.50" y1="235.60" x2="275.50" y2="235.60" stroke="#4848f2" stroke-width="0.6"/>
<line x1="274.50" y1="235.60" x2="274.50" y2="236.60" stroke="#4848f2" stroke-width="0.5"/>
<line x1="280.17" y1="235.60" x2="280.17" y2="236.60" stroke="#4848f2" stroke-width="0.5"/>
<line x1="285.83" y1="235.60" x2="285.83" y2="236.60" stroke="#4848f2" stroke-width="0.5"/>
<line x1="291.50" y1="235.60" x2="291.50" y2="236.60" stroke="#4848f2" stroke-width="0.5"/>
<line x1="297.17" y1="235.60" x2="297.17" y2="236.60" stroke="#4848f2" stroke-width="0.5"/>
<line x1="302.83" y1="235.60" x2="302.83" y2="236.60" stroke="#4848f2" stroke-width="0.5"/>
<line x1="308.50" y1="235.60" x2="308.50" y2="236.60" stroke="#4848f2" stroke-width="0.5"/>
<text x="275.40" y="205.30" font-size="2.40" text-anchor="start" font-weight="bold" fill="#ee2a36" text-rendering="geometricPrecision">13.5</text>
<text x="275.40" y="207.80" font-size="2.40" text-anchor="start" font-weight="bold" fill="#ee2a36" text-rendering="geometricPrecision">84.0%</text>
<text x="307.70" y="205.30" font-size="2.40" text-anchor="end" font-weight="bold" fill="#ee2a36" text-rendering="geometricPrecision">17.0</text>
<text x="307.70" y="207.80" font-size="2.40" text-anchor="end" font-weight="bold" fill="#ee2a36" text-rendering="geometricPrecision">8.2%</text>
<text x="299.97" y="215.00" font-size="5.1" text-anchor="middle" font-weight="bold" fill="#2a3ec8" stroke="#2a3ec8" stroke-width="0.15">(+)</text>
<rect x="308.50" y="202.50" width="34.00" height="33.10" fill="#fff" stroke="none" stroke-width="1"/>
<path d="M323.18,235.60 L323.18,235.58 L323.24,235.57 L323.29,235.55 L323.34,235.53 L323.40,235.49 L323.45,235.44 L323.50,235.38 L323.55,235.29 L323.61,235.18 L323.66,235.02 L323.71,234.83 L323.77,234.58 L323.82,234.28 L323.87,233.90 L323.92,233.45 L323.98,232.92 L324.03,232.29 L324.08,231.58 L324.14,230.76 L324.19,229.85 L324.24,228.85 L324.30,227.77 L324.35,226.62 L324.40,225.41 L324.45,224.16 L324.51,222.89 L324.56,221.62 L324.61,220.37 L324.67,219.16 L324.72,218.02 L324.77,216.95 L324.82,215.98 L324.88,215.13 L324.93,214.39 L324.98,213.77 L325.04,213.28 L325.09,212.91 L325.14,212.65 L325.19,212.49 L325.25,212.42 L325.30,212.40 L325.30,212.40 L325.35,212.42 L325.41,212.49 L325.46,212.65 L325.51,212.91 L325.56,213.28 L325.62,213.77 L325.67,214.39 L325.72,215.13 L325.78,215.98 L325.83,216.95 L325.88,218.02 L325.93,219.16 L325.99,220.37 L326.04,221.62 L326.09,222.89 L326.15,224.16 L326.20,225.41 L326.25,226.62 L326.30,227.77 L326.36,228.85 L326.41,229.85 L326.46,230.76 L326.52,231.58 L326.57,232.29 L326.62,232.92 L326.68,233.45 L326.73,233.90 L326.78,234.28 L326.83,234.58 L326.89,234.83 L326.94,235.02 L326.99,235.18 L327.05,235.29 L327.10,235.38 L327.15,235.44 L327.20,235.49 L327.26,235.53 L327.31,235.55 L327.36,235.57 L327.42,235.58 L327.42,235.60 Z" fill="#000"/>
<line x1="326.50" y1="202.50" x2="326.50" y2="235.60" stroke="#ff2020" stroke-width="0.9" opacity="0.42"/>
<rect x="308.50" y="202.50" width="34.00" height="33.10" fill="none" stroke="#b4b4ff" stroke-width="0.9"/>
<line x1="308.50" y1="235.60" x2="342.50" y2="235.60" stroke="#8c8cff" stroke-width="1.3"/>
<line x1="308.50" y1="235.60" x2="309.10" y2="235.60" stroke="#4444ec" stroke-width="1.3"/>
<line x1="312.37" y1="235.60" x2="314.77" y2="235.60" stroke="#4444ec" stroke-width="1.3"/>
<line x1="318.03" y1="235.60" x2="320.43" y2="235.60" stroke="#4444ec" stroke-width="1.3"/>
<line x1="323.70" y1="235.60" x2="326.10" y2="235.60" stroke="#4444ec" stroke-width="1.3"/>
<line x1="329.37" y1="235.60" x2="331.77" y2="235.60" stroke="#4444ec" stroke-width="1.3"/>
<line x1="335.03" y1="235.60" x2="337.43" y2="235.60" stroke="#4444ec" stroke-width="1.3"/>
<line x1="340.70" y1="235.60" x2="342.50" y2="235.60" stroke="#4444ec" stroke-width="1.3"/>
<line x1="311.90" y1="202.50" x2="323.80" y2="202.50" stroke="#8080c0" stroke-width="0.5" opacity="0.5"/>
<line x1="308.50" y1="202.50" x2="309.50" y2="202.50" stroke="#4848f2" stroke-width="0.6"/>
<line x1="308.50" y1="210.78" x2="309.50" y2="210.78" stroke="#4848f2" stroke-width="0.6"/>
<line x1="308.50" y1="219.05" x2="309.50" y2="219.05" stroke="#4848f2" stroke-width="0.6"/>
<line x1="308.50" y1="227.32" x2="309.50" y2="227.32" stroke="#4848f2" stroke-width="0.6"/>
<line x1="308.50" y1="235.60" x2="309.50" y2="235.60" stroke="#4848f2" stroke-width="0.6"/>
<line x1="308.50" y1="235.60" x2="308.50" y2="236.60" stroke="#4848f2" stroke-width="0.5"/>
<line x1="314.17" y1="235.60" x2="314.17" y2="236.60" stroke="#4848f2" stroke-width="0.5"/>
<line x1="319.83" y1="235.60" x2="319.83" y2="236.60" stroke="#4848f2" stroke-width="0.5"/>
<line x1="325.50" y1="235.60" x2="325.50" y2="236.60" stroke="#4848f2" stroke-width="0.5"/>
<line x1="331.17" y1="235.60" x2="331.17" y2="236.60" stroke="#4848f2" stroke-width="0.5"/>
<line x1="336.83" y1="235.60" x2="336.83" y2="236.60" stroke="#4848f2" stroke-width="0.5"/>
<line x1="342.50" y1="235.60" x2="342.50" y2="236.60" stroke="#4848f2" stroke-width="0.5"/>
<text x="309.40" y="205.30" font-size="2.40" text-anchor="start" font-weight="bold" fill="#ee2a36" text-rendering="geometricPrecision">13.5</text>
<text x="309.40" y="207.80" font-size="2.40" text-anchor="start" font-weight="bold" fill="#ee2a36" text-rendering="geometricPrecision">84.0%</text>
<text x="341.70" y="205.30" font-size="2.40" text-anchor="end" font-weight="bold" fill="#ee2a36" text-rendering="geometricPrecision">17.0</text>
<text x="341.70" y="207.80" font-size="2.40" text-anchor="end" font-weight="bold" fill="#ee2a36" text-rendering="geometricPrecision">8.2%</text>
<text x="335.03" y="215.00" font-size="5.1" text-anchor="middle" font-weight="bold" fill="#2a3ec8" stroke="#2a3ec8" stroke-width="0.15">(+)</text>
<rect x="240.50" y="235.50" width="34.00" height="35.10" fill="#fff" stroke="none" stroke-width="1"/>
<path d="M248.24,270.60 L248.24,270.57 L248.36,270.56 L248.49,270.54 L248.61,270.52 L248.73,270.50 L248.85,270.47 L248.97,270.43 L249.09,270.38 L249.21,270.32 L249.34,270.24 L249.46,270.15 L249.58,270.04 L249.70,269.91 L249.82,269.75 L249.94,269.55 L250.06,269.33 L250.19,269.07 L250.31,268.76 L250.43,268.41 L250.55,268.02 L250.67,267.57 L250.79,267.07 L250.91,266.52 L251.04,265.92 L251.16,265.27 L251.28,264.57 L251.40,263.83 L251.52,263.06 L251.64,262.26 L251.76,261.44 L251.89,260.62 L252.01,259.81 L252.13,259.01 L252.25,258.26 L252.37,257.56 L252.49,256.93 L252.61,256.38 L252.74,255.93 L252.86,255.59 L252.98,255.38 L253.10,255.30 L253.10,255.30 L253.22,255.38 L253.34,255.59 L253.46,255.93 L253.59,256.38 L253.71,256.93 L253.83,257.56 L253.95,258.26 L254.07,259.01 L254.19,259.81 L254.31,260.62 L254.44,261.44 L254.56,262.26 L254.68,263.06 L254.80,263.83 L254.92,264.57 L255.04,265.27 L255.16,265.92 L255.29,266.52 L255.41,267.07 L255.53,267.57 L255.65,268.02 L255.77,268.41 L255.89,268.76 L256.01,269.07 L256.14,269.33 L256.26,269.55 L256.38,269.75 L256.50,269.91 L256.62,270.04 L256.74,270.15 L256.86,270.24 L256.99,270.32 L257.11,270.38 L257.23,270.43 L257.35,270.47 L257.47,270.50 L257.59,270.52 L257.71,270.54 L257.84,270.56 L257.96,270.57 L257.96,270.60 Z" fill="#000"/>
<line x1="258.50" y1="235.50" x2="258.50" y2="270.60" stroke="#ff2020" stroke-width="0.9" opacity="0.42"/>
<rect x="240.50" y="235.50" width="34.00" height="35.10" fill="none" stroke="#b4b4ff" stroke-width="0.9"/>
<line x1="240.50" y1="270.60" x2="274.50" y2="270.60" stroke="#8c8cff" stroke-width="1.3"/>
<line x1="240.50" y1="270.60" x2="241.10" y2="270.60" stroke="#4444ec" stroke-width="1.3"/>
<line x1="244.37" y1="270.60" x2="246.77" y2="270.60" stroke="#4444ec" stroke-width="1.3"/>
<line x1="250.03" y1="270.60" x2="252.43" y2="270.60" stroke="#4444ec" stroke-width="1.3"/>
<line x1="255.70" y1="270.60" x2="258.10" y2="270.60" stroke="#4444ec" stroke-width="1.3"/>
<line x1="261.37" y1="270.60" x2="263.77" y2="270.60" stroke="#4444ec" stroke-width="1.3"/>
<line x1="267.03" y1="270.60" x2="269.43" y2="270.60" stroke="#4444ec" stroke-width="1.3"/>
<line x1="272.70" y1="270.60" x2="274.50" y2="270.60" stroke="#4444ec" stroke-width="1.3"/>
<line x1="243.90" y1="235.50" x2="255.80" y2="235.50" stroke="#8080c0" stroke-width="0.5" opacity="0.5"/>
<line x1="240.50" y1="235.50" x2="241.50" y2="235.50" stroke="#4848f2" stroke-width="0.6"/>
<rect x="236.70" y="234.30" width="1.30" height="2.40" fill="#5c5cf6" stroke="none" stroke-width="1" opacity="0.85"/>
<line x1="240.50" y1="244.28" x2="241.50" y2="244.28" stroke="#4848f2" stroke-width="0.6"/>
<rect x="236.70" y="243.08" width="1.30" height="2.40" fill="#5c5cf6" stroke="none" stroke-width="1" opacity="0.85"/>
<line x1="240.50" y1="253.05" x2="241.50" y2="253.05" stroke="#4848f2" stroke-width="0.6"/>
<rect x="236.70" y="251.85" width="1.30" height="2.40" fill="#5c5cf6" stroke="none" stroke-width="1" opacity="0.85"/>
<line x1="240.50" y1="261.83" x2="241.50" y2="261.83" stroke="#4848f2" stroke-width="0.6"/>
<rect x="236.70" y="260.63" width="1.30" height="2.40" fill="#5c5cf6" stroke="none" stroke-width="1" opacity="0.85"/>
<line x1="240.50" y1="270.60" x2="241.50" y2="270.60" stroke="#4848f2" stroke-width="0.6"/>
<rect x="236.70" y="269.40" width="1.30" height="2.40" fill="#5c5cf6" stroke="none" stroke-width="1" opacity="0.85"/>
<line x1="240.50" y1="270.60" x2="240.50" y2="271.60" stroke="#4848f2" stroke-width="0.5"/>
<line x1="239.60" y1="274.00" x2="241.40" y2="272.80" stroke="#5c5cf6" stroke-width="0.9"/>
<line x1="246.17" y1="270.60" x2="246.17" y2="271.60" stroke="#4848f2" stroke-width="0.5"/>
<line x1="245.27" y1="274.00" x2="247.07" y2="272.80" stroke="#5c5cf6" stroke-width="0.9"/>
<line x1="251.83" y1="270.60" x2="251.83" y2="271.60" stroke="#4848f2" stroke-width="0.5"/>
<line x1="250.93" y1="274.00" x2="252.73" y2="272.80" stroke="#5c5cf6" stroke-width="0.9"/>
<line x1="257.50" y1="270.60" x2="257.50" y2="271.60" stroke="#4848f2" stroke-width="0.5"/>
<line x1="256.60" y1="274.00" x2="258.40" y2="272.80" stroke="#5c5cf6" stroke-width="0.9"/>
<line x1="263.17" y1="270.60" x2="263.17" y2="271.60" stroke="#4848f2" stroke-width="0.5"/>
<line x1="262.27" y1="274.00" x2="264.07" y2="272.80" stroke="#5c5cf6" stroke-width="0.9"/>
<line x1="268.83" y1="270.60" x2="268.83" y2="271.60" stroke="#4848f2" stroke-width="0.5"/>
<line x1="267.93" y1="274.00" x2="269.73" y2="272.80" stroke="#5c5cf6" stroke-width="0.9"/>
<line x1="274.50" y1="270.60" x2="274.50" y2="271.60" stroke="#4848f2" stroke-width="0.5"/>
<line x1="273.60" y1="274.00" x2="275.40" y2="272.80" stroke="#5c5cf6" stroke-width="0.9"/>
<text x="241.40" y="238.30" font-size="2.40" text-anchor="start" font-weight="bold" fill="#ee2a36" text-rendering="geometricPrecision">13.5</text>
<text x="241.40" y="240.80" font-size="2.40" text-anchor="start" font-weight="bold" fill="#ee2a36" text-rendering="geometricPrecision">84.0%</text>
<text x="273.70" y="238.30" font-size="2.40" text-anchor="end" font-weight="bold" fill="#ee2a36" text-rendering="geometricPrecision">17.0</text>
<text x="273.70" y="240.80" font-size="2.40" text-anchor="end" font-weight="bold" fill="#ee2a36" text-rendering="geometricPrecision">8.2%</text>
<text x="264.40" y="248.20" font-size="5.1" text-anchor="middle" font-weight="bold" fill="#2a3ec8" stroke="#2a3ec8" stroke-width="0.15">(+)</text>
<rect x="274.50" y="235.50" width="34.00" height="35.10" fill="#fff" stroke="none" stroke-width="1"/>
<path d="M288.88,270.60 L288.88,270.58 L288.94,270.57 L288.99,270.55 L289.04,270.53 L289.10,270.49 L289.15,270.45 L289.20,270.38 L289.25,270.30 L289.31,270.19 L289.36,270.04 L289.41,269.85 L289.47,269.61 L289.52,269.31 L289.57,268.95 L289.62,268.51 L289.68,267.99 L289.73,267.38 L289.78,266.68 L289.84,265.89 L289.89,265.00 L289.94,264.03 L290.00,262.98 L290.05,261.85 L290.10,260.67 L290.15,259.46 L290.21,258.22 L290.26,256.98 L290.31,255.76 L290.37,254.59 L290.42,253.47 L290.47,252.43 L290.52,251.49 L290.58,250.66 L290.63,249.94 L290.68,249.34 L290.74,248.86 L290.79,248.49 L290.84,248.24 L290.89,248.09 L290.95,248.02 L291.00,248.00 L291.00,248.00 L291.05,248.02 L291.11,248.09 L291.16,248.24 L291.21,248.49 L291.26,248.86 L291.32,249.34 L291.37,249.94 L291.42,250.66 L291.48,251.49 L291.53,252.43 L291.58,253.47 L291.63,254.59 L291.69,255.76 L291.74,256.98 L291.79,258.22 L291.85,259.46 L291.90,260.67 L291.95,261.85 L292.00,262.98 L292.06,264.03 L292.11,265.00 L292.16,265.89 L292.22,266.68 L292.27,267.38 L292.32,267.99 L292.38,268.51 L292.43,268.95 L292.48,269.31 L292.53,269.61 L292.59,269.85 L292.64,270.04 L292.69,270.19 L292.75,270.30 L292.80,270.38 L292.85,270.45 L292.90,270.49 L292.96,270.53 L293.01,270.55 L293.06,270.57 L293.12,270.58 L293.12,270.60 Z" fill="#000"/>
<line x1="293.50" y1="235.50" x2="293.50" y2="270.60" stroke="#ff2020" stroke-width="0.9" opacity="0.42"/>
<rect x="274.50" y="235.50" width="34.00" height="35.10" fill="none" stroke="#b4b4ff" stroke-width="0.9"/>
<line x1="274.50" y1="270.60" x2="308.50" y2="270.60" stroke="#8c8cff" stroke-width="1.3"/>
<line x1="274.50" y1="270.60" x2="275.10" y2="270.60" stroke="#4444ec" stroke-width="1.3"/>
<line x1="278.37" y1="270.60" x2="280.77" y2="270.60" stroke="#4444ec" stroke-width="1.3"/>
<line x1="284.03" y1="270.60" x2="286.43" y2="270.60" stroke="#4444ec" stroke-width="1.3"/>
<line x1="289.70" y1="270.60" x2="292.10" y2="270.60" stroke="#4444ec" stroke-width="1.3"/>
<line x1="295.37" y1="270.60" x2="297.77" y2="270.60" stroke="#4444ec" stroke-width="1.3"/>
<line x1="301.03" y1="270.60" x2="303.43" y2="270.60" stroke="#4444ec" stroke-width="1.3"/>
<line x1="306.70" y1="270.60" x2="308.50" y2="270.60" stroke="#4444ec" stroke-width="1.3"/>
<line x1="277.90" y1="235.50" x2="289.80" y2="235.50" stroke="#8080c0" stroke-width="0.5" opacity="0.5"/>
<line x1="274.50" y1="235.50" x2="275.50" y2="235.50" stroke="#4848f2" stroke-width="0.6"/>
<line x1="274.50" y1="244.28" x2="275.50" y2="244.28" stroke="#4848f2" stroke-width="0.6"/>
<line x1="274.50" y1="253.05" x2="275.50" y2="253.05" stroke="#4848f2" stroke-width="0.6"/>
<line x1="274.50" y1="261.83" x2="275.50" y2="261.83" stroke="#4848f2" stroke-width="0.6"/>
<line x1="274.50" y1="270.60" x2="275.50" y2="270.60" stroke="#4848f2" stroke-width="0.6"/>
<line x1="274.50" y1="270.60" x2="274.50" y2="271.60" stroke="#4848f2" stroke-width="0.5"/>
<line x1="273.60" y1="274.00" x2="275.40" y2="272.80" stroke="#5c5cf6" stroke-width="0.9"/>
<line x1="280.17" y1="270.60" x2="280.17" y2="271.60" stroke="#4848f2" stroke-width="0.5"/>
<line x1="279.27" y1="274.00" x2="281.07" y2="272.80" stroke="#5c5cf6" stroke-width="0.9"/>
<line x1="285.83" y1="270.60" x2="285.83" y2="271.60" stroke="#4848f2" stroke-width="0.5"/>
<line x1="284.93" y1="274.00" x2="286.73" y2="272.80" stroke="#5c5cf6" stroke-width="0.9"/>
<line x1="291.50" y1="270.60" x2="291.50" y2="271.60" stroke="#4848f2" stroke-width="0.5"/>
<line x1="290.60" y1="274.00" x2="292.40" y2="272.80" stroke="#5c5cf6" stroke-width="0.9"/>
<line x1="297.17" y1="270.60" x2="297.17" y2="271.60" stroke="#4848f2" stroke-width="0.5"/>
<line x1="296.27" y1="274.00" x2="298.07" y2="272.80" stroke="#5c5cf6" stroke-width="0.9"/>
<line x1="302.83" y1="270.60" x2="302.83" y2="271.60" stroke="#4848f2" stroke-width="0.5"/>
<line x1="301.93" y1="274.00" x2="303.73" y2="272.80" stroke="#5c5cf6" stroke-width="0.9"/>
<line x1="308.50" y1="270.60" x2="308.50" y2="271.60" stroke="#4848f2" stroke-width="0.5"/>
<line x1="307.60" y1="274.00" x2="309.40" y2="272.80" stroke="#5c5cf6" stroke-width="0.9"/>
<text x="275.40" y="238.30" font-size="2.40" text-anchor="start" font-weight="bold" fill="#ee2a36" text-rendering="geometricPrecision">13.5</text>
<text x="275.40" y="240.80" font-size="2.40" text-anchor="start" font-weight="bold" fill="#ee2a36" text-rendering="geometricPrecision">84.0%</text>
<text x="307.70" y="238.30" font-size="2.40" text-anchor="end" font-weight="bold" fill="#ee2a36" text-rendering="geometricPrecision">17.0</text>
<text x="307.70" y="240.80" font-size="2.40" text-anchor="end" font-weight="bold" fill="#ee2a36" text-rendering="geometricPrecision">8.2%</text>
<text x="299.97" y="248.20" font-size="5.1" text-anchor="middle" font-weight="bold" fill="#2a3ec8" stroke="#2a3ec8" stroke-width="0.15">(+)</text>
<rect x="308.50" y="235.50" width="34.00" height="35.10" fill="#fff" stroke="none" stroke-width="1"/>
<path d="M323.18,270.60 L323.18,270.58 L323.24,270.57 L323.29,270.56 L323.34,270.53 L323.40,270.50 L323.45,270.46 L323.50,270.40 L323.55,270.32 L323.61,270.22 L323.66,270.08 L323.71,269.90 L323.77,269.68 L323.82,269.40 L323.87,269.06 L323.92,268.66 L323.98,268.17 L324.03,267.61 L324.08,266.96 L324.14,266.22 L324.19,265.40 L324.24,264.49 L324.30,263.52 L324.35,262.47 L324.40,261.38 L324.45,260.25 L324.51,259.10 L324.56,257.94 L324.61,256.81 L324.67,255.72 L324.72,254.68 L324.77,253.72 L324.82,252.84 L324.88,252.07 L324.93,251.40 L324.98,250.84 L325.04,250.40 L325.09,250.06 L325.14,249.82 L325.19,249.68 L325.25,249.61 L325.30,249.60 L325.30,249.60 L325.35,249.61 L325.41,249.68 L325.46,249.82 L325.51,250.06 L325.56,250.40 L325.62,250.84 L325.67,251.40 L325.72,252.07 L325.78,252.84 L325.83,253.72 L325.88,254.68 L325.93,255.72 L325.99,256.81 L326.04,257.94 L326.09,259.10 L326.15,260.25 L326.20,261.38 L326.25,262.47 L326.30,263.52 L326.36,264.49 L326.41,265.40 L326.46,266.22 L326.52,266.96 L326.57,267.61 L326.62,268.17 L326.68,268.66 L326.73,269.06 L326.78,269.40 L326.83,269.68 L326.89,269.90 L326.94,270.08 L326.99,270.22 L327.05,270.32 L327.10,270.40 L327.15,270.46 L327.20,270.50 L327.26,270.53 L327.31,270.56 L327.36,270.57 L327.42,270.58 L327.42,270.60 Z" fill="#000"/>
<line x1="327.50" y1="235.50" x2="327.50" y2="270.60" stroke="#ff2020" stroke-width="0.9" opacity="0.42"/>
<rect x="308.50" y="235.50" width="34.00" height="35.10" fill="none" stroke="#b4b4ff" stroke-width="0.9"/>
<line x1="308.50" y1="270.60" x2="342.50" y2="270.60" stroke="#8c8cff" stroke-width="1.3"/>
<line x1="308.50" y1="270.60" x2="309.10" y2="270.60" stroke="#4444ec" stroke-width="1.3"/>
<line x1="312.37" y1="270.60" x2="314.77" y2="270.60" stroke="#4444ec" stroke-width="1.3"/>
<line x1="318.03" y1="270.60" x2="320.43" y2="270.60" stroke="#4444ec" stroke-width="1.3"/>
<line x1="323.70" y1="270.60" x2="326.10" y2="270.60" stroke="#4444ec" stroke-width="1.3"/>
<line x1="329.37" y1="270.60" x2="331.77" y2="270.60" stroke="#4444ec" stroke-width="1.3"/>
<line x1="335.03" y1="270.60" x2="337.43" y2="270.60" stroke="#4444ec" stroke-width="1.3"/>
<line x1="340.70" y1="270.60" x2="342.50" y2="270.60" stroke="#4444ec" stroke-width="1.3"/>
<line x1="311.90" y1="235.50" x2="323.80" y2="235.50" stroke="#8080c0" stroke-width="0.5" opacity="0.5"/>
<line x1="308.50" y1="235.50" x2="309.50" y2="235.50" stroke="#4848f2" stroke-width="0.6"/>
<line x1="308.50" y1="244.28" x2="309.50" y2="244.28" stroke="#4848f2" stroke-width="0.6"/>
<line x1="308.50" y1="253.05" x2="309.50" y2="253.05" stroke="#4848f2" stroke-width="0.6"/>
<line x1="308.50" y1="261.83" x2="309.50" y2="261.83" stroke="#4848f2" stroke-width="0.6"/>
<line x1="308.50" y1="270.60" x2="309.50" y2="270.60" stroke="#4848f2" stroke-width="0.6"/>
<line x1="308.50" y1="270.60" x2="308.50" y2="271.60" stroke="#4848f2" stroke-width="0.5"/>
<line x1="307.60" y1="274.00" x2="309.40" y2="272.80" stroke="#5c5cf6" stroke-width="0.9"/>
<line x1="314.17" y1="270.60" x2="314.17" y2="271.60" stroke="#4848f2" stroke-width="0.5"/>
<line x1="313.27" y1="274.00" x2="315.07" y2="272.80" stroke="#5c5cf6" stroke-width="0.9"/>
<line x1="319.83" y1="270.60" x2="319.83" y2="271.60" stroke="#4848f2" stroke-width="0.5"/>
<line x1="318.93" y1="274.00" x2="320.73" y2="272.80" stroke="#5c5cf6" stroke-width="0.9"/>
<line x1="325.50" y1="270.60" x2="325.50" y2="271.60" stroke="#4848f2" stroke-width="0.5"/>
<line x1="324.60" y1="274.00" x2="326.40" y2="272.80" stroke="#5c5cf6" stroke-width="0.9"/>
<line x1="331.17" y1="270.60" x2="331.17" y2="271.60" stroke="#4848f2" stroke-width="0.5"/>
<line x1="330.27" y1="274.00" x2="332.07" y2="272.80" stroke="#5c5cf6" stroke-width="0.9"/>
<line x1="336.83" y1="270.60" x2="336.83" y2="271.60" stroke="#4848f2" stroke-width="0.5"/>
<line x1="335.93" y1="274.00" x2="337.73" y2="272.80" stroke="#5c5cf6" stroke-width="0.9"/>
<line x1="342.50" y1="270.60" x2="342.50" y2="271.60" stroke="#4848f2" stroke-width="0.5"/>
<line x1="341.60" y1="274.00" x2="343.40" y2="272.80" stroke="#5c5cf6" stroke-width="0.9"/>
<text x="309.40" y="238.30" font-size="2.40" text-anchor="start" font-weight="bold" fill="#ee2a36" text-rendering="geometricPrecision">13.5</text>
<text x="309.40" y="240.80" font-size="2.40" text-anchor="start" font-weight="bold" fill="#ee2a36" text-rendering="geometricPrecision">84.0%</text>
<text x="341.70" y="238.30" font-size="2.40" text-anchor="end" font-weight="bold" fill="#ee2a36" text-rendering="geometricPrecision">17.0</text>
<text x="341.70" y="240.80" font-size="2.40" text-anchor="end" font-weight="bold" fill="#ee2a36" text-rendering="geometricPrecision">8.2%</text>
<text x="335.03" y="248.20" font-size="5.1" text-anchor="middle" font-weight="bold" fill="#2a3ec8" stroke="#2a3ec8" stroke-width="0.15">(+)</text>
<rect x="273.00" y="202.50" width="3.00" height="68.00" fill="#c8c8ff" stroke="none" stroke-width="1" opacity="0.7"/>
<rect x="307.00" y="202.50" width="3.00" height="68.00" fill="#c8c8ff" stroke="none" stroke-width="1" opacity="0.7"/>
<line x1="240.50" y1="235.60" x2="342.50" y2="235.60" stroke="#6262f4" stroke-width="1.5" stroke-dasharray="3.2 1.0"/>
<text x="289.60" y="188.90" font-size="5.6" text-anchor="middle" font-weight="bold" fill="#111" stroke="#111" stroke-width="0.22">M10</text>
<text x="256.53" y="198.60" font-size="5.6" text-anchor="middle" font-weight="bold" fill="#111" stroke="#111" stroke-width="0.22">0</text>
<text x="290.60" y="198.60" font-size="5.6" text-anchor="middle" font-weight="bold" fill="#111" stroke="#111" stroke-width="0.22">12</text>
<text x="325.27" y="198.60" font-size="5.6" text-anchor="middle" font-weight="bold" fill="#111" stroke="#111" stroke-width="0.22">24 h</text>
<text x="14.30" y="236.00" font-size="6.6" text-anchor="middle" font-weight="bold" fill="#111" stroke="#111" stroke-width="0.28" textLength="16.40" lengthAdjust="spacingAndGlyphs" transform="rotate(-90 14.30 236.00)">Count</text>
<text x="352.60" y="219.00" font-size="6.2" text-anchor="middle" font-weight="bold" fill="#111" stroke="#111" stroke-width="0.2" textLength="14.60" lengthAdjust="spacingAndGlyphs" transform="rotate(-90 352.60 219.00)">MEAS</text>
<text x="352.60" y="254.60" font-size="6.2" text-anchor="middle" font-weight="bold" fill="#111" stroke="#111" stroke-width="0.2" textLength="26.20" lengthAdjust="spacingAndGlyphs" transform="rotate(-90 352.60 254.60)">NAC/MEAS</text>
<text x="183.30" y="282.20" font-size="7.1" text-anchor="middle" font-weight="bold" fill="#111" stroke="#111" stroke-width="0.28" textLength="53.20" lengthAdjust="spacingAndGlyphs">Caspase 3 intensity</text>
<text x="47.40" y="352.00" font-size="5.6" text-anchor="middle" font-weight="bold" fill="#111">d</text>
<text x="54.40" y="352.00" font-size="5.4" text-anchor="middle" font-weight="bold" fill="#111">d</text>
<rect x="67.60" y="323.42" width="4.80" height="30.08" fill="#000" stroke="#000" stroke-width="0.3"/>
<line x1="70.00" y1="323.42" x2="70.00" y2="322.04" stroke="#000" stroke-width="0.6"/>
<line x1="68.90" y1="322.04" x2="71.10" y2="322.04" stroke="#000" stroke-width="0.6"/>
<text x="70.00" y="320.54" font-size="5.6" text-anchor="middle" font-weight="bold" fill="#111">b</text>
<rect x="74.70" y="348.66" width="4.60" height="4.84" fill="#d6d6d6" stroke="#111" stroke-width="0.6"/>
<line x1="77.00" y1="348.66" x2="77.00" y2="347.67" stroke="#000" stroke-width="0.6"/>
<line x1="75.90" y1="347.67" x2="78.10" y2="347.67" stroke="#000" stroke-width="0.6"/>
<text x="77.00" y="346.17" font-size="5.4" text-anchor="middle" font-weight="bold" fill="#111">d</text>
<rect x="90.20" y="314.56" width="4.80" height="38.94" fill="#000" stroke="#000" stroke-width="0.3"/>
<line x1="92.60" y1="314.56" x2="92.60" y2="312.91" stroke="#000" stroke-width="0.6"/>
<line x1="91.50" y1="312.91" x2="93.70" y2="312.91" stroke="#000" stroke-width="0.6"/>
<text x="92.60" y="311.41" font-size="5.6" text-anchor="middle" font-weight="bold" fill="#111">a</text>
<rect x="97.30" y="342.67" width="4.60" height="10.83" fill="#d6d6d6" stroke="#111" stroke-width="0.6"/>
<line x1="99.60" y1="342.67" x2="99.60" y2="341.29" stroke="#000" stroke-width="0.6"/>
<line x1="98.50" y1="341.29" x2="100.70" y2="341.29" stroke="#000" stroke-width="0.6"/>
<text x="99.60" y="339.79" font-size="5.4" text-anchor="middle" font-weight="bold" fill="#111">c</text>
<rect x="27.50" y="287.50" width="91.00" height="66.00" fill="none" stroke="#7a7a7a" stroke-width="0.9"/>
<line x1="27.50" y1="287.50" x2="27.50" y2="353.50" stroke="#555" stroke-width="0.9"/>
<line x1="27.50" y1="353.50" x2="118.50" y2="353.50" stroke="#555" stroke-width="0.9"/>
<line x1="25.90" y1="353.50" x2="27.50" y2="353.50" stroke="#555" stroke-width="0.7"/>
<text x="24.10" y="355.30" font-size="5.0" text-anchor="end" font-weight="bold" fill="#222" stroke="#222" stroke-width="0.18">0</text>
<line x1="25.90" y1="342.50" x2="27.50" y2="342.50" stroke="#555" stroke-width="0.7"/>
<text x="24.10" y="344.30" font-size="5.0" text-anchor="end" font-weight="bold" fill="#222" stroke="#222" stroke-width="0.18">20</text>
<line x1="25.90" y1="331.50" x2="27.50" y2="331.50" stroke="#555" stroke-width="0.7"/>
<text x="24.10" y="333.30" font-size="5.0" text-anchor="end" font-weight="bold" fill="#222" stroke="#222" stroke-width="0.18">40</text>
<line x1="25.90" y1="320.50" x2="27.50" y2="320.50" stroke="#555" stroke-width="0.7"/>
<text x="24.10" y="322.30" font-size="5.0" text-anchor="end" font-weight="bold" fill="#222" stroke="#222" stroke-width="0.18">60</text>
<line x1="25.90" y1="309.50" x2="27.50" y2="309.50" stroke="#555" stroke-width="0.7"/>
<text x="24.10" y="311.30" font-size="5.0" text-anchor="end" font-weight="bold" fill="#222" stroke="#222" stroke-width="0.18">80</text>
<line x1="25.90" y1="298.50" x2="27.50" y2="298.50" stroke="#555" stroke-width="0.7"/>
<text x="24.10" y="300.30" font-size="5.0" text-anchor="end" font-weight="bold" fill="#222" stroke="#222" stroke-width="0.18">100</text>
<line x1="50.30" y1="353.50" x2="50.30" y2="355.10" stroke="#555" stroke-width="0.7"/>
<text x="50.30" y="361.10" font-size="4.9" text-anchor="middle" font-weight="bold" fill="#222" stroke="#222" stroke-width="0.15">0</text>
<line x1="72.90" y1="353.50" x2="72.90" y2="355.10" stroke="#555" stroke-width="0.7"/>
<text x="72.90" y="361.10" font-size="4.9" text-anchor="middle" font-weight="bold" fill="#222" stroke="#222" stroke-width="0.15">12</text>
<line x1="95.50" y1="353.50" x2="95.50" y2="355.10" stroke="#555" stroke-width="0.7"/>
<text x="95.50" y="361.10" font-size="4.9" text-anchor="middle" font-weight="bold" fill="#222" stroke="#222" stroke-width="0.15">24</text>
<text x="72.30" y="370.30" font-size="7.4" text-anchor="middle" font-weight="bold" fill="#111" stroke="#111" stroke-width="0.28" textLength="23.20" lengthAdjust="spacingAndGlyphs">Time (h)</text>
<rect x="32.50" y="292.90" width="8.40" height="2.20" fill="#000" stroke="none" stroke-width="1"/>
<text x="42.90" y="295.30" font-size="4.1" text-anchor="start" font-weight="bold" fill="#111" stroke="#111" stroke-width="0.12" textLength="10.00" lengthAdjust="spacingAndGlyphs">MEAS</text>
<rect x="32.80" y="296.90" width="8.10" height="2.50" fill="#d6d6d6" stroke="#222" stroke-width="0.5" rx="0.8"/>
<text x="42.90" y="299.80" font-size="4.1" text-anchor="start" font-weight="bold" fill="#111" stroke="#111" stroke-width="0.12" textLength="19.60" lengthAdjust="spacingAndGlyphs">NAC/MEAS</text>
<text x="12.80" y="320.30" font-size="7.0" text-anchor="middle" font-weight="bold" fill="#111" stroke="#111" stroke-width="0.28" textLength="51.50" lengthAdjust="spacingAndGlyphs" transform="rotate(-90 12.80 320.30)">Caspase 3 (+) (%)</text>
<text x="160.40" y="352.00" font-size="5.6" text-anchor="middle" font-weight="bold" fill="#111">d</text>
<text x="167.40" y="352.00" font-size="5.4" text-anchor="middle" font-weight="bold" fill="#111">d</text>
<rect x="180.60" y="324.62" width="4.80" height="28.88" fill="#000" stroke="#000" stroke-width="0.3"/>
<line x1="183.00" y1="324.62" x2="183.00" y2="322.98" stroke="#000" stroke-width="0.6"/>
<line x1="181.90" y1="322.98" x2="184.10" y2="322.98" stroke="#000" stroke-width="0.6"/>
<text x="183.00" y="321.48" font-size="5.6" text-anchor="middle" font-weight="bold" fill="#111">b</text>
<rect x="187.70" y="346.62" width="4.60" height="6.88" fill="#d6d6d6" stroke="#111" stroke-width="0.6"/>
<line x1="190.00" y1="346.62" x2="190.00" y2="345.80" stroke="#000" stroke-width="0.6"/>
<line x1="188.90" y1="345.80" x2="191.10" y2="345.80" stroke="#000" stroke-width="0.6"/>
<text x="190.00" y="344.30" font-size="5.4" text-anchor="middle" font-weight="bold" fill="#111">c</text>
<rect x="203.20" y="314.45" width="4.80" height="39.05" fill="#000" stroke="#000" stroke-width="0.3"/>
<line x1="205.60" y1="314.45" x2="205.60" y2="313.07" stroke="#000" stroke-width="0.6"/>
<line x1="204.50" y1="313.07" x2="206.70" y2="313.07" stroke="#000" stroke-width="0.6"/>
<text x="205.60" y="311.57" font-size="5.6" text-anchor="middle" font-weight="bold" fill="#111">a</text>
<rect x="210.30" y="347.45" width="4.60" height="6.05" fill="#d6d6d6" stroke="#111" stroke-width="0.6"/>
<line x1="212.60" y1="347.45" x2="212.60" y2="346.62" stroke="#000" stroke-width="0.6"/>
<line x1="211.50" y1="346.62" x2="213.70" y2="346.62" stroke="#000" stroke-width="0.6"/>
<text x="212.60" y="345.12" font-size="5.4" text-anchor="middle" font-weight="bold" fill="#111">d</text>
<text x="212.60" y="341.43" font-size="5.4" text-anchor="middle" font-weight="bold" fill="#111">c</text>
<rect x="140.50" y="287.50" width="91.00" height="66.00" fill="none" stroke="#7a7a7a" stroke-width="0.9"/>
<line x1="140.50" y1="287.50" x2="140.50" y2="353.50" stroke="#555" stroke-width="0.9"/>
<line x1="140.50" y1="353.50" x2="231.50" y2="353.50" stroke="#555" stroke-width="0.9"/>
<line x1="138.90" y1="353.50" x2="140.50" y2="353.50" stroke="#555" stroke-width="0.7"/>
<text x="137.10" y="355.30" font-size="5.0" text-anchor="end" font-weight="bold" fill="#222" stroke="#222" stroke-width="0.18">0</text>
<line x1="138.90" y1="342.50" x2="140.50" y2="342.50" stroke="#555" stroke-width="0.7"/>
<text x="137.10" y="344.30" font-size="5.0" text-anchor="end" font-weight="bold" fill="#222" stroke="#222" stroke-width="0.18">20</text>
<line x1="138.90" y1="331.50" x2="140.50" y2="331.50" stroke="#555" stroke-width="0.7"/>
<text x="137.10" y="333.30" font-size="5.0" text-anchor="end" font-weight="bold" fill="#222" stroke="#222" stroke-width="0.18">40</text>
<line x1="138.90" y1="320.50" x2="140.50" y2="320.50" stroke="#555" stroke-width="0.7"/>
<text x="137.10" y="322.30" font-size="5.0" text-anchor="end" font-weight="bold" fill="#222" stroke="#222" stroke-width="0.18">60</text>
<line x1="138.90" y1="309.50" x2="140.50" y2="309.50" stroke="#555" stroke-width="0.7"/>
<text x="137.10" y="311.30" font-size="5.0" text-anchor="end" font-weight="bold" fill="#222" stroke="#222" stroke-width="0.18">80</text>
<line x1="138.90" y1="298.50" x2="140.50" y2="298.50" stroke="#555" stroke-width="0.7"/>
<text x="137.10" y="300.30" font-size="5.0" text-anchor="end" font-weight="bold" fill="#222" stroke="#222" stroke-width="0.18">100</text>
<line x1="163.30" y1="353.50" x2="163.30" y2="355.10" stroke="#555" stroke-width="0.7"/>
<text x="163.30" y="361.10" font-size="4.9" text-anchor="middle" font-weight="bold" fill="#222" stroke="#222" stroke-width="0.15">0</text>
<line x1="185.90" y1="353.50" x2="185.90" y2="355.10" stroke="#555" stroke-width="0.7"/>
<text x="185.90" y="361.10" font-size="4.9" text-anchor="middle" font-weight="bold" fill="#222" stroke="#222" stroke-width="0.15">12</text>
<line x1="208.50" y1="353.50" x2="208.50" y2="355.10" stroke="#555" stroke-width="0.7"/>
<text x="208.50" y="361.10" font-size="4.9" text-anchor="middle" font-weight="bold" fill="#222" stroke="#222" stroke-width="0.15">24</text>
<text x="185.30" y="370.30" font-size="7.4" text-anchor="middle" font-weight="bold" fill="#111" stroke="#111" stroke-width="0.28" textLength="23.20" lengthAdjust="spacingAndGlyphs">Time (h)</text>
<rect x="145.50" y="292.90" width="8.40" height="2.20" fill="#000" stroke="none" stroke-width="1"/>
<text x="155.90" y="295.30" font-size="4.1" text-anchor="start" font-weight="bold" fill="#111" stroke="#111" stroke-width="0.12" textLength="10.00" lengthAdjust="spacingAndGlyphs">MEAS</text>
<rect x="145.80" y="296.90" width="8.10" height="2.50" fill="#d6d6d6" stroke="#222" stroke-width="0.5" rx="0.8"/>
<text x="155.90" y="299.80" font-size="4.1" text-anchor="start" font-weight="bold" fill="#111" stroke="#111" stroke-width="0.12" textLength="19.60" lengthAdjust="spacingAndGlyphs">NAC/MEAS</text>
<text x="126.10" y="320.30" font-size="7.0" text-anchor="middle" font-weight="bold" fill="#111" stroke="#111" stroke-width="0.28" textLength="51.50" lengthAdjust="spacingAndGlyphs" transform="rotate(-90 126.10 320.30)">Caspase 3 (+) (%)</text>
<text x="274.40" y="352.00" font-size="5.6" text-anchor="middle" font-weight="bold" fill="#111">c</text>
<text x="281.40" y="352.00" font-size="5.4" text-anchor="middle" font-weight="bold" fill="#111">c</text>
<rect x="294.60" y="348.27" width="4.80" height="5.23" fill="#000" stroke="#000" stroke-width="0.3"/>
<line x1="297.00" y1="348.27" x2="297.00" y2="347.45" stroke="#000" stroke-width="0.6"/>
<line x1="295.90" y1="347.45" x2="298.10" y2="347.45" stroke="#000" stroke-width="0.6"/>
<text x="297.00" y="345.95" font-size="5.6" text-anchor="middle" font-weight="bold" fill="#111">b</text>
<rect x="301.70" y="352.95" width="4.60" height="0.55" fill="#d6d6d6" stroke="#111" stroke-width="0.6"/>
<line x1="304.00" y1="352.95" x2="304.00" y2="352.68" stroke="#000" stroke-width="0.6"/>
<line x1="302.90" y1="352.68" x2="305.10" y2="352.68" stroke="#000" stroke-width="0.6"/>
<text x="304.00" y="351.18" font-size="5.4" text-anchor="middle" font-weight="bold" fill="#111">c</text>
<rect x="317.20" y="344.43" width="4.80" height="9.07" fill="#000" stroke="#000" stroke-width="0.3"/>
<line x1="319.60" y1="344.43" x2="319.60" y2="343.32" stroke="#000" stroke-width="0.6"/>
<line x1="318.50" y1="343.32" x2="320.70" y2="343.32" stroke="#000" stroke-width="0.6"/>
<text x="319.60" y="341.82" font-size="5.6" text-anchor="middle" font-weight="bold" fill="#111">a</text>
<rect x="324.30" y="352.40" width="4.60" height="1.10" fill="#d6d6d6" stroke="#111" stroke-width="0.6"/>
<line x1="326.60" y1="352.40" x2="326.60" y2="351.96" stroke="#000" stroke-width="0.6"/>
<line x1="325.50" y1="351.96" x2="327.70" y2="351.96" stroke="#000" stroke-width="0.6"/>
<text x="326.60" y="350.46" font-size="5.4" text-anchor="middle" font-weight="bold" fill="#111">c</text>
<rect x="254.50" y="287.50" width="91.00" height="66.00" fill="none" stroke="#7a7a7a" stroke-width="0.9"/>
<line x1="254.50" y1="287.50" x2="254.50" y2="353.50" stroke="#555" stroke-width="0.9"/>
<line x1="254.50" y1="353.50" x2="345.50" y2="353.50" stroke="#555" stroke-width="0.9"/>
<line x1="252.90" y1="353.50" x2="254.50" y2="353.50" stroke="#555" stroke-width="0.7"/>
<text x="251.10" y="355.30" font-size="5.0" text-anchor="end" font-weight="bold" fill="#222" stroke="#222" stroke-width="0.18">0</text>
<line x1="252.90" y1="342.50" x2="254.50" y2="342.50" stroke="#555" stroke-width="0.7"/>
<text x="251.10" y="344.30" font-size="5.0" text-anchor="end" font-weight="bold" fill="#222" stroke="#222" stroke-width="0.18">20</text>
<line x1="252.90" y1="331.50" x2="254.50" y2="331.50" stroke="#555" stroke-width="0.7"/>
<text x="251.10" y="333.30" font-size="5.0" text-anchor="end" font-weight="bold" fill="#222" stroke="#222" stroke-width="0.18">40</text>
<line x1="252.90" y1="320.50" x2="254.50" y2="320.50" stroke="#555" stroke-width="0.7"/>
<text x="251.10" y="322.30" font-size="5.0" text-anchor="end" font-weight="bold" fill="#222" stroke="#222" stroke-width="0.18">60</text>
<line x1="252.90" y1="309.50" x2="254.50" y2="309.50" stroke="#555" stroke-width="0.7"/>
<text x="251.10" y="311.30" font-size="5.0" text-anchor="end" font-weight="bold" fill="#222" stroke="#222" stroke-width="0.18">80</text>
<line x1="252.90" y1="298.50" x2="254.50" y2="298.50" stroke="#555" stroke-width="0.7"/>
<text x="251.10" y="300.30" font-size="5.0" text-anchor="end" font-weight="bold" fill="#222" stroke="#222" stroke-width="0.18">100</text>
<line x1="277.30" y1="353.50" x2="277.30" y2="355.10" stroke="#555" stroke-width="0.7"/>
<text x="277.30" y="361.10" font-size="4.9" text-anchor="middle" font-weight="bold" fill="#222" stroke="#222" stroke-width="0.15">0</text>
<line x1="299.90" y1="353.50" x2="299.90" y2="355.10" stroke="#555" stroke-width="0.7"/>
<text x="299.90" y="361.10" font-size="4.9" text-anchor="middle" font-weight="bold" fill="#222" stroke="#222" stroke-width="0.15">12</text>
<line x1="322.50" y1="353.50" x2="322.50" y2="355.10" stroke="#555" stroke-width="0.7"/>
<text x="322.50" y="361.10" font-size="4.9" text-anchor="middle" font-weight="bold" fill="#222" stroke="#222" stroke-width="0.15">24</text>
<text x="299.30" y="370.30" font-size="7.4" text-anchor="middle" font-weight="bold" fill="#111" stroke="#111" stroke-width="0.28" textLength="23.20" lengthAdjust="spacingAndGlyphs">Time (h)</text>
<rect x="259.50" y="292.90" width="8.40" height="2.20" fill="#000" stroke="none" stroke-width="1"/>
<text x="269.90" y="295.30" font-size="4.1" text-anchor="start" font-weight="bold" fill="#111" stroke="#111" stroke-width="0.12" textLength="10.00" lengthAdjust="spacingAndGlyphs">MEAS</text>
<rect x="259.80" y="296.90" width="8.10" height="2.50" fill="#d6d6d6" stroke="#222" stroke-width="0.5" rx="0.8"/>
<text x="269.90" y="299.80" font-size="4.1" text-anchor="start" font-weight="bold" fill="#111" stroke="#111" stroke-width="0.12" textLength="19.60" lengthAdjust="spacingAndGlyphs">NAC/MEAS</text>
<text x="239.70" y="320.30" font-size="7.0" text-anchor="middle" font-weight="bold" fill="#111" stroke="#111" stroke-width="0.28" textLength="51.50" lengthAdjust="spacingAndGlyphs" transform="rotate(-90 239.70 320.30)">Caspase 3 (+) (%)</text>
<text x="66.50" y="391.40" font-size="9.3" text-anchor="middle" font-weight="bold" fill="#000" stroke="#000" stroke-width="0.3" textLength="5.80" lengthAdjust="spacingAndGlyphs">C</text>
<rect x="76.50" y="390.50" width="41.00" height="40.90" fill="#fff" stroke="none" stroke-width="1"/>
<path d="M83.12,431.40 L83.12,431.28 L83.35,431.26 L83.57,431.25 L83.80,431.24 L84.02,431.22 L84.25,431.20 L84.48,431.18 L84.70,431.16 L84.93,431.14 L85.15,431.12 L85.38,431.09 L85.61,431.06 L85.83,431.03 L86.06,430.99 L86.28,430.95 L86.51,430.91 L86.74,430.87 L86.96,430.82 L87.19,430.76 L87.41,430.70 L87.64,430.64 L87.87,430.57 L88.09,430.49 L88.32,430.41 L88.54,430.32 L88.77,430.23 L89.00,430.12 L89.22,430.01 L89.45,429.89 L89.67,429.75 L89.90,429.61 L90.13,429.46 L90.35,429.29 L90.58,429.11 L90.80,428.91 L91.03,428.70 L91.26,428.47 L91.48,428.23 L91.71,427.97 L91.93,427.68 L92.16,427.38 L92.39,427.05 L92.61,426.70 L92.84,426.33 L93.06,425.93 L93.29,425.50 L93.52,425.04 L93.74,424.55 L93.97,424.03 L94.19,423.47 L94.42,422.89 L94.65,422.26 L94.87,421.60 L95.10,420.90 L95.32,420.16 L95.55,419.38 L95.78,418.56 L96.00,417.70 L96.23,416.81 L96.45,415.88 L96.68,414.91 L96.91,413.92 L97.13,412.91 L97.36,411.88 L97.58,410.85 L97.81,409.85 L98.04,408.92 L98.20,408.40 L98.26,408.46 L98.49,409.69 L98.71,412.25 L98.94,415.67 L99.17,419.37 L99.39,422.83 L99.62,425.71 L99.84,427.88 L100.07,429.37 L100.30,430.31 L100.52,430.86 L100.75,431.15 L100.97,431.29 L101.20,431.36 L101.20,431.40 Z" fill="#000"/>
<line x1="100.50" y1="390.50" x2="100.50" y2="431.40" stroke="#ff2020" stroke-width="0.9" opacity="0.42"/>
<rect x="76.50" y="390.50" width="41.00" height="40.90" fill="none" stroke="#b4b4ff" stroke-width="0.9"/>
<line x1="76.50" y1="431.40" x2="117.50" y2="431.40" stroke="#8c8cff" stroke-width="1.3"/>
<line x1="76.50" y1="431.40" x2="77.10" y2="431.40" stroke="#4444ec" stroke-width="1.3"/>
<line x1="81.53" y1="431.40" x2="83.93" y2="431.40" stroke="#4444ec" stroke-width="1.3"/>
<line x1="88.37" y1="431.40" x2="90.77" y2="431.40" stroke="#4444ec" stroke-width="1.3"/>
<line x1="95.20" y1="431.40" x2="97.60" y2="431.40" stroke="#4444ec" stroke-width="1.3"/>
<line x1="102.03" y1="431.40" x2="104.43" y2="431.40" stroke="#4444ec" stroke-width="1.3"/>
<line x1="108.87" y1="431.40" x2="111.27" y2="431.40" stroke="#4444ec" stroke-width="1.3"/>
<line x1="115.70" y1="431.40" x2="117.50" y2="431.40" stroke="#4444ec" stroke-width="1.3"/>
<line x1="80.60" y1="390.50" x2="94.95" y2="390.50" stroke="#8080c0" stroke-width="0.5" opacity="0.5"/>
<line x1="76.50" y1="390.50" x2="77.50" y2="390.50" stroke="#4848f2" stroke-width="0.6"/>
<rect x="72.70" y="389.30" width="1.30" height="2.40" fill="#5c5cf6" stroke="none" stroke-width="1" opacity="0.85"/>
<line x1="76.50" y1="400.73" x2="77.50" y2="400.73" stroke="#4848f2" stroke-width="0.6"/>
<rect x="72.70" y="399.53" width="1.30" height="2.40" fill="#5c5cf6" stroke="none" stroke-width="1" opacity="0.85"/>
<line x1="76.50" y1="410.95" x2="77.50" y2="410.95" stroke="#4848f2" stroke-width="0.6"/>
<rect x="72.70" y="409.75" width="1.30" height="2.40" fill="#5c5cf6" stroke="none" stroke-width="1" opacity="0.85"/>
<line x1="76.50" y1="421.17" x2="77.50" y2="421.17" stroke="#4848f2" stroke-width="0.6"/>
<rect x="72.70" y="419.97" width="1.30" height="2.40" fill="#5c5cf6" stroke="none" stroke-width="1" opacity="0.85"/>
<line x1="76.50" y1="431.40" x2="77.50" y2="431.40" stroke="#4848f2" stroke-width="0.6"/>
<rect x="72.70" y="430.20" width="1.30" height="2.40" fill="#5c5cf6" stroke="none" stroke-width="1" opacity="0.85"/>
<line x1="76.50" y1="431.40" x2="76.50" y2="432.40" stroke="#4848f2" stroke-width="0.5"/>
<line x1="75.60" y1="434.80" x2="77.40" y2="433.60" stroke="#5c5cf6" stroke-width="0.9"/>
<line x1="83.33" y1="431.40" x2="83.33" y2="432.40" stroke="#4848f2" stroke-width="0.5"/>
<line x1="82.43" y1="434.80" x2="84.23" y2="433.60" stroke="#5c5cf6" stroke-width="0.9"/>
<line x1="90.17" y1="431.40" x2="90.17" y2="432.40" stroke="#4848f2" stroke-width="0.5"/>
<line x1="89.27" y1="434.80" x2="91.07" y2="433.60" stroke="#5c5cf6" stroke-width="0.9"/>
<line x1="97.00" y1="431.40" x2="97.00" y2="432.40" stroke="#4848f2" stroke-width="0.5"/>
<line x1="96.10" y1="434.80" x2="97.90" y2="433.60" stroke="#5c5cf6" stroke-width="0.9"/>
<line x1="103.83" y1="431.40" x2="103.83" y2="432.40" stroke="#4848f2" stroke-width="0.5"/>
<line x1="102.93" y1="434.80" x2="104.73" y2="433.60" stroke="#5c5cf6" stroke-width="0.9"/>
<line x1="110.67" y1="431.40" x2="110.67" y2="432.40" stroke="#4848f2" stroke-width="0.5"/>
<line x1="109.77" y1="434.80" x2="111.57" y2="433.60" stroke="#5c5cf6" stroke-width="0.9"/>
<line x1="117.50" y1="431.40" x2="117.50" y2="432.40" stroke="#4848f2" stroke-width="0.5"/>
<line x1="116.60" y1="434.80" x2="118.40" y2="433.60" stroke="#5c5cf6" stroke-width="0.9"/>
<text x="77.40" y="393.30" font-size="3.00" text-anchor="start" font-weight="bold" fill="#ee2a36" text-rendering="geometricPrecision">13.5</text>
<text x="77.40" y="395.80" font-size="3.00" text-anchor="start" font-weight="bold" fill="#ee2a36" text-rendering="geometricPrecision">84.0%</text>
<text x="116.70" y="393.30" font-size="3.00" text-anchor="end" font-weight="bold" fill="#ee2a36" text-rendering="geometricPrecision">17.0</text>
<text x="116.70" y="395.80" font-size="3.00" text-anchor="end" font-weight="bold" fill="#ee2a36" text-rendering="geometricPrecision">8.2%</text>
<text x="107.50" y="405.00" font-size="5.4" text-anchor="middle" font-weight="bold" fill="#2a3ec8" stroke="#2a3ec8" stroke-width="0.15">(+)</text>
<rect x="118.50" y="390.50" width="42.00" height="40.90" fill="#fff" stroke="none" stroke-width="1"/>
<path d="M136.80,431.40 L136.80,431.31 L136.92,431.30 L137.05,431.28 L137.17,431.26 L137.29,431.23 L137.41,431.21 L137.54,431.17 L137.66,431.14 L137.78,431.09 L137.90,431.05 L138.03,430.99 L138.15,430.92 L138.27,430.85 L138.39,430.77 L138.52,430.67 L138.64,430.56 L138.76,430.44 L138.88,430.30 L139.01,430.15 L139.13,429.98 L139.25,429.78 L139.37,429.56 L139.50,429.32 L139.62,429.05 L139.74,428.75 L139.86,428.42 L139.99,428.05 L140.11,427.65 L140.23,427.20 L140.35,426.72 L140.48,426.20 L140.60,425.63 L140.72,425.01 L140.84,424.35 L140.97,423.63 L141.09,422.87 L141.21,422.06 L141.33,421.20 L141.46,420.30 L141.58,419.35 L141.70,418.37 L141.82,417.35 L141.95,416.31 L142.07,415.25 L142.19,414.18 L142.31,413.12 L142.44,412.08 L142.56,411.08 L142.68,410.15 L142.80,409.30 L142.93,408.60 L143.05,408.10 L143.10,408.00 L143.17,408.06 L143.29,408.44 L143.42,409.16 L143.54,410.18 L143.66,411.46 L143.78,412.95 L143.91,414.59 L144.03,416.31 L144.15,418.07 L144.27,419.80 L144.40,421.46 L144.52,423.01 L144.64,424.42 L144.76,425.69 L144.89,426.80 L145.01,427.74 L145.13,428.54 L145.25,429.20 L145.38,429.73 L145.50,430.15 L145.62,430.48 L145.74,430.74 L145.87,430.93 L145.99,431.07 L146.11,431.17 L146.23,431.24 L146.36,431.29 L146.48,431.33 L146.60,431.35 L146.60,431.40 Z" fill="#000"/>
<line x1="142.50" y1="390.50" x2="142.50" y2="431.40" stroke="#ff2020" stroke-width="0.9" opacity="0.42"/>
<rect x="118.50" y="390.50" width="42.00" height="40.90" fill="none" stroke="#b4b4ff" stroke-width="0.9"/>
<line x1="118.50" y1="431.40" x2="160.50" y2="431.40" stroke="#8c8cff" stroke-width="1.3"/>
<line x1="118.50" y1="431.40" x2="119.10" y2="431.40" stroke="#4444ec" stroke-width="1.3"/>
<line x1="123.70" y1="431.40" x2="126.10" y2="431.40" stroke="#4444ec" stroke-width="1.3"/>
<line x1="130.70" y1="431.40" x2="133.10" y2="431.40" stroke="#4444ec" stroke-width="1.3"/>
<line x1="137.70" y1="431.40" x2="140.10" y2="431.40" stroke="#4444ec" stroke-width="1.3"/>
<line x1="144.70" y1="431.40" x2="147.10" y2="431.40" stroke="#4444ec" stroke-width="1.3"/>
<line x1="151.70" y1="431.40" x2="154.10" y2="431.40" stroke="#4444ec" stroke-width="1.3"/>
<line x1="158.70" y1="431.40" x2="160.50" y2="431.40" stroke="#4444ec" stroke-width="1.3"/>
<line x1="122.70" y1="390.50" x2="137.40" y2="390.50" stroke="#8080c0" stroke-width="0.5" opacity="0.5"/>
<line x1="118.50" y1="390.50" x2="119.50" y2="390.50" stroke="#4848f2" stroke-width="0.6"/>
<line x1="118.50" y1="400.73" x2="119.50" y2="400.73" stroke="#4848f2" stroke-width="0.6"/>
<line x1="118.50" y1="410.95" x2="119.50" y2="410.95" stroke="#4848f2" stroke-width="0.6"/>
<line x1="118.50" y1="421.17" x2="119.50" y2="421.17" stroke="#4848f2" stroke-width="0.6"/>
<line x1="118.50" y1="431.40" x2="119.50" y2="431.40" stroke="#4848f2" stroke-width="0.6"/>
<line x1="118.50" y1="431.40" x2="118.50" y2="432.40" stroke="#4848f2" stroke-width="0.5"/>
<line x1="117.60" y1="434.80" x2="119.40" y2="433.60" stroke="#5c5cf6" stroke-width="0.9"/>
<line x1="125.50" y1="431.40" x2="125.50" y2="432.40" stroke="#4848f2" stroke-width="0.5"/>
<line x1="124.60" y1="434.80" x2="126.40" y2="433.60" stroke="#5c5cf6" stroke-width="0.9"/>
<line x1="132.50" y1="431.40" x2="132.50" y2="432.40" stroke="#4848f2" stroke-width="0.5"/>
<line x1="131.60" y1="434.80" x2="133.40" y2="433.60" stroke="#5c5cf6" stroke-width="0.9"/>
<line x1="139.50" y1="431.40" x2="139.50" y2="432.40" stroke="#4848f2" stroke-width="0.5"/>
<line x1="138.60" y1="434.80" x2="140.40" y2="433.60" stroke="#5c5cf6" stroke-width="0.9"/>
<line x1="146.50" y1="431.40" x2="146.50" y2="432.40" stroke="#4848f2" stroke-width="0.5"/>
<line x1="145.60" y1="434.80" x2="147.40" y2="433.60" stroke="#5c5cf6" stroke-width="0.9"/>
<line x1="153.50" y1="431.40" x2="153.50" y2="432.40" stroke="#4848f2" stroke-width="0.5"/>
<line x1="152.60" y1="434.80" x2="154.40" y2="433.60" stroke="#5c5cf6" stroke-width="0.9"/>
<line x1="160.50" y1="431.40" x2="160.50" y2="432.40" stroke="#4848f2" stroke-width="0.5"/>
<line x1="159.60" y1="434.80" x2="161.40" y2="433.60" stroke="#5c5cf6" stroke-width="0.9"/>
<text x="119.40" y="393.30" font-size="3.00" text-anchor="start" font-weight="bold" fill="#ee2a36" text-rendering="geometricPrecision">13.5</text>
<text x="119.40" y="395.80" font-size="3.00" text-anchor="start" font-weight="bold" fill="#ee2a36" text-rendering="geometricPrecision">84.0%</text>
<text x="159.70" y="393.30" font-size="3.00" text-anchor="end" font-weight="bold" fill="#ee2a36" text-rendering="geometricPrecision">17.0</text>
<text x="159.70" y="395.80" font-size="3.00" text-anchor="end" font-weight="bold" fill="#ee2a36" text-rendering="geometricPrecision">8.2%</text>
<text x="151.30" y="405.00" font-size="5.4" text-anchor="middle" font-weight="bold" fill="#2a3ec8" stroke="#2a3ec8" stroke-width="0.15">(+)</text>
<rect x="161.50" y="390.50" width="41.00" height="40.90" fill="#fff" stroke="none" stroke-width="1"/>
<path d="M182.75,431.40 L182.75,431.35 L182.85,431.32 L182.95,431.29 L183.05,431.24 L183.15,431.17 L183.25,431.08 L183.35,430.96 L183.45,430.80 L183.55,430.60 L183.65,430.33 L183.75,430.00 L183.85,429.58 L183.95,429.07 L184.05,428.45 L184.15,427.70 L184.25,426.83 L184.35,425.81 L184.45,424.64 L184.55,423.33 L184.65,421.88 L184.75,420.29 L184.85,418.60 L184.95,416.82 L185.05,414.99 L185.15,413.14 L185.25,411.33 L185.35,409.59 L185.45,407.99 L185.55,406.56 L185.65,405.36 L185.75,404.42 L185.85,403.77 L185.95,403.44 L186.00,403.40 L186.05,403.42 L186.15,403.57 L186.25,403.88 L186.35,404.33 L186.45,404.93 L186.55,405.65 L186.65,406.49 L186.75,407.44 L186.85,408.48 L186.95,409.59 L187.05,410.77 L187.15,411.99 L187.25,413.24 L187.35,414.50 L187.45,415.76 L187.55,417.01 L187.65,418.23 L187.75,419.41 L187.85,420.55 L187.95,421.63 L188.05,422.66 L188.15,423.62 L188.25,424.51 L188.35,425.34 L188.45,426.09 L188.55,426.78 L188.65,427.40 L188.75,427.95 L188.85,428.45 L188.95,428.89 L189.05,429.27 L189.15,429.61 L189.25,429.90 L189.35,430.15 L189.45,430.36 L189.55,430.55 L189.65,430.70 L189.75,430.83 L189.85,430.94 L189.95,431.03 L190.05,431.10 L190.15,431.16 L190.25,431.21 L190.35,431.25 L190.45,431.28 L190.55,431.31 L190.65,431.33 L190.75,431.35 L190.75,431.40 Z" fill="#000"/>
<line x1="185.50" y1="390.50" x2="185.50" y2="431.40" stroke="#ff2020" stroke-width="0.9" opacity="0.42"/>
<rect x="161.50" y="390.50" width="41.00" height="40.90" fill="none" stroke="#b4b4ff" stroke-width="0.9"/>
<line x1="161.50" y1="431.40" x2="202.50" y2="431.40" stroke="#8c8cff" stroke-width="1.3"/>
<line x1="161.50" y1="431.40" x2="162.10" y2="431.40" stroke="#4444ec" stroke-width="1.3"/>
<line x1="166.53" y1="431.40" x2="168.93" y2="431.40" stroke="#4444ec" stroke-width="1.3"/>
<line x1="173.37" y1="431.40" x2="175.77" y2="431.40" stroke="#4444ec" stroke-width="1.3"/>
<line x1="180.20" y1="431.40" x2="182.60" y2="431.40" stroke="#4444ec" stroke-width="1.3"/>
<line x1="187.03" y1="431.40" x2="189.43" y2="431.40" stroke="#4444ec" stroke-width="1.3"/>
<line x1="193.87" y1="431.40" x2="196.27" y2="431.40" stroke="#4444ec" stroke-width="1.3"/>
<line x1="200.70" y1="431.40" x2="202.50" y2="431.40" stroke="#4444ec" stroke-width="1.3"/>
<line x1="165.60" y1="390.50" x2="179.95" y2="390.50" stroke="#8080c0" stroke-width="0.5" opacity="0.5"/>
<line x1="161.50" y1="390.50" x2="162.50" y2="390.50" stroke="#4848f2" stroke-width="0.6"/>
<line x1="161.50" y1="400.73" x2="162.50" y2="400.73" stroke="#4848f2" stroke-width="0.6"/>
<line x1="161.50" y1="410.95" x2="162.50" y2="410.95" stroke="#4848f2" stroke-width="0.6"/>
<line x1="161.50" y1="421.17" x2="162.50" y2="421.17" stroke="#4848f2" stroke-width="0.6"/>
<line x1="161.50" y1="431.40" x2="162.50" y2="431.40" stroke="#4848f2" stroke-width="0.6"/>
<line x1="161.50" y1="431.40" x2="161.50" y2="432.40" stroke="#4848f2" stroke-width="0.5"/>
<line x1="160.60" y1="434.80" x2="162.40" y2="433.60" stroke="#5c5cf6" stroke-width="0.9"/>
<line x1="168.33" y1="431.40" x2="168.33" y2="432.40" stroke="#4848f2" stroke-width="0.5"/>
<line x1="167.43" y1="434.80" x2="169.23" y2="433.60" stroke="#5c5cf6" stroke-width="0.9"/>
<line x1="175.17" y1="431.40" x2="175.17" y2="432.40" stroke="#4848f2" stroke-width="0.5"/>
<line x1="174.27" y1="434.80" x2="176.07" y2="433.60" stroke="#5c5cf6" stroke-width="0.9"/>
<line x1="182.00" y1="431.40" x2="182.00" y2="432.40" stroke="#4848f2" stroke-width="0.5"/>
<line x1="181.10" y1="434.80" x2="182.90" y2="433.60" stroke="#5c5cf6" stroke-width="0.9"/>
<line x1="188.83" y1="431.40" x2="188.83" y2="432.40" stroke="#4848f2" stroke-width="0.5"/>
<line x1="187.93" y1="434.80" x2="189.73" y2="433.60" stroke="#5c5cf6" stroke-width="0.9"/>
<line x1="195.67" y1="431.40" x2="195.67" y2="432.40" stroke="#4848f2" stroke-width="0.5"/>
<line x1="194.77" y1="434.80" x2="196.57" y2="433.60" stroke="#5c5cf6" stroke-width="0.9"/>
<line x1="202.50" y1="431.40" x2="202.50" y2="432.40" stroke="#4848f2" stroke-width="0.5"/>
<line x1="201.60" y1="434.80" x2="203.40" y2="433.60" stroke="#5c5cf6" stroke-width="0.9"/>
<text x="162.40" y="393.30" font-size="3.00" text-anchor="start" font-weight="bold" fill="#ee2a36" text-rendering="geometricPrecision">13.5</text>
<text x="162.40" y="395.80" font-size="3.00" text-anchor="start" font-weight="bold" fill="#ee2a36" text-rendering="geometricPrecision">84.0%</text>
<text x="201.70" y="393.30" font-size="3.00" text-anchor="end" font-weight="bold" fill="#ee2a36" text-rendering="geometricPrecision">17.0</text>
<text x="201.70" y="395.80" font-size="3.00" text-anchor="end" font-weight="bold" fill="#ee2a36" text-rendering="geometricPrecision">8.2%</text>
<text x="195.00" y="405.00" font-size="5.4" text-anchor="middle" font-weight="bold" fill="#2a3ec8" stroke="#2a3ec8" stroke-width="0.15">(+)</text>
<rect x="116.80" y="390.90" width="2.80" height="40.50" fill="#c8c8ff" stroke="none" stroke-width="1" opacity="0.65"/>
<rect x="159.40" y="390.90" width="2.80" height="40.50" fill="#c8c8ff" stroke="none" stroke-width="1" opacity="0.65"/>
<rect x="76.50" y="440.50" width="41.00" height="41.40" fill="#fff" stroke="none" stroke-width="1"/>
<path d="M89.28,481.90 L89.28,481.85 L89.39,481.84 L89.50,481.82 L89.61,481.79 L89.72,481.75 L89.83,481.70 L89.94,481.64 L90.05,481.56 L90.16,481.47 L90.27,481.35 L90.38,481.20 L90.49,481.02 L90.60,480.80 L90.71,480.53 L90.82,480.22 L90.93,479.85 L91.05,479.41 L91.16,478.91 L91.27,478.34 L91.38,477.69 L91.49,476.95 L91.60,476.14 L91.71,475.24 L91.82,474.27 L91.93,473.22 L92.04,472.10 L92.15,470.92 L92.26,469.70 L92.37,468.45 L92.48,467.19 L92.59,465.93 L92.70,464.70 L92.81,463.52 L92.93,462.41 L93.04,461.40 L93.15,460.50 L93.26,459.73 L93.37,459.12 L93.48,458.67 L93.59,458.39 L93.70,458.30 L93.70,458.30 L93.81,458.39 L93.92,458.67 L94.03,459.12 L94.14,459.73 L94.25,460.50 L94.36,461.40 L94.47,462.41 L94.59,463.52 L94.70,464.70 L94.81,465.93 L94.92,467.19 L95.03,468.45 L95.14,469.70 L95.25,470.92 L95.36,472.10 L95.47,473.22 L95.58,474.27 L95.69,475.24 L95.80,476.14 L95.91,476.95 L96.02,477.69 L96.13,478.34 L96.24,478.91 L96.36,479.41 L96.47,479.85 L96.58,480.22 L96.69,480.53 L96.80,480.80 L96.91,481.02 L97.02,481.20 L97.13,481.35 L97.24,481.47 L97.35,481.56 L97.46,481.64 L97.57,481.70 L97.68,481.75 L97.79,481.79 L97.90,481.82 L98.01,481.84 L98.12,481.85 L98.12,481.90 Z" fill="#000"/>
<line x1="96.50" y1="440.50" x2="96.50" y2="481.90" stroke="#ff2020" stroke-width="0.9" opacity="0.42"/>
<rect x="76.50" y="440.50" width="41.00" height="41.40" fill="none" stroke="#b4b4ff" stroke-width="0.9"/>
<line x1="76.50" y1="481.90" x2="117.50" y2="481.90" stroke="#8c8cff" stroke-width="1.3"/>
<line x1="76.50" y1="481.90" x2="77.10" y2="481.90" stroke="#4444ec" stroke-width="1.3"/>
<line x1="81.53" y1="481.90" x2="83.93" y2="481.90" stroke="#4444ec" stroke-width="1.3"/>
<line x1="88.37" y1="481.90" x2="90.77" y2="481.90" stroke="#4444ec" stroke-width="1.3"/>
<line x1="95.20" y1="481.90" x2="97.60" y2="481.90" stroke="#4444ec" stroke-width="1.3"/>
<line x1="102.03" y1="481.90" x2="104.43" y2="481.90" stroke="#4444ec" stroke-width="1.3"/>
<line x1="108.87" y1="481.90" x2="111.27" y2="481.90" stroke="#4444ec" stroke-width="1.3"/>
<line x1="115.70" y1="481.90" x2="117.50" y2="481.90" stroke="#4444ec" stroke-width="1.3"/>
<line x1="80.60" y1="440.50" x2="94.95" y2="440.50" stroke="#8080c0" stroke-width="0.5" opacity="0.5"/>
<line x1="76.50" y1="440.50" x2="77.50" y2="440.50" stroke="#4848f2" stroke-width="0.6"/>
<rect x="72.70" y="439.30" width="1.30" height="2.40" fill="#5c5cf6" stroke="none" stroke-width="1" opacity="0.85"/>
<line x1="76.50" y1="450.85" x2="77.50" y2="450.85" stroke="#4848f2" stroke-width="0.6"/>
<rect x="72.70" y="449.65" width="1.30" height="2.40" fill="#5c5cf6" stroke="none" stroke-width="1" opacity="0.85"/>
<line x1="76.50" y1="461.20" x2="77.50" y2="461.20" stroke="#4848f2" stroke-width="0.6"/>
<rect x="72.70" y="460.00" width="1.30" height="2.40" fill="#5c5cf6" stroke="none" stroke-width="1" opacity="0.85"/>
<line x1="76.50" y1="471.55" x2="77.50" y2="471.55" stroke="#4848f2" stroke-width="0.6"/>
<rect x="72.70" y="470.35" width="1.30" height="2.40" fill="#5c5cf6" stroke="none" stroke-width="1" opacity="0.85"/>
<line x1="76.50" y1="481.90" x2="77.50" y2="481.90" stroke="#4848f2" stroke-width="0.6"/>
<rect x="72.70" y="480.70" width="1.30" height="2.40" fill="#5c5cf6" stroke="none" stroke-width="1" opacity="0.85"/>
<line x1="76.50" y1="481.90" x2="76.50" y2="482.90" stroke="#4848f2" stroke-width="0.5"/>
<line x1="75.60" y1="485.30" x2="77.40" y2="484.10" stroke="#5c5cf6" stroke-width="0.9"/>
<line x1="83.33" y1="481.90" x2="83.33" y2="482.90" stroke="#4848f2" stroke-width="0.5"/>
<line x1="82.43" y1="485.30" x2="84.23" y2="484.10" stroke="#5c5cf6" stroke-width="0.9"/>
<line x1="90.17" y1="481.90" x2="90.17" y2="482.90" stroke="#4848f2" stroke-width="0.5"/>
<line x1="89.27" y1="485.30" x2="91.07" y2="484.10" stroke="#5c5cf6" stroke-width="0.9"/>
<line x1="97.00" y1="481.90" x2="97.00" y2="482.90" stroke="#4848f2" stroke-width="0.5"/>
<line x1="96.10" y1="485.30" x2="97.90" y2="484.10" stroke="#5c5cf6" stroke-width="0.9"/>
<line x1="103.83" y1="481.90" x2="103.83" y2="482.90" stroke="#4848f2" stroke-width="0.5"/>
<line x1="102.93" y1="485.30" x2="104.73" y2="484.10" stroke="#5c5cf6" stroke-width="0.9"/>
<line x1="110.67" y1="481.90" x2="110.67" y2="482.90" stroke="#4848f2" stroke-width="0.5"/>
<line x1="109.77" y1="485.30" x2="111.57" y2="484.10" stroke="#5c5cf6" stroke-width="0.9"/>
<line x1="117.50" y1="481.90" x2="117.50" y2="482.90" stroke="#4848f2" stroke-width="0.5"/>
<line x1="116.60" y1="485.30" x2="118.40" y2="484.10" stroke="#5c5cf6" stroke-width="0.9"/>
<text x="77.40" y="443.30" font-size="3.00" text-anchor="start" font-weight="bold" fill="#ee2a36" text-rendering="geometricPrecision">13.5</text>
<text x="77.40" y="445.80" font-size="3.00" text-anchor="start" font-weight="bold" fill="#ee2a36" text-rendering="geometricPrecision">84.0%</text>
<text x="116.70" y="443.30" font-size="3.00" text-anchor="end" font-weight="bold" fill="#ee2a36" text-rendering="geometricPrecision">17.0</text>
<text x="116.70" y="445.80" font-size="3.00" text-anchor="end" font-weight="bold" fill="#ee2a36" text-rendering="geometricPrecision">8.2%</text>
<text x="107.50" y="455.00" font-size="5.4" text-anchor="middle" font-weight="bold" fill="#2a3ec8" stroke="#2a3ec8" stroke-width="0.15">(+)</text>
<rect x="118.50" y="440.50" width="42.00" height="41.40" fill="#fff" stroke="none" stroke-width="1"/>
<path d="M136.65,481.90 L136.65,481.85 L136.77,481.83 L136.88,481.80 L137.00,481.76 L137.11,481.71 L137.23,481.63 L137.34,481.53 L137.46,481.39 L137.58,481.22 L137.69,481.00 L137.81,480.71 L137.92,480.36 L138.04,479.92 L138.15,479.40 L138.27,478.77 L138.38,478.02 L138.50,477.16 L138.62,476.17 L138.73,475.05 L138.85,473.82 L138.96,472.48 L139.08,471.04 L139.19,469.54 L139.31,467.99 L139.43,466.43 L139.54,464.90 L139.66,463.44 L139.77,462.10 L139.89,460.90 L140.00,459.90 L140.12,459.12 L140.23,458.59 L140.35,458.33 L140.40,458.30 L140.47,458.32 L140.58,458.46 L140.70,458.73 L140.81,459.12 L140.93,459.62 L141.04,460.24 L141.16,460.95 L141.28,461.75 L141.39,462.63 L141.51,463.57 L141.62,464.56 L141.74,465.59 L141.85,466.64 L141.97,467.71 L142.08,468.77 L142.20,469.82 L142.32,470.84 L142.43,471.84 L142.55,472.79 L142.66,473.70 L142.78,474.56 L142.89,475.37 L143.01,476.12 L143.12,476.81 L143.24,477.44 L143.36,478.02 L143.47,478.54 L143.59,479.01 L143.70,479.42 L143.82,479.79 L143.93,480.11 L144.05,480.40 L144.17,480.64 L144.28,480.85 L144.40,481.03 L144.51,481.18 L144.63,481.31 L144.74,481.42 L144.86,481.51 L144.97,481.59 L145.09,481.65 L145.21,481.70 L145.32,481.74 L145.44,481.78 L145.55,481.80 L145.67,481.82 L145.78,481.84 L145.90,481.85 L145.90,481.90 Z" fill="#000"/>
<line x1="139.50" y1="440.50" x2="139.50" y2="481.90" stroke="#ff2020" stroke-width="0.9" opacity="0.42"/>
<rect x="118.50" y="440.50" width="42.00" height="41.40" fill="none" stroke="#b4b4ff" stroke-width="0.9"/>
<line x1="118.50" y1="481.90" x2="160.50" y2="481.90" stroke="#8c8cff" stroke-width="1.3"/>
<line x1="118.50" y1="481.90" x2="119.10" y2="481.90" stroke="#4444ec" stroke-width="1.3"/>
<line x1="123.70" y1="481.90" x2="126.10" y2="481.90" stroke="#4444ec" stroke-width="1.3"/>
<line x1="130.70" y1="481.90" x2="133.10" y2="481.90" stroke="#4444ec" stroke-width="1.3"/>
<line x1="137.70" y1="481.90" x2="140.10" y2="481.90" stroke="#4444ec" stroke-width="1.3"/>
<line x1="144.70" y1="481.90" x2="147.10" y2="481.90" stroke="#4444ec" stroke-width="1.3"/>
<line x1="151.70" y1="481.90" x2="154.10" y2="481.90" stroke="#4444ec" stroke-width="1.3"/>
<line x1="158.70" y1="481.90" x2="160.50" y2="481.90" stroke="#4444ec" stroke-width="1.3"/>
<line x1="122.70" y1="440.50" x2="137.40" y2="440.50" stroke="#8080c0" stroke-width="0.5" opacity="0.5"/>
<line x1="118.50" y1="440.50" x2="119.50" y2="440.50" stroke="#4848f2" stroke-width="0.6"/>
<line x1="118.50" y1="450.85" x2="119.50" y2="450.85" stroke="#4848f2" stroke-width="0.6"/>
<line x1="118.50" y1="461.20" x2="119.50" y2="461.20" stroke="#4848f2" stroke-width="0.6"/>
<line x1="118.50" y1="471.55" x2="119.50" y2="471.55" stroke="#4848f2" stroke-width="0.6"/>
<line x1="118.50" y1="481.90" x2="119.50" y2="481.90" stroke="#4848f2" stroke-width="0.6"/>
<line x1="118.50" y1="481.90" x2="118.50" y2="482.90" stroke="#4848f2" stroke-width="0.5"/>
<line x1="117.60" y1="485.30" x2="119.40" y2="484.10" stroke="#5c5cf6" stroke-width="0.9"/>
<line x1="125.50" y1="481.90" x2="125.50" y2="482.90" stroke="#4848f2" stroke-width="0.5"/>
<line x1="124.60" y1="485.30" x2="126.40" y2="484.10" stroke="#5c5cf6" stroke-width="0.9"/>
<line x1="132.50" y1="481.90" x2="132.50" y2="482.90" stroke="#4848f2" stroke-width="0.5"/>
<line x1="131.60" y1="485.30" x2="133.40" y2="484.10" stroke="#5c5cf6" stroke-width="0.9"/>
<line x1="139.50" y1="481.90" x2="139.50" y2="482.90" stroke="#4848f2" stroke-width="0.5"/>
<line x1="138.60" y1="485.30" x2="140.40" y2="484.10" stroke="#5c5cf6" stroke-width="0.9"/>
<line x1="146.50" y1="481.90" x2="146.50" y2="482.90" stroke="#4848f2" stroke-width="0.5"/>
<line x1="145.60" y1="485.30" x2="147.40" y2="484.10" stroke="#5c5cf6" stroke-width="0.9"/>
<line x1="153.50" y1="481.90" x2="153.50" y2="482.90" stroke="#4848f2" stroke-width="0.5"/>
<line x1="152.60" y1="485.30" x2="154.40" y2="484.10" stroke="#5c5cf6" stroke-width="0.9"/>
<line x1="160.50" y1="481.90" x2="160.50" y2="482.90" stroke="#4848f2" stroke-width="0.5"/>
<line x1="159.60" y1="485.30" x2="161.40" y2="484.10" stroke="#5c5cf6" stroke-width="0.9"/>
<text x="119.40" y="443.30" font-size="3.00" text-anchor="start" font-weight="bold" fill="#ee2a36" text-rendering="geometricPrecision">13.5</text>
<text x="119.40" y="445.80" font-size="3.00" text-anchor="start" font-weight="bold" fill="#ee2a36" text-rendering="geometricPrecision">84.0%</text>
<text x="159.70" y="443.30" font-size="3.00" text-anchor="end" font-weight="bold" fill="#ee2a36" text-rendering="geometricPrecision">17.0</text>
<text x="159.70" y="445.80" font-size="3.00" text-anchor="end" font-weight="bold" fill="#ee2a36" text-rendering="geometricPrecision">8.2%</text>
<text x="151.30" y="455.00" font-size="5.4" text-anchor="middle" font-weight="bold" fill="#2a3ec8" stroke="#2a3ec8" stroke-width="0.15">(+)</text>
<rect x="161.50" y="440.50" width="41.00" height="41.40" fill="#fff" stroke="none" stroke-width="1"/>
<path d="M180.60,481.90 L180.60,481.85 L180.70,481.83 L180.80,481.81 L180.90,481.78 L181.00,481.74 L181.10,481.69 L181.20,481.62 L181.30,481.54 L181.40,481.43 L181.50,481.30 L181.60,481.14 L181.70,480.95 L181.80,480.71 L181.90,480.42 L182.00,480.08 L182.10,479.68 L182.20,479.21 L182.30,478.67 L182.40,478.05 L182.50,477.35 L182.60,476.55 L182.70,475.68 L182.80,474.71 L182.90,473.65 L183.00,472.52 L183.10,471.31 L183.20,470.04 L183.30,468.72 L183.40,467.37 L183.50,466.00 L183.60,464.65 L183.70,463.32 L183.80,462.04 L183.90,460.84 L184.00,459.75 L184.10,458.77 L184.20,457.94 L184.30,457.28 L184.40,456.80 L184.50,456.50 L184.60,456.40 L184.60,456.40 L184.70,456.50 L184.80,456.80 L184.90,457.28 L185.00,457.94 L185.10,458.77 L185.20,459.75 L185.30,460.84 L185.40,462.04 L185.50,463.32 L185.60,464.65 L185.70,466.00 L185.80,467.37 L185.90,468.72 L186.00,470.04 L186.10,471.31 L186.20,472.52 L186.30,473.65 L186.40,474.71 L186.50,475.68 L186.60,476.55 L186.70,477.35 L186.80,478.05 L186.90,478.67 L187.00,479.21 L187.10,479.68 L187.20,480.08 L187.30,480.42 L187.40,480.71 L187.50,480.95 L187.60,481.14 L187.70,481.30 L187.80,481.43 L187.90,481.54 L188.00,481.62 L188.10,481.69 L188.20,481.74 L188.30,481.78 L188.40,481.81 L188.50,481.83 L188.60,481.85 L188.60,481.90 Z" fill="#000"/>
<line x1="181.50" y1="440.50" x2="181.50" y2="481.90" stroke="#ff2020" stroke-width="0.9" opacity="0.42"/>
<rect x="161.50" y="440.50" width="41.00" height="41.40" fill="none" stroke="#b4b4ff" stroke-width="0.9"/>
<line x1="161.50" y1="481.90" x2="202.50" y2="481.90" stroke="#8c8cff" stroke-width="1.3"/>
<line x1="161.50" y1="481.90" x2="162.10" y2="481.90" stroke="#4444ec" stroke-width="1.3"/>
<line x1="166.53" y1="481.90" x2="168.93" y2="481.90" stroke="#4444ec" stroke-width="1.3"/>
<line x1="173.37" y1="481.90" x2="175.77" y2="481.90" stroke="#4444ec" stroke-width="1.3"/>
<line x1="180.20" y1="481.90" x2="182.60" y2="481.90" stroke="#4444ec" stroke-width="1.3"/>
<line x1="187.03" y1="481.90" x2="189.43" y2="481.90" stroke="#4444ec" stroke-width="1.3"/>
<line x1="193.87" y1="481.90" x2="196.27" y2="481.90" stroke="#4444ec" stroke-width="1.3"/>
<line x1="200.70" y1="481.90" x2="202.50" y2="481.90" stroke="#4444ec" stroke-width="1.3"/>
<line x1="165.60" y1="440.50" x2="179.95" y2="440.50" stroke="#8080c0" stroke-width="0.5" opacity="0.5"/>
<line x1="161.50" y1="440.50" x2="162.50" y2="440.50" stroke="#4848f2" stroke-width="0.6"/>
<line x1="161.50" y1="450.85" x2="162.50" y2="450.85" stroke="#4848f2" stroke-width="0.6"/>
<line x1="161.50" y1="461.20" x2="162.50" y2="461.20" stroke="#4848f2" stroke-width="0.6"/>
<line x1="161.50" y1="471.55" x2="162.50" y2="471.55" stroke="#4848f2" stroke-width="0.6"/>
<line x1="161.50" y1="481.90" x2="162.50" y2="481.90" stroke="#4848f2" stroke-width="0.6"/>
<line x1="161.50" y1="481.90" x2="161.50" y2="482.90" stroke="#4848f2" stroke-width="0.5"/>
<line x1="160.60" y1="485.30" x2="162.40" y2="484.10" stroke="#5c5cf6" stroke-width="0.9"/>
<line x1="168.33" y1="481.90" x2="168.33" y2="482.90" stroke="#4848f2" stroke-width="0.5"/>
<line x1="167.43" y1="485.30" x2="169.23" y2="484.10" stroke="#5c5cf6" stroke-width="0.9"/>
<line x1="175.17" y1="481.90" x2="175.17" y2="482.90" stroke="#4848f2" stroke-width="0.5"/>
<line x1="174.27" y1="485.30" x2="176.07" y2="484.10" stroke="#5c5cf6" stroke-width="0.9"/>
<line x1="182.00" y1="481.90" x2="182.00" y2="482.90" stroke="#4848f2" stroke-width="0.5"/>
<line x1="181.10" y1="485.30" x2="182.90" y2="484.10" stroke="#5c5cf6" stroke-width="0.9"/>
<line x1="188.83" y1="481.90" x2="188.83" y2="482.90" stroke="#4848f2" stroke-width="0.5"/>
<line x1="187.93" y1="485.30" x2="189.73" y2="484.10" stroke="#5c5cf6" stroke-width="0.9"/>
<line x1="195.67" y1="481.90" x2="195.67" y2="482.90" stroke="#4848f2" stroke-width="0.5"/>
<line x1="194.77" y1="485.30" x2="196.57" y2="484.10" stroke="#5c5cf6" stroke-width="0.9"/>
<line x1="202.50" y1="481.90" x2="202.50" y2="482.90" stroke="#4848f2" stroke-width="0.5"/>
<line x1="201.60" y1="485.30" x2="203.40" y2="484.10" stroke="#5c5cf6" stroke-width="0.9"/>
<text x="162.40" y="443.30" font-size="3.00" text-anchor="start" font-weight="bold" fill="#ee2a36" text-rendering="geometricPrecision">13.5</text>
<text x="162.40" y="445.80" font-size="3.00" text-anchor="start" font-weight="bold" fill="#ee2a36" text-rendering="geometricPrecision">84.0%</text>
<text x="201.70" y="443.30" font-size="3.00" text-anchor="end" font-weight="bold" fill="#ee2a36" text-rendering="geometricPrecision">17.0</text>
<text x="201.70" y="445.80" font-size="3.00" text-anchor="end" font-weight="bold" fill="#ee2a36" text-rendering="geometricPrecision">8.2%</text>
<text x="195.00" y="455.00" font-size="5.4" text-anchor="middle" font-weight="bold" fill="#2a3ec8" stroke="#2a3ec8" stroke-width="0.15">(+)</text>
<rect x="116.80" y="440.90" width="2.80" height="41.00" fill="#c8c8ff" stroke="none" stroke-width="1" opacity="0.65"/>
<rect x="159.40" y="440.90" width="2.80" height="41.00" fill="#c8c8ff" stroke="none" stroke-width="1" opacity="0.65"/>
<rect x="76.50" y="489.50" width="41.00" height="41.30" fill="#fff" stroke="none" stroke-width="1"/>
<path d="M78.44,530.80 L78.44,530.69 L78.73,530.67 L79.02,530.66 L79.31,530.65 L79.60,530.63 L79.88,530.61 L80.17,530.59 L80.46,530.57 L80.75,530.55 L81.04,530.52 L81.33,530.49 L81.62,530.46 L81.90,530.43 L82.19,530.39 L82.48,530.35 L82.77,530.30 L83.06,530.25 L83.35,530.19 L83.64,530.13 L83.92,530.07 L84.21,530.00 L84.50,529.92 L84.79,529.83 L85.08,529.74 L85.37,529.64 L85.65,529.52 L85.94,529.40 L86.23,529.27 L86.52,529.13 L86.81,528.97 L87.10,528.80 L87.39,528.61 L87.67,528.41 L87.96,528.19 L88.25,527.96 L88.54,527.70 L88.83,527.42 L89.12,527.13 L89.41,526.80 L89.69,526.46 L89.98,526.08 L90.27,525.68 L90.56,525.25 L90.85,524.78 L91.14,524.28 L91.43,523.75 L91.71,523.18 L92.00,522.57 L92.29,521.92 L92.58,521.24 L92.87,520.51 L93.16,519.74 L93.44,518.92 L93.73,518.07 L94.02,517.17 L94.31,516.24 L94.60,515.27 L94.89,514.27 L95.18,513.26 L95.46,512.23 L95.75,511.23 L96.04,510.28 L96.30,509.60 L96.33,509.60 L96.62,509.74 L96.91,510.27 L97.20,511.33 L97.48,512.93 L97.77,515.01 L98.06,517.43 L98.35,519.99 L98.64,522.49 L98.93,524.74 L99.22,526.63 L99.50,528.09 L99.79,529.15 L100.08,529.86 L100.37,530.30 L100.66,530.55 L100.95,530.68 L101.23,530.75 L101.52,530.78 L101.52,530.80 Z" fill="#000"/>
<line x1="100.50" y1="489.50" x2="100.50" y2="530.80" stroke="#ff2020" stroke-width="0.9" opacity="0.42"/>
<rect x="76.50" y="489.50" width="41.00" height="41.30" fill="none" stroke="#b4b4ff" stroke-width="0.9"/>
<line x1="76.50" y1="530.80" x2="117.50" y2="530.80" stroke="#8c8cff" stroke-width="1.3"/>
<line x1="76.50" y1="530.80" x2="77.10" y2="530.80" stroke="#4444ec" stroke-width="1.3"/>
<line x1="81.53" y1="530.80" x2="83.93" y2="530.80" stroke="#4444ec" stroke-width="1.3"/>
<line x1="88.37" y1="530.80" x2="90.77" y2="530.80" stroke="#4444ec" stroke-width="1.3"/>
<line x1="95.20" y1="530.80" x2="97.60" y2="530.80" stroke="#4444ec" stroke-width="1.3"/>
<line x1="102.03" y1="530.80" x2="104.43" y2="530.80" stroke="#4444ec" stroke-width="1.3"/>
<line x1="108.87" y1="530.80" x2="111.27" y2="530.80" stroke="#4444ec" stroke-width="1.3"/>
<line x1="115.70" y1="530.80" x2="117.50" y2="530.80" stroke="#4444ec" stroke-width="1.3"/>
<line x1="80.60" y1="489.50" x2="94.95" y2="489.50" stroke="#8080c0" stroke-width="0.5" opacity="0.5"/>
<line x1="76.50" y1="489.50" x2="77.50" y2="489.50" stroke="#4848f2" stroke-width="0.6"/>
<rect x="72.70" y="488.30" width="1.30" height="2.40" fill="#5c5cf6" stroke="none" stroke-width="1" opacity="0.85"/>
<line x1="76.50" y1="499.82" x2="77.50" y2="499.82" stroke="#4848f2" stroke-width="0.6"/>
<rect x="72.70" y="498.62" width="1.30" height="2.40" fill="#5c5cf6" stroke="none" stroke-width="1" opacity="0.85"/>
<line x1="76.50" y1="510.15" x2="77.50" y2="510.15" stroke="#4848f2" stroke-width="0.6"/>
<rect x="72.70" y="508.95" width="1.30" height="2.40" fill="#5c5cf6" stroke="none" stroke-width="1" opacity="0.85"/>
<line x1="76.50" y1="520.47" x2="77.50" y2="520.47" stroke="#4848f2" stroke-width="0.6"/>
<rect x="72.70" y="519.27" width="1.30" height="2.40" fill="#5c5cf6" stroke="none" stroke-width="1" opacity="0.85"/>
<line x1="76.50" y1="530.80" x2="77.50" y2="530.80" stroke="#4848f2" stroke-width="0.6"/>
<rect x="72.70" y="529.60" width="1.30" height="2.40" fill="#5c5cf6" stroke="none" stroke-width="1" opacity="0.85"/>
<line x1="76.50" y1="530.80" x2="76.50" y2="531.80" stroke="#4848f2" stroke-width="0.5"/>
<line x1="75.60" y1="534.20" x2="77.40" y2="533.00" stroke="#5c5cf6" stroke-width="0.9"/>
<line x1="83.33" y1="530.80" x2="83.33" y2="531.80" stroke="#4848f2" stroke-width="0.5"/>
<line x1="82.43" y1="534.20" x2="84.23" y2="533.00" stroke="#5c5cf6" stroke-width="0.9"/>
<line x1="90.17" y1="530.80" x2="90.17" y2="531.80" stroke="#4848f2" stroke-width="0.5"/>
<line x1="89.27" y1="534.20" x2="91.07" y2="533.00" stroke="#5c5cf6" stroke-width="0.9"/>
<line x1="97.00" y1="530.80" x2="97.00" y2="531.80" stroke="#4848f2" stroke-width="0.5"/>
<line x1="96.10" y1="534.20" x2="97.90" y2="533.00" stroke="#5c5cf6" stroke-width="0.9"/>
<line x1="103.83" y1="530.80" x2="103.83" y2="531.80" stroke="#4848f2" stroke-width="0.5"/>
<line x1="102.93" y1="534.20" x2="104.73" y2="533.00" stroke="#5c5cf6" stroke-width="0.9"/>
<line x1="110.67" y1="530.80" x2="110.67" y2="531.80" stroke="#4848f2" stroke-width="0.5"/>
<line x1="109.77" y1="534.20" x2="111.57" y2="533.00" stroke="#5c5cf6" stroke-width="0.9"/>
<line x1="117.50" y1="530.80" x2="117.50" y2="531.80" stroke="#4848f2" stroke-width="0.5"/>
<line x1="116.60" y1="534.20" x2="118.40" y2="533.00" stroke="#5c5cf6" stroke-width="0.9"/>
<text x="77.40" y="492.30" font-size="3.00" text-anchor="start" font-weight="bold" fill="#ee2a36" text-rendering="geometricPrecision">13.5</text>
<text x="77.40" y="494.80" font-size="3.00" text-anchor="start" font-weight="bold" fill="#ee2a36" text-rendering="geometricPrecision">84.0%</text>
<text x="116.70" y="492.30" font-size="3.00" text-anchor="end" font-weight="bold" fill="#ee2a36" text-rendering="geometricPrecision">17.0</text>
<text x="116.70" y="494.80" font-size="3.00" text-anchor="end" font-weight="bold" fill="#ee2a36" text-rendering="geometricPrecision">8.2%</text>
<text x="107.50" y="503.80" font-size="5.4" text-anchor="middle" font-weight="bold" fill="#2a3ec8" stroke="#2a3ec8" stroke-width="0.15">(+)</text>
<rect x="118.50" y="489.50" width="42.00" height="41.30" fill="#fff" stroke="none" stroke-width="1"/>
<path d="M132.48,530.80 L132.48,530.69 L132.65,530.68 L132.82,530.65 L132.99,530.63 L133.16,530.60 L133.33,530.57 L133.50,530.53 L133.67,530.48 L133.84,530.43 L134.01,530.38 L134.18,530.31 L134.35,530.23 L134.52,530.15 L134.69,530.05 L134.86,529.94 L135.02,529.81 L135.19,529.67 L135.36,529.50 L135.53,529.32 L135.70,529.12 L135.87,528.89 L136.04,528.63 L136.21,528.35 L136.38,528.03 L136.55,527.68 L136.72,527.29 L136.89,526.86 L137.06,526.39 L137.23,525.88 L137.40,525.31 L137.57,524.70 L137.74,524.03 L137.91,523.31 L138.08,522.54 L138.25,521.70 L138.42,520.81 L138.59,519.86 L138.76,518.85 L138.93,517.79 L139.10,516.68 L139.27,515.51 L139.43,514.31 L139.60,513.07 L139.77,511.81 L139.94,510.53 L140.11,509.25 L140.28,507.98 L140.45,506.76 L140.62,505.59 L140.79,504.51 L140.96,503.57 L141.13,502.82 L141.30,502.40 L141.30,502.40 L141.47,502.63 L141.64,503.29 L141.81,504.37 L141.98,505.81 L142.15,507.54 L142.32,509.49 L142.49,511.59 L142.66,513.76 L142.83,515.92 L143.00,518.01 L143.17,519.98 L143.34,521.79 L143.51,523.42 L143.68,524.85 L143.84,526.08 L144.01,527.11 L144.18,527.96 L144.35,528.66 L144.52,529.20 L144.69,529.63 L144.86,529.96 L145.03,530.20 L145.20,530.38 L145.37,530.51 L145.54,530.61 L145.71,530.67 L145.88,530.72 L146.05,530.75 L146.05,530.80 Z" fill="#000"/>
<line x1="143.50" y1="489.50" x2="143.50" y2="530.80" stroke="#ff2020" stroke-width="0.9" opacity="0.42"/>
<rect x="118.50" y="489.50" width="42.00" height="41.30" fill="none" stroke="#b4b4ff" stroke-width="0.9"/>
<line x1="118.50" y1="530.80" x2="160.50" y2="530.80" stroke="#8c8cff" stroke-width="1.3"/>
<line x1="118.50" y1="530.80" x2="119.10" y2="530.80" stroke="#4444ec" stroke-width="1.3"/>
<line x1="123.70" y1="530.80" x2="126.10" y2="530.80" stroke="#4444ec" stroke-width="1.3"/>
<line x1="130.70" y1="530.80" x2="133.10" y2="530.80" stroke="#4444ec" stroke-width="1.3"/>
<line x1="137.70" y1="530.80" x2="140.10" y2="530.80" stroke="#4444ec" stroke-width="1.3"/>
<line x1="144.70" y1="530.80" x2="147.10" y2="530.80" stroke="#4444ec" stroke-width="1.3"/>
<line x1="151.70" y1="530.80" x2="154.10" y2="530.80" stroke="#4444ec" stroke-width="1.3"/>
<line x1="158.70" y1="530.80" x2="160.50" y2="530.80" stroke="#4444ec" stroke-width="1.3"/>
<line x1="122.70" y1="489.50" x2="137.40" y2="489.50" stroke="#8080c0" stroke-width="0.5" opacity="0.5"/>
<line x1="118.50" y1="489.50" x2="119.50" y2="489.50" stroke="#4848f2" stroke-width="0.6"/>
<line x1="118.50" y1="499.82" x2="119.50" y2="499.82" stroke="#4848f2" stroke-width="0.6"/>
<line x1="118.50" y1="510.15" x2="119.50" y2="510.15" stroke="#4848f2" stroke-width="0.6"/>
<line x1="118.50" y1="520.47" x2="119.50" y2="520.47" stroke="#4848f2" stroke-width="0.6"/>
<line x1="118.50" y1="530.80" x2="119.50" y2="530.80" stroke="#4848f2" stroke-width="0.6"/>
<line x1="118.50" y1="530.80" x2="118.50" y2="531.80" stroke="#4848f2" stroke-width="0.5"/>
<line x1="117.60" y1="534.20" x2="119.40" y2="533.00" stroke="#5c5cf6" stroke-width="0.9"/>
<line x1="125.50" y1="530.80" x2="125.50" y2="531.80" stroke="#4848f2" stroke-width="0.5"/>
<line x1="124.60" y1="534.20" x2="126.40" y2="533.00" stroke="#5c5cf6" stroke-width="0.9"/>
<line x1="132.50" y1="530.80" x2="132.50" y2="531.80" stroke="#4848f2" stroke-width="0.5"/>
<line x1="131.60" y1="534.20" x2="133.40" y2="533.00" stroke="#5c5cf6" stroke-width="0.9"/>
<line x1="139.50" y1="530.80" x2="139.50" y2="531.80" stroke="#4848f2" stroke-width="0.5"/>
<line x1="138.60" y1="534.20" x2="140.40" y2="533.00" stroke="#5c5cf6" stroke-width="0.9"/>
<line x1="146.50" y1="530.80" x2="146.50" y2="531.80" stroke="#4848f2" stroke-width="0.5"/>
<line x1="145.60" y1="534.20" x2="147.40" y2="533.00" stroke="#5c5cf6" stroke-width="0.9"/>
<line x1="153.50" y1="530.80" x2="153.50" y2="531.80" stroke="#4848f2" stroke-width="0.5"/>
<line x1="152.60" y1="534.20" x2="154.40" y2="533.00" stroke="#5c5cf6" stroke-width="0.9"/>
<line x1="160.50" y1="530.80" x2="160.50" y2="531.80" stroke="#4848f2" stroke-width="0.5"/>
<line x1="159.60" y1="534.20" x2="161.40" y2="533.00" stroke="#5c5cf6" stroke-width="0.9"/>
<text x="119.40" y="492.30" font-size="3.00" text-anchor="start" font-weight="bold" fill="#ee2a36" text-rendering="geometricPrecision">13.5</text>
<text x="119.40" y="494.80" font-size="3.00" text-anchor="start" font-weight="bold" fill="#ee2a36" text-rendering="geometricPrecision">84.0%</text>
<text x="159.70" y="492.30" font-size="3.00" text-anchor="end" font-weight="bold" fill="#ee2a36" text-rendering="geometricPrecision">17.0</text>
<text x="159.70" y="494.80" font-size="3.00" text-anchor="end" font-weight="bold" fill="#ee2a36" text-rendering="geometricPrecision">8.2%</text>
<text x="151.30" y="503.80" font-size="5.4" text-anchor="middle" font-weight="bold" fill="#2a3ec8" stroke="#2a3ec8" stroke-width="0.15">(+)</text>
<rect x="161.50" y="489.50" width="41.00" height="41.30" fill="#fff" stroke="none" stroke-width="1"/>
<path d="M178.26,530.80 L178.26,530.67 L178.40,530.65 L178.54,530.62 L178.69,530.59 L178.83,530.55 L178.97,530.51 L179.12,530.46 L179.26,530.41 L179.40,530.34 L179.55,530.27 L179.69,530.18 L179.84,530.08 L179.98,529.97 L180.12,529.84 L180.27,529.69 L180.41,529.53 L180.55,529.34 L180.70,529.13 L180.84,528.88 L180.99,528.61 L181.13,528.31 L181.27,527.97 L181.42,527.59 L181.56,527.17 L181.70,526.70 L181.85,526.18 L181.99,525.60 L182.13,524.97 L182.28,524.28 L182.42,523.53 L182.57,522.70 L182.71,521.81 L182.85,520.85 L183.00,519.81 L183.14,518.70 L183.28,517.51 L183.43,516.26 L183.57,514.93 L183.72,513.53 L183.86,512.08 L184.00,510.57 L184.15,509.03 L184.29,507.45 L184.43,505.86 L184.58,504.27 L184.72,502.72 L184.86,501.22 L185.01,499.82 L185.15,498.55 L185.30,497.49 L185.44,496.75 L185.50,496.60 L185.58,496.68 L185.73,497.20 L185.87,498.19 L186.01,499.59 L186.16,501.36 L186.30,503.42 L186.45,505.70 L186.59,508.11 L186.73,510.58 L186.88,513.04 L187.02,515.43 L187.16,517.68 L187.31,519.76 L187.45,521.64 L187.59,523.31 L187.74,524.76 L187.88,526.00 L188.03,527.04 L188.17,527.90 L188.31,528.59 L188.46,529.14 L188.60,529.57 L188.74,529.90 L188.89,530.16 L189.03,530.34 L189.18,530.48 L189.32,530.58 L189.46,530.65 L189.61,530.70 L189.75,530.73 L189.75,530.80 Z" fill="#000"/>
<line x1="186.50" y1="489.50" x2="186.50" y2="530.80" stroke="#ff2020" stroke-width="0.9" opacity="0.42"/>
<rect x="161.50" y="489.50" width="41.00" height="41.30" fill="none" stroke="#b4b4ff" stroke-width="0.9"/>
<line x1="161.50" y1="530.80" x2="202.50" y2="530.80" stroke="#8c8cff" stroke-width="1.3"/>
<line x1="161.50" y1="530.80" x2="162.10" y2="530.80" stroke="#4444ec" stroke-width="1.3"/>
<line x1="166.53" y1="530.80" x2="168.93" y2="530.80" stroke="#4444ec" stroke-width="1.3"/>
<line x1="173.37" y1="530.80" x2="175.77" y2="530.80" stroke="#4444ec" stroke-width="1.3"/>
<line x1="180.20" y1="530.80" x2="182.60" y2="530.80" stroke="#4444ec" stroke-width="1.3"/>
<line x1="187.03" y1="530.80" x2="189.43" y2="530.80" stroke="#4444ec" stroke-width="1.3"/>
<line x1="193.87" y1="530.80" x2="196.27" y2="530.80" stroke="#4444ec" stroke-width="1.3"/>
<line x1="200.70" y1="530.80" x2="202.50" y2="530.80" stroke="#4444ec" stroke-width="1.3"/>
<line x1="165.60" y1="489.50" x2="179.95" y2="489.50" stroke="#8080c0" stroke-width="0.5" opacity="0.5"/>
<line x1="161.50" y1="489.50" x2="162.50" y2="489.50" stroke="#4848f2" stroke-width="0.6"/>
<line x1="161.50" y1="499.82" x2="162.50" y2="499.82" stroke="#4848f2" stroke-width="0.6"/>
<line x1="161.50" y1="510.15" x2="162.50" y2="510.15" stroke="#4848f2" stroke-width="0.6"/>
<line x1="161.50" y1="520.47" x2="162.50" y2="520.47" stroke="#4848f2" stroke-width="0.6"/>
<line x1="161.50" y1="530.80" x2="162.50" y2="530.80" stroke="#4848f2" stroke-width="0.6"/>
<line x1="161.50" y1="530.80" x2="161.50" y2="531.80" stroke="#4848f2" stroke-width="0.5"/>
<line x1="160.60" y1="534.20" x2="162.40" y2="533.00" stroke="#5c5cf6" stroke-width="0.9"/>
<line x1="168.33" y1="530.80" x2="168.33" y2="531.80" stroke="#4848f2" stroke-width="0.5"/>
<line x1="167.43" y1="534.20" x2="169.23" y2="533.00" stroke="#5c5cf6" stroke-width="0.9"/>
<line x1="175.17" y1="530.80" x2="175.17" y2="531.80" stroke="#4848f2" stroke-width="0.5"/>
<line x1="174.27" y1="534.20" x2="176.07" y2="533.00" stroke="#5c5cf6" stroke-width="0.9"/>
<line x1="182.00" y1="530.80" x2="182.00" y2="531.80" stroke="#4848f2" stroke-width="0.5"/>
<line x1="181.10" y1="534.20" x2="182.90" y2="533.00" stroke="#5c5cf6" stroke-width="0.9"/>
<line x1="188.83" y1="530.80" x2="188.83" y2="531.80" stroke="#4848f2" stroke-width="0.5"/>
<line x1="187.93" y1="534.20" x2="189.73" y2="533.00" stroke="#5c5cf6" stroke-width="0.9"/>
<line x1="195.67" y1="530.80" x2="195.67" y2="531.80" stroke="#4848f2" stroke-width="0.5"/>
<line x1="194.77" y1="534.20" x2="196.57" y2="533.00" stroke="#5c5cf6" stroke-width="0.9"/>
<line x1="202.50" y1="530.80" x2="202.50" y2="531.80" stroke="#4848f2" stroke-width="0.5"/>
<line x1="201.60" y1="534.20" x2="203.40" y2="533.00" stroke="#5c5cf6" stroke-width="0.9"/>
<text x="162.40" y="492.30" font-size="3.00" text-anchor="start" font-weight="bold" fill="#ee2a36" text-rendering="geometricPrecision">13.5</text>
<text x="162.40" y="494.80" font-size="3.00" text-anchor="start" font-weight="bold" fill="#ee2a36" text-rendering="geometricPrecision">84.0%</text>
<text x="201.70" y="492.30" font-size="3.00" text-anchor="end" font-weight="bold" fill="#ee2a36" text-rendering="geometricPrecision">17.0</text>
<text x="201.70" y="494.80" font-size="3.00" text-anchor="end" font-weight="bold" fill="#ee2a36" text-rendering="geometricPrecision">8.2%</text>
<text x="195.00" y="503.80" font-size="5.4" text-anchor="middle" font-weight="bold" fill="#2a3ec8" stroke="#2a3ec8" stroke-width="0.15">(+)</text>
<rect x="116.80" y="489.70" width="2.80" height="41.10" fill="#c8c8ff" stroke="none" stroke-width="1" opacity="0.65"/>
<rect x="159.40" y="489.70" width="2.80" height="41.10" fill="#c8c8ff" stroke="none" stroke-width="1" opacity="0.65"/>
<text x="97.00" y="388.00" font-size="5.6" text-anchor="middle" font-weight="bold" fill="#111" stroke="#111" stroke-width="0.08">0</text>
<text x="139.60" y="388.00" font-size="5.6" text-anchor="middle" font-weight="bold" fill="#111" stroke="#111" stroke-width="0.08">15</text>
<text x="180.60" y="388.00" font-size="5.6" text-anchor="middle" font-weight="bold" fill="#111" stroke="#111" stroke-width="0.08" textLength="19.50" lengthAdjust="spacingAndGlyphs">25 µg/ml</text>
<text x="69.30" y="460.00" font-size="6.6" text-anchor="middle" font-weight="bold" fill="#111" stroke="#111" stroke-width="0.28" textLength="15.30" lengthAdjust="spacingAndGlyphs" transform="rotate(-90 69.30 460.00)">Count</text>
<text x="138.00" y="541.30" font-size="6.6" text-anchor="middle" font-weight="bold" fill="#111" stroke="#111" stroke-width="0.28" textLength="46.10" lengthAdjust="spacingAndGlyphs">Caspase 8 intensity</text>
<text x="211.80" y="411.00" font-size="5.0" text-anchor="middle" font-weight="bold" fill="#111" stroke="#111" stroke-width="0.22" textLength="12.60" lengthAdjust="spacingAndGlyphs" transform="rotate(-90 211.80 411.00)">MCF7</text>
<text x="211.80" y="463.50" font-size="5.0" text-anchor="middle" font-weight="bold" fill="#111" stroke="#111" stroke-width="0.22" textLength="20.00" lengthAdjust="spacingAndGlyphs" transform="rotate(-90 211.80 463.50)">HCC1937</text>
<text x="211.80" y="512.80" font-size="5.0" text-anchor="middle" font-weight="bold" fill="#111" stroke="#111" stroke-width="0.22" textLength="9.00" lengthAdjust="spacingAndGlyphs" transform="rotate(-90 211.80 512.80)">M10</text>
<rect x="243.00" y="429.95" width="9.40" height="0.55" fill="#d0d0d0" stroke="#222" stroke-width="0.6"/>
<text x="247.70" y="428.55" font-size="4.8" text-anchor="middle" font-weight="bold" fill="#111" stroke="#111" stroke-width="0.1">c</text>
<rect x="258.60" y="414.59" width="9.40" height="15.91" fill="#d0d0d0" stroke="#222" stroke-width="0.6"/>
<line x1="263.30" y1="414.59" x2="263.30" y2="413.67" stroke="#222" stroke-width="0.5"/>
<line x1="262.10" y1="413.67" x2="264.50" y2="413.67" stroke="#222" stroke-width="0.5"/>
<text x="263.30" y="412.27" font-size="4.8" text-anchor="middle" font-weight="bold" fill="#111" stroke="#111" stroke-width="0.1">b</text>
<rect x="274.40" y="402.05" width="9.40" height="28.45" fill="#d0d0d0" stroke="#222" stroke-width="0.6"/>
<line x1="279.10" y1="402.05" x2="279.10" y2="401.31" stroke="#222" stroke-width="0.5"/>
<line x1="277.90" y1="401.31" x2="280.30" y2="401.31" stroke="#222" stroke-width="0.5"/>
<text x="279.10" y="399.91" font-size="4.8" text-anchor="middle" font-weight="bold" fill="#111" stroke="#111" stroke-width="0.1">a</text>
<rect x="232.50" y="386.50" width="62.00" height="44.00" fill="none" stroke="#959595" stroke-width="0.8"/>
<line x1="231.30" y1="430.50" x2="232.50" y2="430.50" stroke="#959595" stroke-width="0.6"/>
<text x="230.30" y="431.70" font-size="3.3" text-anchor="end" font-weight="bold" fill="#111" stroke="#111" stroke-width="0.14">0</text>
<line x1="231.30" y1="423.17" x2="232.50" y2="423.17" stroke="#959595" stroke-width="0.6"/>
<text x="230.30" y="424.37" font-size="3.3" text-anchor="end" font-weight="bold" fill="#111" stroke="#111" stroke-width="0.14">20</text>
<line x1="231.30" y1="415.83" x2="232.50" y2="415.83" stroke="#959595" stroke-width="0.6"/>
<text x="230.30" y="417.03" font-size="3.3" text-anchor="end" font-weight="bold" fill="#111" stroke="#111" stroke-width="0.14">40</text>
<line x1="231.30" y1="408.50" x2="232.50" y2="408.50" stroke="#959595" stroke-width="0.6"/>
<text x="230.30" y="409.70" font-size="3.3" text-anchor="end" font-weight="bold" fill="#111" stroke="#111" stroke-width="0.14">60</text>
<line x1="231.30" y1="401.17" x2="232.50" y2="401.17" stroke="#959595" stroke-width="0.6"/>
<text x="230.30" y="402.37" font-size="3.3" text-anchor="end" font-weight="bold" fill="#111" stroke="#111" stroke-width="0.14">80</text>
<line x1="231.30" y1="393.83" x2="232.50" y2="393.83" stroke="#959595" stroke-width="0.6"/>
<text x="230.30" y="395.03" font-size="3.3" text-anchor="end" font-weight="bold" fill="#111" stroke="#111" stroke-width="0.14">100</text>
<line x1="247.70" y1="430.50" x2="247.70" y2="431.70" stroke="#959595" stroke-width="0.6"/>
<line x1="263.30" y1="430.50" x2="263.30" y2="431.70" stroke="#959595" stroke-width="0.6"/>
<line x1="279.10" y1="430.50" x2="279.10" y2="431.70" stroke="#959595" stroke-width="0.6"/>
<text x="221.60" y="409.70" font-size="3.9" text-anchor="middle" font-weight="bold" fill="#111" stroke="#111" stroke-width="0.2" textLength="34.50" lengthAdjust="spacingAndGlyphs" transform="rotate(-90 221.60 409.70)">Caspase 8 (+) (%)</text>
<rect x="243.00" y="481.84" width="9.40" height="0.66" fill="#d0d0d0" stroke="#222" stroke-width="0.6"/>
<text x="247.70" y="480.44" font-size="4.8" text-anchor="middle" font-weight="bold" fill="#111" stroke="#111" stroke-width="0.1">c</text>
<rect x="258.60" y="448.62" width="9.40" height="33.88" fill="#d0d0d0" stroke="#222" stroke-width="0.6"/>
<line x1="263.30" y1="448.62" x2="263.30" y2="447.89" stroke="#222" stroke-width="0.5"/>
<line x1="262.10" y1="447.89" x2="264.50" y2="447.89" stroke="#222" stroke-width="0.5"/>
<text x="263.30" y="446.49" font-size="4.8" text-anchor="middle" font-weight="bold" fill="#111" stroke="#111" stroke-width="0.1">b</text>
<rect x="274.40" y="445.83" width="9.40" height="36.67" fill="#d0d0d0" stroke="#222" stroke-width="0.6"/>
<line x1="279.10" y1="445.83" x2="279.10" y2="445.28" stroke="#222" stroke-width="0.5"/>
<line x1="277.90" y1="445.28" x2="280.30" y2="445.28" stroke="#222" stroke-width="0.5"/>
<text x="279.10" y="443.88" font-size="4.8" text-anchor="middle" font-weight="bold" fill="#111" stroke="#111" stroke-width="0.1">a</text>
<rect x="232.50" y="438.50" width="62.00" height="44.00" fill="none" stroke="#959595" stroke-width="0.8"/>
<line x1="231.30" y1="482.50" x2="232.50" y2="482.50" stroke="#959595" stroke-width="0.6"/>
<text x="230.30" y="483.70" font-size="3.3" text-anchor="end" font-weight="bold" fill="#111" stroke="#111" stroke-width="0.14">0</text>
<line x1="231.30" y1="475.17" x2="232.50" y2="475.17" stroke="#959595" stroke-width="0.6"/>
<text x="230.30" y="476.37" font-size="3.3" text-anchor="end" font-weight="bold" fill="#111" stroke="#111" stroke-width="0.14">20</text>
<line x1="231.30" y1="467.83" x2="232.50" y2="467.83" stroke="#959595" stroke-width="0.6"/>
<text x="230.30" y="469.03" font-size="3.3" text-anchor="end" font-weight="bold" fill="#111" stroke="#111" stroke-width="0.14">40</text>
<line x1="231.30" y1="460.50" x2="232.50" y2="460.50" stroke="#959595" stroke-width="0.6"/>
<text x="230.30" y="461.70" font-size="3.3" text-anchor="end" font-weight="bold" fill="#111" stroke="#111" stroke-width="0.14">60</text>
<line x1="231.30" y1="453.17" x2="232.50" y2="453.17" stroke="#959595" stroke-width="0.6"/>
<text x="230.30" y="454.37" font-size="3.3" text-anchor="end" font-weight="bold" fill="#111" stroke="#111" stroke-width="0.14">80</text>
<line x1="231.30" y1="445.83" x2="232.50" y2="445.83" stroke="#959595" stroke-width="0.6"/>
<text x="230.30" y="447.03" font-size="3.3" text-anchor="end" font-weight="bold" fill="#111" stroke="#111" stroke-width="0.14">100</text>
<line x1="247.70" y1="482.50" x2="247.70" y2="483.70" stroke="#959595" stroke-width="0.6"/>
<line x1="263.30" y1="482.50" x2="263.30" y2="483.70" stroke="#959595" stroke-width="0.6"/>
<line x1="279.10" y1="482.50" x2="279.10" y2="483.70" stroke="#959595" stroke-width="0.6"/>
<text x="221.60" y="461.70" font-size="3.9" text-anchor="middle" font-weight="bold" fill="#111" stroke="#111" stroke-width="0.2" textLength="34.50" lengthAdjust="spacingAndGlyphs" transform="rotate(-90 221.60 461.70)">Caspase 8 (+) (%)</text>
<text x="247.70" y="533.10" font-size="4.8" text-anchor="middle" font-weight="bold" fill="#111" stroke="#111" stroke-width="0.1">b</text>
<rect x="258.60" y="531.68" width="9.40" height="2.82" fill="#d0d0d0" stroke="#222" stroke-width="0.6"/>
<line x1="263.30" y1="531.68" x2="263.30" y2="531.31" stroke="#222" stroke-width="0.5"/>
<line x1="262.10" y1="531.31" x2="264.50" y2="531.31" stroke="#222" stroke-width="0.5"/>
<text x="263.30" y="529.91" font-size="4.8" text-anchor="middle" font-weight="bold" fill="#111" stroke="#111" stroke-width="0.1">b</text>
<rect x="274.40" y="526.98" width="9.40" height="7.52" fill="#d0d0d0" stroke="#222" stroke-width="0.6"/>
<line x1="279.10" y1="526.98" x2="279.10" y2="525.88" stroke="#222" stroke-width="0.5"/>
<line x1="277.90" y1="525.88" x2="280.30" y2="525.88" stroke="#222" stroke-width="0.5"/>
<text x="279.10" y="524.48" font-size="4.8" text-anchor="middle" font-weight="bold" fill="#111" stroke="#111" stroke-width="0.1">a</text>
<rect x="232.50" y="490.50" width="62.00" height="44.00" fill="none" stroke="#959595" stroke-width="0.8"/>
<line x1="231.30" y1="534.50" x2="232.50" y2="534.50" stroke="#959595" stroke-width="0.6"/>
<text x="230.30" y="535.70" font-size="3.3" text-anchor="end" font-weight="bold" fill="#111" stroke="#111" stroke-width="0.14">0</text>
<line x1="231.30" y1="527.17" x2="232.50" y2="527.17" stroke="#959595" stroke-width="0.6"/>
<text x="230.30" y="528.37" font-size="3.3" text-anchor="end" font-weight="bold" fill="#111" stroke="#111" stroke-width="0.14">20</text>
<line x1="231.30" y1="519.83" x2="232.50" y2="519.83" stroke="#959595" stroke-width="0.6"/>
<text x="230.30" y="521.03" font-size="3.3" text-anchor="end" font-weight="bold" fill="#111" stroke="#111" stroke-width="0.14">40</text>
<line x1="231.30" y1="512.50" x2="232.50" y2="512.50" stroke="#959595" stroke-width="0.6"/>
<text x="230.30" y="513.70" font-size="3.3" text-anchor="end" font-weight="bold" fill="#111" stroke="#111" stroke-width="0.14">60</text>
<line x1="231.30" y1="505.17" x2="232.50" y2="505.17" stroke="#959595" stroke-width="0.6"/>
<text x="230.30" y="506.37" font-size="3.3" text-anchor="end" font-weight="bold" fill="#111" stroke="#111" stroke-width="0.14">80</text>
<line x1="231.30" y1="497.83" x2="232.50" y2="497.83" stroke="#959595" stroke-width="0.6"/>
<text x="230.30" y="499.03" font-size="3.3" text-anchor="end" font-weight="bold" fill="#111" stroke="#111" stroke-width="0.14">100</text>
<line x1="247.70" y1="534.50" x2="247.70" y2="535.70" stroke="#959595" stroke-width="0.6"/>
<line x1="263.30" y1="534.50" x2="263.30" y2="535.70" stroke="#959595" stroke-width="0.6"/>
<line x1="279.10" y1="534.50" x2="279.10" y2="535.70" stroke="#959595" stroke-width="0.6"/>
<text x="247.70" y="539.50" font-size="3.4" text-anchor="middle" font-weight="bold" fill="#111" stroke="#111" stroke-width="0.15">0</text>
<text x="263.30" y="539.50" font-size="3.4" text-anchor="middle" font-weight="bold" fill="#111" stroke="#111" stroke-width="0.15">15</text>
<text x="279.10" y="539.50" font-size="3.4" text-anchor="middle" font-weight="bold" fill="#111" stroke="#111" stroke-width="0.15">25</text>
<text x="221.60" y="513.70" font-size="3.9" text-anchor="middle" font-weight="bold" fill="#111" stroke="#111" stroke-width="0.2" textLength="34.50" lengthAdjust="spacingAndGlyphs" transform="rotate(-90 221.60 513.70)">Caspase 8 (+) (%)</text>
<text x="263.00" y="545.70" font-size="4.2" text-anchor="middle" font-weight="bold" fill="#111" stroke="#111" stroke-width="0.18" textLength="27.00" lengthAdjust="spacingAndGlyphs">MEAS (µg/ml)</text>
</svg>
</body></html>
